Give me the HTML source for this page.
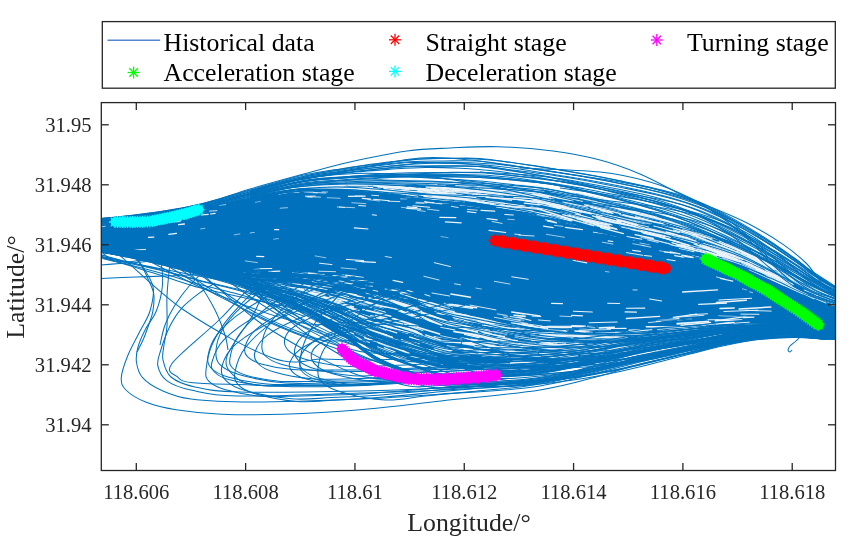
<!DOCTYPE html>
<html><head><meta charset="utf-8"><style>
html,body{margin:0;padding:0;background:#fff;}
svg{display:block;}
text{font-family:"Liberation Serif","Times New Roman",serif;}
</style></head><body>
<svg width="862" height="559" viewBox="0 0 862 559">
<rect width="862" height="559" fill="#fff"/>
<defs><clipPath id="c"><rect x="101.3" y="102.6" width="734.2" height="367.9"/></clipPath></defs>
<g clip-path="url(#c)">
<path d="M95.0,219.0 L150.0,215.0 L205.0,205.0 L250.0,194.0 L300.0,182.0 L360.0,179.0 L420.0,180.0 L480.0,182.0 L540.0,186.0 L600.0,198.0 L660.0,214.0 L700.0,228.0 L740.0,246.0 L780.0,266.0 L810.0,282.0 L840.0,296.0 L840.0,340.0 L780.0,335.0 L740.0,338.0 L700.0,344.0 L640.0,354.0 L600.0,360.0 L560.0,366.0 L500.0,370.0 L441.0,368.0 L400.0,358.0 L340.0,336.0 L300.0,312.0 L250.0,290.0 L200.0,272.0 L150.0,259.0 L95.0,250.0Z" fill="#0072BD"/>
<g stroke="#fff" stroke-linecap="round" opacity="0.92"><line x1="583.4" y1="221.8" x2="616.7" y2="229.2" stroke-width="0.94"/><line x1="741.8" y1="247.1" x2="776.4" y2="264.0" stroke-width="1.07"/><line x1="385.1" y1="182.0" x2="402.8" y2="182.1" stroke-width="1.10"/><line x1="537.3" y1="214.1" x2="571.1" y2="221.1" stroke-width="1.49"/><line x1="323.6" y1="181.3" x2="352.0" y2="180.3" stroke-width="0.73"/><line x1="510.8" y1="192.9" x2="548.3" y2="196.4" stroke-width="1.11"/><line x1="512.8" y1="188.0" x2="523.2" y2="188.5" stroke-width="1.25"/><line x1="323.3" y1="182.7" x2="333.4" y2="182.6" stroke-width="0.82"/><line x1="358.6" y1="188.5" x2="383.9" y2="190.5" stroke-width="1.21"/><line x1="661.6" y1="215.6" x2="687.9" y2="224.8" stroke-width="1.40"/><line x1="425.3" y1="189.1" x2="437.1" y2="190.0" stroke-width="0.96"/><line x1="285.4" y1="189.1" x2="306.8" y2="185.4" stroke-width="1.17"/><line x1="572.1" y1="208.4" x2="602.4" y2="215.7" stroke-width="1.05"/><line x1="346.9" y1="182.2" x2="359.8" y2="182.3" stroke-width="0.87"/><line x1="611.8" y1="207.3" x2="648.0" y2="216.2" stroke-width="0.81"/><line x1="722.3" y1="257.7" x2="759.4" y2="272.0" stroke-width="0.82"/><line x1="309.9" y1="187.5" x2="336.5" y2="188.5" stroke-width="1.41"/><line x1="600.0" y1="212.7" x2="621.3" y2="217.8" stroke-width="0.89"/><line x1="747.6" y1="256.1" x2="774.0" y2="269.7" stroke-width="1.30"/><line x1="431.4" y1="180.9" x2="445.0" y2="180.6" stroke-width="1.23"/><line x1="456.0" y1="190.1" x2="492.2" y2="191.7" stroke-width="1.17"/><line x1="624.8" y1="212.0" x2="650.3" y2="218.5" stroke-width="1.43"/><line x1="291.6" y1="188.9" x2="301.8" y2="187.2" stroke-width="1.35"/><line x1="270.3" y1="190.3" x2="304.8" y2="182.8" stroke-width="1.20"/><line x1="691.6" y1="235.5" x2="723.4" y2="246.8" stroke-width="0.86"/><line x1="422.2" y1="181.5" x2="442.6" y2="182.8" stroke-width="1.16"/><line x1="398.4" y1="181.4" x2="436.9" y2="184.3" stroke-width="1.48"/><line x1="511.5" y1="194.9" x2="548.4" y2="197.5" stroke-width="1.16"/><line x1="461.9" y1="199.5" x2="484.2" y2="201.4" stroke-width="0.75"/><line x1="455.9" y1="189.6" x2="494.5" y2="192.2" stroke-width="1.34"/><line x1="618.5" y1="222.0" x2="647.4" y2="230.4" stroke-width="0.97"/><line x1="449.1" y1="182.9" x2="460.7" y2="183.9" stroke-width="1.43"/><line x1="723.7" y1="238.9" x2="751.8" y2="252.9" stroke-width="1.18"/><line x1="602.5" y1="204.3" x2="641.4" y2="215.3" stroke-width="1.20"/><line x1="600.6" y1="201.2" x2="612.5" y2="204.2" stroke-width="1.31"/><line x1="715.0" y1="250.2" x2="728.4" y2="254.7" stroke-width="1.34"/><line x1="743.0" y1="255.2" x2="780.5" y2="273.8" stroke-width="0.72"/><line x1="354.0" y1="180.4" x2="369.6" y2="180.8" stroke-width="0.73"/><line x1="562.7" y1="193.0" x2="593.0" y2="199.1" stroke-width="0.95"/><line x1="783.4" y1="275.5" x2="817.7" y2="292.4" stroke-width="1.19"/><line x1="316.8" y1="184.4" x2="328.0" y2="184.6" stroke-width="1.47"/><line x1="736.5" y1="244.3" x2="756.6" y2="254.9" stroke-width="0.79"/><line x1="591.3" y1="219.8" x2="610.7" y2="223.3" stroke-width="1.34"/><line x1="264.4" y1="193.7" x2="300.9" y2="185.5" stroke-width="1.16"/><line x1="602.4" y1="214.5" x2="615.2" y2="217.9" stroke-width="1.21"/><line x1="717.4" y1="253.3" x2="737.2" y2="259.5" stroke-width="1.39"/><line x1="766.1" y1="260.4" x2="776.9" y2="265.9" stroke-width="0.87"/><line x1="550.1" y1="214.5" x2="571.5" y2="220.1" stroke-width="1.07"/><line x1="609.9" y1="201.9" x2="631.3" y2="207.6" stroke-width="1.23"/><line x1="721.0" y1="243.5" x2="742.1" y2="251.8" stroke-width="0.87"/><line x1="346.5" y1="181.0" x2="370.2" y2="181.7" stroke-width="1.30"/><line x1="564.4" y1="196.3" x2="576.8" y2="199.0" stroke-width="0.80"/><line x1="279.0" y1="187.2" x2="291.5" y2="184.5" stroke-width="0.92"/><line x1="381.8" y1="189.4" x2="410.4" y2="193.4" stroke-width="1.05"/><line x1="750.0" y1="255.2" x2="781.4" y2="272.0" stroke-width="1.28"/><line x1="681.8" y1="244.0" x2="712.1" y2="250.1" stroke-width="0.75"/><line x1="524.2" y1="203.1" x2="539.9" y2="204.9" stroke-width="1.13"/><line x1="672.0" y1="242.6" x2="685.8" y2="246.9" stroke-width="1.34"/><line x1="592.5" y1="215.8" x2="632.4" y2="226.8" stroke-width="1.37"/><line x1="682.7" y1="229.4" x2="712.0" y2="239.1" stroke-width="1.31"/><line x1="673.3" y1="236.8" x2="696.6" y2="243.5" stroke-width="1.04"/><line x1="729.6" y1="250.1" x2="751.2" y2="259.3" stroke-width="1.28"/><line x1="425.3" y1="194.5" x2="462.9" y2="197.9" stroke-width="0.81"/><line x1="679.4" y1="248.8" x2="693.9" y2="252.0" stroke-width="1.36"/><line x1="782.8" y1="268.1" x2="795.5" y2="275.5" stroke-width="0.79"/><line x1="301.5" y1="184.7" x2="324.9" y2="184.5" stroke-width="0.85"/><line x1="768.7" y1="262.3" x2="801.8" y2="279.5" stroke-width="1.08"/><line x1="385.0" y1="182.6" x2="416.6" y2="183.0" stroke-width="0.75"/><line x1="818.3" y1="298.3" x2="855.8" y2="312.0" stroke-width="1.02"/><line x1="339.9" y1="180.5" x2="350.9" y2="180.0" stroke-width="0.80"/><line x1="300.6" y1="187.1" x2="325.1" y2="187.1" stroke-width="1.24"/><line x1="360.9" y1="183.6" x2="379.4" y2="184.6" stroke-width="1.20"/><line x1="526.3" y1="189.9" x2="560.0" y2="198.7" stroke-width="0.84"/><line x1="267.5" y1="191.1" x2="306.9" y2="179.5" stroke-width="0.88"/><line x1="808.1" y1="283.6" x2="833.3" y2="293.7" stroke-width="1.43"/><line x1="395.8" y1="187.2" x2="407.8" y2="187.8" stroke-width="1.07"/><line x1="746.3" y1="262.5" x2="781.2" y2="278.9" stroke-width="1.27"/><line x1="727.8" y1="252.2" x2="759.8" y2="266.8" stroke-width="0.83"/><line x1="665.4" y1="219.0" x2="703.0" y2="230.4" stroke-width="0.96"/><line x1="786.7" y1="270.5" x2="812.2" y2="284.7" stroke-width="1.47"/><line x1="559.0" y1="211.5" x2="577.5" y2="215.8" stroke-width="1.26"/><line x1="600.5" y1="227.6" x2="623.5" y2="233.6" stroke-width="1.25"/><line x1="719.4" y1="241.1" x2="749.5" y2="254.9" stroke-width="1.14"/><line x1="676.4" y1="220.4" x2="708.2" y2="231.3" stroke-width="1.47"/><line x1="484.1" y1="189.1" x2="515.8" y2="191.6" stroke-width="1.28"/><line x1="240.9" y1="197.7" x2="267.6" y2="191.2" stroke-width="0.73"/><line x1="476.5" y1="194.0" x2="503.1" y2="196.3" stroke-width="1.17"/><line x1="324.0" y1="181.1" x2="360.4" y2="180.6" stroke-width="1.06"/><line x1="666.9" y1="234.1" x2="693.5" y2="242.5" stroke-width="1.07"/><line x1="581.9" y1="217.8" x2="612.2" y2="225.1" stroke-width="1.02"/><line x1="541.2" y1="193.9" x2="573.5" y2="200.9" stroke-width="1.07"/><line x1="673.4" y1="229.9" x2="693.6" y2="235.7" stroke-width="1.00"/><line x1="728.9" y1="256.3" x2="752.3" y2="264.8" stroke-width="0.73"/><line x1="435.8" y1="196.6" x2="463.2" y2="198.5" stroke-width="1.23"/><line x1="622.4" y1="218.9" x2="645.0" y2="224.1" stroke-width="0.93"/><line x1="367.5" y1="183.7" x2="407.5" y2="183.9" stroke-width="1.06"/><line x1="418.6" y1="188.2" x2="457.1" y2="191.2" stroke-width="1.00"/><line x1="358.4" y1="188.5" x2="383.2" y2="190.5" stroke-width="0.76"/><line x1="742.2" y1="251.5" x2="767.0" y2="262.7" stroke-width="1.04"/><line x1="717.8" y1="254.1" x2="742.1" y2="261.9" stroke-width="1.07"/><line x1="430.9" y1="188.2" x2="447.0" y2="189.8" stroke-width="1.27"/><line x1="677.1" y1="219.8" x2="709.1" y2="232.3" stroke-width="1.06"/><line x1="231.3" y1="200.0" x2="248.7" y2="195.9" stroke-width="1.00"/><line x1="595.6" y1="201.7" x2="619.9" y2="208.0" stroke-width="1.20"/><line x1="320.7" y1="188.5" x2="339.4" y2="188.6" stroke-width="0.91"/><line x1="226.6" y1="200.8" x2="259.8" y2="192.1" stroke-width="0.86"/><line x1="271.1" y1="190.2" x2="304.2" y2="181.9" stroke-width="1.44"/><line x1="603.6" y1="215.3" x2="636.6" y2="223.6" stroke-width="0.98"/><line x1="352.1" y1="182.1" x2="376.8" y2="183.2" stroke-width="1.05"/><line x1="602.4" y1="200.7" x2="616.6" y2="204.2" stroke-width="0.93"/><line x1="807.7" y1="281.0" x2="823.3" y2="288.3" stroke-width="1.08"/><line x1="484.2" y1="184.2" x2="502.3" y2="185.3" stroke-width="0.85"/><line x1="583.7" y1="203.4" x2="606.2" y2="208.5" stroke-width="0.83"/><line x1="776.2" y1="279.4" x2="806.3" y2="294.1" stroke-width="1.23"/><line x1="576.0" y1="214.1" x2="592.4" y2="218.7" stroke-width="1.41"/><line x1="267.7" y1="191.0" x2="278.7" y2="187.6" stroke-width="1.43"/><line x1="818.5" y1="292.9" x2="848.5" y2="306.0" stroke-width="1.16"/><line x1="799.5" y1="285.2" x2="819.6" y2="294.3" stroke-width="0.71"/><line x1="652.1" y1="229.6" x2="674.8" y2="236.4" stroke-width="1.30"/><line x1="408.5" y1="180.1" x2="422.5" y2="180.7" stroke-width="0.94"/><line x1="477.2" y1="202.2" x2="495.6" y2="205.0" stroke-width="1.24"/><line x1="741.2" y1="252.1" x2="751.3" y2="257.1" stroke-width="0.90"/><line x1="275.9" y1="192.1" x2="306.5" y2="184.1" stroke-width="0.91"/><line x1="785.6" y1="271.8" x2="816.6" y2="288.0" stroke-width="1.35"/><line x1="269.7" y1="190.8" x2="280.8" y2="188.6" stroke-width="1.38"/><line x1="237.5" y1="197.0" x2="270.5" y2="190.2" stroke-width="0.95"/><line x1="584.6" y1="204.9" x2="620.4" y2="213.6" stroke-width="1.31"/><line x1="596.2" y1="217.6" x2="617.5" y2="223.8" stroke-width="1.26"/><line x1="428.5" y1="179.8" x2="467.4" y2="182.3" stroke-width="0.86"/><line x1="655.7" y1="218.1" x2="679.8" y2="225.0" stroke-width="1.06"/><line x1="378.2" y1="181.6" x2="390.5" y2="182.5" stroke-width="0.92"/><line x1="298.7" y1="182.1" x2="322.7" y2="181.1" stroke-width="1.29"/><line x1="776.8" y1="267.2" x2="804.0" y2="281.5" stroke-width="0.76"/><line x1="267.8" y1="193.4" x2="292.0" y2="188.3" stroke-width="0.75"/><line x1="562.7" y1="214.6" x2="598.7" y2="223.8" stroke-width="1.12"/><line x1="430.1" y1="193.1" x2="442.3" y2="194.3" stroke-width="1.35"/><line x1="481.0" y1="189.3" x2="520.0" y2="193.8" stroke-width="0.73"/><line x1="444.8" y1="182.3" x2="457.2" y2="182.7" stroke-width="1.46"/><line x1="561.0" y1="205.8" x2="580.7" y2="211.2" stroke-width="1.30"/><line x1="563.9" y1="212.3" x2="590.4" y2="219.4" stroke-width="1.17"/><line x1="499.9" y1="184.9" x2="528.5" y2="187.8" stroke-width="0.81"/><line x1="537.7" y1="203.7" x2="559.8" y2="208.8" stroke-width="1.00"/><line x1="533.3" y1="200.2" x2="560.1" y2="208.1" stroke-width="1.35"/><line x1="782.5" y1="268.3" x2="800.0" y2="277.2" stroke-width="1.38"/><line x1="772.6" y1="262.4" x2="792.6" y2="272.8" stroke-width="1.08"/><line x1="782.2" y1="267.8" x2="797.4" y2="275.5" stroke-width="1.12"/><line x1="670.0" y1="226.4" x2="684.2" y2="231.4" stroke-width="1.49"/><line x1="663.3" y1="217.2" x2="697.6" y2="227.8" stroke-width="1.33"/><line x1="745.8" y1="250.3" x2="769.4" y2="262.3" stroke-width="1.11"/><line x1="296.6" y1="182.7" x2="315.1" y2="181.5" stroke-width="0.87"/><line x1="272.9" y1="189.6" x2="293.6" y2="185.9" stroke-width="0.92"/><line x1="403.1" y1="190.6" x2="420.7" y2="192.1" stroke-width="1.30"/><line x1="441.5" y1="197.7" x2="479.0" y2="201.1" stroke-width="1.29"/><line x1="350.4" y1="179.4" x2="373.6" y2="180.1" stroke-width="1.45"/><line x1="281.2" y1="189.5" x2="305.5" y2="184.7" stroke-width="1.48"/><line x1="626.7" y1="206.1" x2="663.9" y2="217.6" stroke-width="0.77"/><line x1="406.7" y1="194.7" x2="417.7" y2="196.3" stroke-width="1.19"/><line x1="231.0" y1="199.9" x2="254.8" y2="194.0" stroke-width="1.29"/><line x1="627.0" y1="236.5" x2="641.7" y2="239.3" stroke-width="1.03"/><line x1="681.4" y1="244.7" x2="721.2" y2="256.5" stroke-width="1.06"/><line x1="792.8" y1="288.5" x2="814.0" y2="298.8" stroke-width="1.02"/><line x1="427.8" y1="192.6" x2="451.9" y2="195.3" stroke-width="1.01"/><line x1="471.1" y1="183.1" x2="482.9" y2="183.6" stroke-width="1.15"/><line x1="621.6" y1="227.1" x2="638.5" y2="230.5" stroke-width="0.92"/><line x1="383.9" y1="188.3" x2="405.1" y2="191.4" stroke-width="1.21"/><line x1="303.9" y1="182.1" x2="334.9" y2="180.6" stroke-width="0.94"/><line x1="596.0" y1="197.5" x2="618.1" y2="202.9" stroke-width="0.90"/><line x1="409.0" y1="188.4" x2="436.7" y2="190.1" stroke-width="1.27"/><line x1="243.2" y1="198.2" x2="259.3" y2="195.1" stroke-width="0.86"/><line x1="820.5" y1="290.0" x2="848.6" y2="301.3" stroke-width="1.46"/><line x1="518.0" y1="197.0" x2="549.1" y2="201.1" stroke-width="0.96"/><line x1="544.0" y1="187.8" x2="560.1" y2="190.6" stroke-width="0.76"/><line x1="785.2" y1="274.4" x2="801.3" y2="282.4" stroke-width="0.71"/><line x1="338.3" y1="188.6" x2="375.3" y2="190.0" stroke-width="0.77"/><line x1="395.3" y1="179.8" x2="411.8" y2="179.9" stroke-width="0.80"/><line x1="597.9" y1="198.6" x2="612.6" y2="202.8" stroke-width="0.97"/><line x1="396.2" y1="180.0" x2="430.1" y2="180.9" stroke-width="1.14"/><line x1="586.6" y1="196.4" x2="604.4" y2="200.3" stroke-width="1.46"/><line x1="710.2" y1="245.7" x2="735.7" y2="255.2" stroke-width="1.41"/><line x1="227.4" y1="200.1" x2="258.2" y2="191.7" stroke-width="1.33"/><line x1="484.0" y1="184.5" x2="495.1" y2="185.0" stroke-width="1.48"/><line x1="345.2" y1="187.4" x2="367.3" y2="188.4" stroke-width="1.10"/><line x1="467.7" y1="183.5" x2="499.0" y2="185.8" stroke-width="1.40"/><line x1="764.6" y1="261.9" x2="783.1" y2="271.3" stroke-width="1.10"/><line x1="241.9" y1="195.4" x2="281.6" y2="187.0" stroke-width="0.74"/><line x1="515.7" y1="194.5" x2="538.7" y2="196.4" stroke-width="1.46"/><line x1="268.9" y1="189.4" x2="291.1" y2="184.9" stroke-width="1.20"/><line x1="658.9" y1="227.2" x2="675.2" y2="232.8" stroke-width="0.71"/><line x1="635.0" y1="210.0" x2="659.1" y2="217.2" stroke-width="1.13"/><line x1="221.5" y1="201.3" x2="251.4" y2="194.8" stroke-width="0.90"/><line x1="533.1" y1="192.0" x2="558.2" y2="197.0" stroke-width="1.23"/><line x1="291.4" y1="186.3" x2="330.2" y2="188.6" stroke-width="1.07"/><line x1="733.1" y1="246.3" x2="767.2" y2="262.7" stroke-width="1.28"/><line x1="394.9" y1="186.6" x2="432.7" y2="190.2" stroke-width="1.35"/><line x1="536.5" y1="192.2" x2="557.0" y2="197.1" stroke-width="0.91"/><line x1="583.8" y1="196.1" x2="613.8" y2="201.9" stroke-width="1.48"/><line x1="761.4" y1="270.9" x2="776.8" y2="277.6" stroke-width="0.86"/><line x1="741.9" y1="263.6" x2="770.5" y2="276.6" stroke-width="0.86"/><line x1="525.6" y1="189.8" x2="539.3" y2="190.9" stroke-width="1.34"/><line x1="785.1" y1="269.9" x2="795.5" y2="275.4" stroke-width="0.81"/><line x1="309.4" y1="184.6" x2="332.1" y2="184.6" stroke-width="0.86"/><line x1="614.3" y1="206.7" x2="636.3" y2="213.8" stroke-width="1.42"/><line x1="348.0" y1="185.8" x2="367.3" y2="186.0" stroke-width="1.02"/><line x1="508.2" y1="205.8" x2="538.4" y2="208.3" stroke-width="0.81"/><line x1="824.6" y1="289.1" x2="843.6" y2="297.5" stroke-width="0.71"/><line x1="297.0" y1="183.1" x2="309.6" y2="182.0" stroke-width="1.17"/><line x1="386.6" y1="179.7" x2="420.9" y2="181.2" stroke-width="1.15"/><line x1="273.7" y1="189.9" x2="302.6" y2="184.2" stroke-width="1.39"/><line x1="442.9" y1="188.4" x2="456.3" y2="189.5" stroke-width="1.31"/><line x1="648.1" y1="215.7" x2="687.9" y2="226.6" stroke-width="1.04"/><line x1="457.9" y1="196.2" x2="473.2" y2="197.5" stroke-width="1.28"/><line x1="518.4" y1="206.6" x2="542.5" y2="209.1" stroke-width="0.93"/><line x1="773.0" y1="266.3" x2="803.8" y2="281.7" stroke-width="1.45"/><line x1="786.8" y1="270.8" x2="826.6" y2="289.9" stroke-width="0.76"/><line x1="504.9" y1="183.8" x2="531.3" y2="186.0" stroke-width="0.99"/><line x1="377.7" y1="185.1" x2="412.3" y2="188.9" stroke-width="0.96"/><line x1="554.0" y1="188.4" x2="575.2" y2="193.5" stroke-width="0.80"/><line x1="747.3" y1="260.4" x2="766.1" y2="269.4" stroke-width="0.93"/><line x1="765.9" y1="259.5" x2="779.5" y2="266.3" stroke-width="1.06"/><line x1="284.9" y1="187.8" x2="303.8" y2="183.3" stroke-width="1.29"/><line x1="734.5" y1="242.7" x2="762.3" y2="258.5" stroke-width="1.07"/><line x1="674.4" y1="220.8" x2="710.6" y2="232.0" stroke-width="1.41"/><line x1="697.9" y1="248.8" x2="709.6" y2="252.4" stroke-width="0.86"/><line x1="356.2" y1="181.1" x2="384.0" y2="182.2" stroke-width="1.45"/><line x1="306.5" y1="183.1" x2="341.1" y2="182.4" stroke-width="1.11"/><line x1="677.2" y1="236.0" x2="695.9" y2="240.9" stroke-width="1.07"/><line x1="757.5" y1="264.2" x2="769.1" y2="269.5" stroke-width="1.01"/><line x1="553.5" y1="203.7" x2="592.0" y2="210.0" stroke-width="1.03"/><line x1="577.1" y1="218.8" x2="608.2" y2="227.4" stroke-width="1.35"/><line x1="501.4" y1="206.9" x2="519.8" y2="209.6" stroke-width="0.94"/><line x1="729.7" y1="251.2" x2="755.0" y2="263.0" stroke-width="1.33"/><line x1="224.0" y1="202.6" x2="260.3" y2="194.2" stroke-width="0.80"/><line x1="760.0" y1="263.1" x2="773.7" y2="269.1" stroke-width="0.90"/><line x1="442.3" y1="190.8" x2="479.7" y2="194.9" stroke-width="0.83"/><line x1="485.7" y1="190.8" x2="525.3" y2="195.3" stroke-width="1.11"/><line x1="776.3" y1="268.9" x2="794.1" y2="278.4" stroke-width="0.96"/><line x1="785.2" y1="269.0" x2="801.4" y2="278.3" stroke-width="1.27"/><line x1="369.2" y1="190.0" x2="406.0" y2="193.4" stroke-width="0.90"/><line x1="431.6" y1="198.8" x2="464.5" y2="201.6" stroke-width="1.26"/><line x1="771.2" y1="279.3" x2="802.7" y2="293.6" stroke-width="1.37"/><line x1="413.4" y1="180.5" x2="445.2" y2="181.6" stroke-width="1.01"/><line x1="824.4" y1="296.0" x2="850.1" y2="304.4" stroke-width="0.93"/><line x1="829.2" y1="304.7" x2="850.1" y2="308.1" stroke-width="0.80"/><line x1="780.9" y1="268.2" x2="791.1" y2="273.6" stroke-width="1.18"/><line x1="624.3" y1="224.6" x2="635.6" y2="227.6" stroke-width="1.10"/><line x1="216.1" y1="203.3" x2="248.2" y2="195.1" stroke-width="1.19"/><line x1="211.2" y1="204.5" x2="248.2" y2="194.0" stroke-width="1.13"/><line x1="224.5" y1="202.0" x2="239.6" y2="198.8" stroke-width="1.14"/><line x1="643.9" y1="236.9" x2="676.0" y2="245.9" stroke-width="0.76"/><line x1="647.5" y1="239.9" x2="658.0" y2="242.4" stroke-width="0.84"/><line x1="480.2" y1="190.7" x2="508.6" y2="194.8" stroke-width="1.25"/><line x1="439.1" y1="192.8" x2="463.1" y2="195.1" stroke-width="0.99"/><line x1="507.1" y1="188.0" x2="524.4" y2="189.5" stroke-width="1.05"/><line x1="370.0" y1="188.9" x2="405.4" y2="192.2" stroke-width="1.20"/><line x1="764.1" y1="262.2" x2="790.8" y2="275.9" stroke-width="1.22"/><line x1="794.8" y1="276.4" x2="833.7" y2="293.5" stroke-width="1.34"/><line x1="596.6" y1="223.1" x2="616.4" y2="228.7" stroke-width="0.91"/><line x1="517.5" y1="199.5" x2="533.6" y2="201.9" stroke-width="1.33"/><line x1="707.9" y1="245.4" x2="727.5" y2="252.9" stroke-width="0.77"/><line x1="609.7" y1="215.2" x2="638.3" y2="222.5" stroke-width="0.88"/><line x1="648.4" y1="221.0" x2="680.7" y2="230.4" stroke-width="0.77"/><line x1="528.3" y1="197.8" x2="566.0" y2="206.5" stroke-width="0.75"/><line x1="678.5" y1="224.8" x2="709.4" y2="235.1" stroke-width="0.96"/><line x1="497.1" y1="193.1" x2="527.9" y2="196.4" stroke-width="1.24"/><line x1="435.6" y1="191.4" x2="456.0" y2="193.7" stroke-width="1.07"/><line x1="547.7" y1="187.9" x2="572.7" y2="192.4" stroke-width="1.01"/><line x1="228.8" y1="201.1" x2="265.6" y2="191.5" stroke-width="0.78"/><line x1="578.6" y1="196.2" x2="615.3" y2="202.2" stroke-width="0.99"/><line x1="506.8" y1="184.9" x2="526.4" y2="186.6" stroke-width="1.27"/><line x1="814.4" y1="287.6" x2="848.1" y2="302.6" stroke-width="1.16"/><line x1="459.6" y1="185.7" x2="494.3" y2="186.1" stroke-width="0.81"/><line x1="367.3" y1="188.4" x2="407.0" y2="192.0" stroke-width="1.40"/><line x1="815.2" y1="294.3" x2="844.6" y2="305.8" stroke-width="1.00"/><line x1="589.5" y1="224.2" x2="608.6" y2="228.8" stroke-width="0.72"/><line x1="628.9" y1="216.3" x2="662.9" y2="223.7" stroke-width="1.23"/><line x1="623.0" y1="214.7" x2="638.6" y2="218.9" stroke-width="1.30"/><line x1="309.1" y1="182.4" x2="333.0" y2="180.0" stroke-width="1.34"/><line x1="705.4" y1="253.9" x2="740.6" y2="264.5" stroke-width="0.85"/><line x1="710.5" y1="248.9" x2="742.9" y2="259.3" stroke-width="1.36"/><line x1="377.9" y1="187.2" x2="403.4" y2="188.5" stroke-width="0.96"/><line x1="289.0" y1="185.5" x2="310.0" y2="183.2" stroke-width="1.38"/><line x1="616.4" y1="219.8" x2="655.9" y2="231.4" stroke-width="1.11"/><line x1="240.0" y1="198.0" x2="278.5" y2="187.5" stroke-width="1.31"/><line x1="736.9" y1="251.3" x2="770.8" y2="269.6" stroke-width="0.98"/><line x1="514.1" y1="187.0" x2="533.3" y2="188.2" stroke-width="1.49"/><line x1="395.4" y1="181.4" x2="433.6" y2="182.8" stroke-width="1.47"/><line x1="734.7" y1="254.8" x2="757.5" y2="264.8" stroke-width="0.78"/><line x1="255.2" y1="193.7" x2="277.5" y2="188.2" stroke-width="1.13"/><line x1="826.8" y1="298.4" x2="841.2" y2="304.2" stroke-width="0.83"/><line x1="796.2" y1="278.7" x2="811.9" y2="286.1" stroke-width="1.22"/><line x1="479.4" y1="182.0" x2="510.9" y2="184.2" stroke-width="1.32"/><line x1="500.8" y1="193.4" x2="524.6" y2="196.4" stroke-width="1.49"/><line x1="698.2" y1="228.4" x2="723.1" y2="238.3" stroke-width="0.78"/><line x1="305.5" y1="181.7" x2="344.3" y2="182.1" stroke-width="1.38"/><line x1="636.4" y1="214.3" x2="658.1" y2="219.0" stroke-width="0.93"/><line x1="463.6" y1="196.5" x2="475.9" y2="197.6" stroke-width="1.08"/><line x1="616.9" y1="220.2" x2="648.7" y2="226.9" stroke-width="0.84"/><line x1="381.4" y1="182.2" x2="414.1" y2="182.3" stroke-width="1.25"/><line x1="371.6" y1="188.6" x2="409.3" y2="191.8" stroke-width="0.98"/><line x1="409.3" y1="187.2" x2="445.2" y2="192.9" stroke-width="0.85"/><line x1="273.6" y1="191.2" x2="302.4" y2="187.0" stroke-width="0.76"/><line x1="419.3" y1="192.7" x2="449.2" y2="196.1" stroke-width="1.02"/><line x1="596.3" y1="215.9" x2="619.9" y2="222.0" stroke-width="1.47"/><line x1="485.5" y1="196.8" x2="511.6" y2="200.5" stroke-width="0.89"/><line x1="232.3" y1="198.4" x2="248.3" y2="194.8" stroke-width="0.96"/><line x1="426.7" y1="194.3" x2="437.4" y2="195.1" stroke-width="1.35"/><line x1="532.7" y1="193.4" x2="550.7" y2="197.0" stroke-width="0.88"/><line x1="739.5" y1="261.1" x2="759.2" y2="270.0" stroke-width="1.41"/><line x1="373.3" y1="185.8" x2="409.0" y2="189.5" stroke-width="1.39"/><line x1="501.1" y1="202.9" x2="525.0" y2="206.0" stroke-width="1.08"/><line x1="397.2" y1="190.3" x2="432.1" y2="193.5" stroke-width="0.83"/><line x1="426.2" y1="187.1" x2="464.9" y2="188.4" stroke-width="1.47"/><line x1="658.0" y1="231.5" x2="676.1" y2="235.4" stroke-width="0.70"/><line x1="726.9" y1="243.9" x2="739.3" y2="248.8" stroke-width="0.96"/><line x1="654.9" y1="212.2" x2="671.8" y2="218.2" stroke-width="1.38"/><line x1="594.2" y1="210.8" x2="610.9" y2="214.9" stroke-width="1.31"/><line x1="520.0" y1="186.7" x2="536.5" y2="187.9" stroke-width="0.75"/><line x1="450.8" y1="187.8" x2="469.4" y2="188.8" stroke-width="0.97"/><line x1="428.7" y1="189.6" x2="453.6" y2="192.1" stroke-width="1.34"/><line x1="512.7" y1="192.8" x2="544.1" y2="195.8" stroke-width="1.38"/><line x1="703.4" y1="243.8" x2="735.0" y2="255.8" stroke-width="1.26"/><line x1="356.1" y1="180.6" x2="369.7" y2="180.9" stroke-width="0.72"/><line x1="603.8" y1="220.3" x2="637.1" y2="228.4" stroke-width="1.21"/><line x1="728.6" y1="241.1" x2="744.4" y2="248.1" stroke-width="1.07"/><line x1="300.0" y1="184.6" x2="320.3" y2="184.1" stroke-width="1.13"/><line x1="623.6" y1="209.1" x2="654.8" y2="216.5" stroke-width="1.28"/><line x1="230.2" y1="200.7" x2="257.5" y2="195.4" stroke-width="1.05"/><line x1="522.5" y1="195.4" x2="540.0" y2="197.2" stroke-width="0.99"/><line x1="694.2" y1="234.3" x2="705.4" y2="238.0" stroke-width="0.86"/><line x1="812.2" y1="285.4" x2="838.4" y2="297.9" stroke-width="0.74"/><line x1="768.8" y1="277.4" x2="784.4" y2="284.3" stroke-width="1.00"/><line x1="290.3" y1="185.5" x2="323.7" y2="185.2" stroke-width="1.24"/><line x1="331.4" y1="183.7" x2="362.5" y2="183.4" stroke-width="1.06"/><line x1="729.0" y1="241.1" x2="747.1" y2="249.3" stroke-width="1.49"/><line x1="334.4" y1="180.5" x2="356.9" y2="179.2" stroke-width="0.82"/><line x1="721.8" y1="239.9" x2="753.0" y2="254.0" stroke-width="1.41"/><line x1="311.3" y1="185.9" x2="346.4" y2="186.0" stroke-width="0.77"/><line x1="562.9" y1="201.9" x2="587.3" y2="207.1" stroke-width="1.07"/><line x1="506.3" y1="193.1" x2="529.9" y2="195.1" stroke-width="0.83"/><line x1="380.3" y1="181.3" x2="397.7" y2="182.2" stroke-width="0.79"/><line x1="321.8" y1="184.5" x2="341.2" y2="183.4" stroke-width="1.00"/><line x1="501.7" y1="198.3" x2="540.9" y2="201.6" stroke-width="1.04"/><line x1="480.5" y1="188.5" x2="497.6" y2="190.7" stroke-width="0.75"/><line x1="317.3" y1="185.2" x2="345.0" y2="185.4" stroke-width="1.45"/><line x1="455.7" y1="191.4" x2="468.4" y2="192.3" stroke-width="0.78"/><line x1="433.0" y1="196.7" x2="471.4" y2="200.3" stroke-width="1.36"/><line x1="337.5" y1="180.1" x2="361.1" y2="179.1" stroke-width="1.47"/><line x1="403.1" y1="181.8" x2="413.5" y2="181.4" stroke-width="0.76"/><line x1="765.4" y1="269.6" x2="786.5" y2="279.9" stroke-width="1.34"/><line x1="390.0" y1="189.7" x2="427.9" y2="196.4" stroke-width="0.98"/><line x1="766.2" y1="275.9" x2="786.6" y2="285.9" stroke-width="1.39"/><line x1="612.0" y1="204.8" x2="639.0" y2="212.8" stroke-width="1.44"/><line x1="413.3" y1="181.9" x2="424.6" y2="181.8" stroke-width="1.49"/><line x1="320.2" y1="183.5" x2="359.3" y2="182.7" stroke-width="0.94"/><line x1="706.6" y1="232.6" x2="744.5" y2="248.0" stroke-width="0.81"/><line x1="563.7" y1="203.3" x2="594.5" y2="211.3" stroke-width="1.01"/><line x1="346.5" y1="181.4" x2="361.7" y2="181.0" stroke-width="1.41"/><line x1="418.1" y1="190.5" x2="442.8" y2="192.8" stroke-width="0.98"/><line x1="804.0" y1="283.3" x2="831.4" y2="294.5" stroke-width="0.94"/><line x1="701.7" y1="230.4" x2="733.7" y2="243.8" stroke-width="1.37"/><line x1="804.4" y1="290.0" x2="843.7" y2="304.6" stroke-width="1.12"/><line x1="325.4" y1="181.4" x2="348.6" y2="179.5" stroke-width="1.32"/><line x1="793.6" y1="275.6" x2="812.4" y2="285.6" stroke-width="1.42"/><line x1="659.4" y1="220.5" x2="683.3" y2="227.8" stroke-width="0.99"/><line x1="703.4" y1="247.5" x2="727.4" y2="256.0" stroke-width="1.01"/><line x1="670.0" y1="232.9" x2="689.9" y2="239.0" stroke-width="1.18"/><line x1="523.7" y1="183.4" x2="563.4" y2="192.6" stroke-width="0.73"/><line x1="797.5" y1="282.5" x2="811.2" y2="289.0" stroke-width="1.05"/><line x1="643.4" y1="233.1" x2="669.5" y2="239.2" stroke-width="1.36"/><line x1="635.1" y1="234.6" x2="653.2" y2="238.5" stroke-width="1.40"/><line x1="417.2" y1="185.0" x2="437.2" y2="186.2" stroke-width="0.89"/><line x1="395.7" y1="180.8" x2="428.7" y2="180.5" stroke-width="1.15"/><line x1="365.8" y1="181.3" x2="398.4" y2="183.9" stroke-width="1.18"/><line x1="452.1" y1="190.1" x2="489.0" y2="192.9" stroke-width="1.12"/><line x1="620.4" y1="204.5" x2="659.3" y2="214.7" stroke-width="1.35"/><line x1="597.3" y1="225.7" x2="609.9" y2="228.6" stroke-width="1.29"/><line x1="772.7" y1="272.0" x2="800.8" y2="286.1" stroke-width="1.16"/><line x1="537.7" y1="208.8" x2="572.5" y2="219.7" stroke-width="1.44"/><line x1="230.4" y1="200.3" x2="254.3" y2="195.2" stroke-width="0.94"/><line x1="493.6" y1="201.4" x2="504.6" y2="202.7" stroke-width="1.09"/><line x1="727.6" y1="242.4" x2="762.3" y2="260.9" stroke-width="0.94"/><line x1="536.2" y1="200.6" x2="572.6" y2="209.1" stroke-width="0.90"/><line x1="666.4" y1="231.9" x2="688.0" y2="238.1" stroke-width="1.42"/><line x1="499.8" y1="205.2" x2="513.6" y2="206.9" stroke-width="1.31"/><line x1="383.1" y1="185.7" x2="408.0" y2="187.8" stroke-width="1.30"/><line x1="665.6" y1="217.9" x2="683.4" y2="224.1" stroke-width="1.43"/><line x1="746.3" y1="256.9" x2="767.4" y2="266.5" stroke-width="0.84"/><line x1="510.0" y1="187.3" x2="524.9" y2="188.4" stroke-width="0.75"/><line x1="486.3" y1="197.2" x2="515.8" y2="199.4" stroke-width="1.41"/><line x1="593.9" y1="224.2" x2="617.3" y2="229.5" stroke-width="0.93"/><line x1="523.1" y1="210.5" x2="551.1" y2="215.0" stroke-width="1.33"/><line x1="394.6" y1="191.3" x2="405.2" y2="192.1" stroke-width="0.84"/><line x1="359.3" y1="189.1" x2="370.1" y2="190.4" stroke-width="1.16"/><line x1="639.2" y1="229.6" x2="660.7" y2="235.4" stroke-width="1.38"/><line x1="269.7" y1="189.0" x2="286.6" y2="185.7" stroke-width="1.45"/><line x1="653.6" y1="226.1" x2="679.3" y2="232.7" stroke-width="1.20"/><line x1="407.2" y1="180.5" x2="423.3" y2="180.5" stroke-width="1.21"/><line x1="691.7" y1="224.6" x2="728.7" y2="241.2" stroke-width="1.44"/><line x1="563.2" y1="203.3" x2="597.8" y2="211.3" stroke-width="1.24"/><line x1="290.5" y1="186.0" x2="311.2" y2="183.9" stroke-width="0.81"/><line x1="490.6" y1="185.0" x2="523.6" y2="190.3" stroke-width="0.71"/><line x1="825.4" y1="293.9" x2="850.7" y2="301.2" stroke-width="0.87"/><line x1="451.9" y1="196.1" x2="463.1" y2="196.8" stroke-width="1.49"/><line x1="549.4" y1="194.9" x2="566.4" y2="198.2" stroke-width="0.96"/><line x1="728.3" y1="240.3" x2="761.9" y2="256.7" stroke-width="0.72"/><line x1="229.4" y1="200.3" x2="259.6" y2="194.0" stroke-width="1.39"/><line x1="327.8" y1="183.1" x2="341.2" y2="182.9" stroke-width="0.77"/><line x1="302.4" y1="186.0" x2="327.4" y2="186.5" stroke-width="1.29"/><line x1="572.7" y1="196.3" x2="603.7" y2="201.4" stroke-width="0.92"/><line x1="480.2" y1="183.1" x2="493.4" y2="184.1" stroke-width="1.29"/><line x1="429.1" y1="185.3" x2="445.4" y2="186.2" stroke-width="1.16"/><line x1="778.9" y1="265.9" x2="816.1" y2="285.2" stroke-width="0.98"/><line x1="649.8" y1="233.9" x2="679.3" y2="242.4" stroke-width="1.20"/><line x1="749.0" y1="251.5" x2="773.4" y2="263.4" stroke-width="1.38"/><line x1="682.0" y1="222.0" x2="714.4" y2="233.5" stroke-width="0.80"/><line x1="526.1" y1="201.0" x2="546.1" y2="203.4" stroke-width="1.48"/><line x1="600.8" y1="210.6" x2="612.8" y2="213.3" stroke-width="1.38"/><line x1="661.6" y1="237.5" x2="688.9" y2="245.4" stroke-width="1.12"/><line x1="658.0" y1="220.1" x2="682.9" y2="227.5" stroke-width="1.23"/><line x1="332.0" y1="180.6" x2="344.7" y2="179.7" stroke-width="1.39"/><line x1="647.1" y1="230.0" x2="670.4" y2="237.5" stroke-width="1.07"/><line x1="737.8" y1="251.9" x2="766.8" y2="267.5" stroke-width="0.82"/><line x1="590.9" y1="207.4" x2="611.2" y2="212.3" stroke-width="1.26"/><line x1="394.6" y1="186.5" x2="412.4" y2="187.8" stroke-width="1.00"/><line x1="490.5" y1="204.8" x2="522.0" y2="208.0" stroke-width="0.97"/><line x1="718.0" y1="242.0" x2="757.6" y2="258.7" stroke-width="1.23"/><line x1="716.1" y1="245.6" x2="748.1" y2="257.4" stroke-width="0.81"/><line x1="338.8" y1="184.5" x2="371.7" y2="183.7" stroke-width="1.47"/><line x1="405.1" y1="196.8" x2="437.7" y2="199.3" stroke-width="0.99"/><line x1="247.3" y1="194.8" x2="276.2" y2="187.8" stroke-width="1.43"/><line x1="424.1" y1="196.5" x2="443.0" y2="199.4" stroke-width="1.44"/><line x1="283.6" y1="189.1" x2="314.8" y2="184.9" stroke-width="1.37"/><line x1="533.0" y1="195.7" x2="554.0" y2="199.5" stroke-width="1.42"/><line x1="293.6" y1="186.0" x2="311.9" y2="186.4" stroke-width="0.86"/><line x1="558.3" y1="195.1" x2="575.5" y2="197.7" stroke-width="0.96"/><line x1="683.2" y1="222.9" x2="707.7" y2="230.1" stroke-width="0.74"/><line x1="368.2" y1="188.7" x2="408.1" y2="195.1" stroke-width="0.84"/><line x1="681.5" y1="230.9" x2="696.6" y2="235.2" stroke-width="1.44"/><line x1="755.5" y1="259.0" x2="767.4" y2="264.7" stroke-width="1.49"/><line x1="514.1" y1="187.6" x2="540.4" y2="189.4" stroke-width="1.09"/><line x1="416.2" y1="182.6" x2="435.1" y2="183.0" stroke-width="0.90"/><line x1="794.1" y1="274.4" x2="825.9" y2="289.6" stroke-width="1.02"/><line x1="565.9" y1="195.3" x2="596.0" y2="200.5" stroke-width="1.29"/><line x1="496.7" y1="207.0" x2="532.7" y2="211.2" stroke-width="1.25"/><line x1="361.2" y1="189.4" x2="390.5" y2="192.8" stroke-width="0.93"/><line x1="815.8" y1="285.2" x2="841.7" y2="297.4" stroke-width="0.85"/><line x1="678.3" y1="220.9" x2="699.8" y2="228.6" stroke-width="1.38"/><line x1="234.9" y1="197.6" x2="270.6" y2="190.5" stroke-width="1.26"/><line x1="819.4" y1="286.7" x2="849.3" y2="300.1" stroke-width="0.76"/><line x1="239.5" y1="198.2" x2="267.9" y2="192.5" stroke-width="0.71"/><line x1="525.2" y1="185.3" x2="557.6" y2="189.3" stroke-width="1.35"/><line x1="254.7" y1="194.0" x2="267.7" y2="191.3" stroke-width="1.15"/><line x1="335.0" y1="188.0" x2="365.4" y2="190.3" stroke-width="1.38"/><line x1="433.7" y1="197.6" x2="452.6" y2="200.6" stroke-width="0.75"/><line x1="658.8" y1="218.9" x2="681.5" y2="226.5" stroke-width="0.74"/><line x1="327.0" y1="180.3" x2="359.2" y2="180.2" stroke-width="1.10"/><line x1="391.2" y1="181.5" x2="429.3" y2="182.6" stroke-width="1.22"/><line x1="641.9" y1="232.5" x2="659.8" y2="236.6" stroke-width="1.07"/><line x1="290.0" y1="182.5" x2="327.6" y2="180.7" stroke-width="1.03"/><line x1="274.3" y1="191.4" x2="300.3" y2="185.9" stroke-width="1.49"/><line x1="791.1" y1="288.4" x2="825.9" y2="303.0" stroke-width="0.94"/><line x1="602.8" y1="200.7" x2="631.3" y2="208.9" stroke-width="0.71"/><line x1="642.5" y1="216.2" x2="673.4" y2="224.2" stroke-width="1.37"/><line x1="579.2" y1="218.5" x2="609.0" y2="225.3" stroke-width="1.42"/><line x1="216.9" y1="202.3" x2="238.5" y2="197.2" stroke-width="0.84"/><line x1="751.3" y1="251.7" x2="766.8" y2="259.5" stroke-width="0.88"/><line x1="348.9" y1="188.3" x2="381.8" y2="192.1" stroke-width="0.81"/><line x1="355.3" y1="189.6" x2="389.1" y2="193.0" stroke-width="1.27"/><line x1="431.2" y1="192.3" x2="450.1" y2="194.0" stroke-width="0.72"/><line x1="370.9" y1="189.5" x2="407.6" y2="192.8" stroke-width="1.30"/><line x1="306.1" y1="182.4" x2="343.1" y2="182.9" stroke-width="1.05"/><line x1="676.7" y1="245.2" x2="716.6" y2="256.2" stroke-width="1.22"/><line x1="437.7" y1="187.1" x2="461.5" y2="188.9" stroke-width="0.72"/><line x1="673.0" y1="236.0" x2="708.2" y2="245.9" stroke-width="0.89"/><line x1="569.4" y1="218.9" x2="593.6" y2="225.8" stroke-width="1.18"/><line x1="794.3" y1="289.5" x2="831.3" y2="302.7" stroke-width="0.91"/><line x1="739.4" y1="259.9" x2="774.9" y2="276.7" stroke-width="0.93"/><line x1="335.0" y1="188.4" x2="372.6" y2="187.5" stroke-width="1.40"/><line x1="430.6" y1="187.0" x2="457.6" y2="187.6" stroke-width="0.91"/><line x1="357.9" y1="180.4" x2="383.4" y2="181.7" stroke-width="1.32"/><line x1="297.2" y1="184.0" x2="326.5" y2="183.3" stroke-width="1.03"/><line x1="542.0" y1="198.8" x2="578.8" y2="206.8" stroke-width="0.80"/><line x1="718.1" y1="246.0" x2="748.4" y2="258.1" stroke-width="1.08"/><line x1="630.9" y1="229.4" x2="665.0" y2="236.5" stroke-width="1.37"/><line x1="546.0" y1="203.2" x2="581.6" y2="212.0" stroke-width="1.44"/><line x1="753.3" y1="267.1" x2="774.7" y2="276.8" stroke-width="0.84"/><line x1="678.6" y1="244.6" x2="693.4" y2="248.2" stroke-width="1.43"/><line x1="501.2" y1="187.3" x2="512.1" y2="188.3" stroke-width="0.97"/><line x1="514.5" y1="187.0" x2="542.7" y2="188.9" stroke-width="1.35"/><line x1="617.7" y1="222.8" x2="635.2" y2="226.8" stroke-width="1.40"/><line x1="780.0" y1="274.6" x2="817.6" y2="295.5" stroke-width="1.18"/><line x1="455.8" y1="185.5" x2="480.5" y2="188.1" stroke-width="1.04"/><line x1="514.0" y1="184.4" x2="535.8" y2="186.0" stroke-width="1.21"/><line x1="704.6" y1="243.8" x2="734.5" y2="253.1" stroke-width="0.90"/><line x1="421.6" y1="193.9" x2="460.0" y2="198.7" stroke-width="0.71"/><line x1="801.2" y1="291.4" x2="829.4" y2="302.4" stroke-width="1.18"/><line x1="767.4" y1="262.4" x2="790.7" y2="273.7" stroke-width="0.87"/><line x1="641.8" y1="214.1" x2="673.1" y2="221.8" stroke-width="1.04"/><line x1="817.3" y1="293.1" x2="850.0" y2="306.5" stroke-width="0.79"/><line x1="640.9" y1="237.4" x2="669.8" y2="243.7" stroke-width="0.75"/><line x1="756.2" y1="269.8" x2="785.1" y2="283.6" stroke-width="1.26"/><line x1="340.7" y1="185.1" x2="371.5" y2="185.4" stroke-width="0.91"/><line x1="317.1" y1="186.8" x2="333.5" y2="187.2" stroke-width="0.90"/><line x1="514.1" y1="197.6" x2="550.4" y2="199.2" stroke-width="1.47"/><line x1="758.8" y1="261.8" x2="773.1" y2="268.3" stroke-width="0.88"/><line x1="580.9" y1="198.4" x2="615.4" y2="206.7" stroke-width="1.04"/><line x1="326.3" y1="187.3" x2="354.9" y2="187.9" stroke-width="0.95"/><line x1="296.5" y1="185.9" x2="329.4" y2="188.2" stroke-width="1.50"/><line x1="544.0" y1="189.1" x2="572.2" y2="195.3" stroke-width="1.11"/><line x1="475.1" y1="191.4" x2="512.8" y2="196.1" stroke-width="1.03"/><line x1="706.5" y1="251.5" x2="739.7" y2="261.8" stroke-width="1.42"/><line x1="505.8" y1="184.9" x2="523.9" y2="185.9" stroke-width="1.00"/><line x1="462.7" y1="187.3" x2="478.5" y2="188.5" stroke-width="0.74"/><line x1="618.6" y1="209.3" x2="642.3" y2="215.7" stroke-width="1.20"/><line x1="699.5" y1="245.2" x2="738.1" y2="259.4" stroke-width="1.01"/><line x1="788.5" y1="277.2" x2="827.0" y2="295.4" stroke-width="0.75"/><line x1="760.5" y1="262.0" x2="785.7" y2="273.7" stroke-width="0.88"/><line x1="810.9" y1="286.4" x2="828.4" y2="294.7" stroke-width="1.11"/><line x1="493.1" y1="203.1" x2="504.6" y2="204.9" stroke-width="0.82"/><line x1="575.4" y1="214.1" x2="599.8" y2="221.1" stroke-width="1.21"/><line x1="347.7" y1="189.1" x2="367.6" y2="190.7" stroke-width="1.09"/><line x1="334.2" y1="180.5" x2="350.7" y2="179.3" stroke-width="1.05"/><line x1="474.1" y1="191.2" x2="498.3" y2="193.9" stroke-width="0.91"/><line x1="799.7" y1="278.1" x2="831.7" y2="291.5" stroke-width="1.27"/><line x1="400.0" y1="183.3" x2="425.6" y2="185.0" stroke-width="0.96"/><line x1="236.7" y1="196.8" x2="273.2" y2="188.9" stroke-width="0.80"/><line x1="567.7" y1="215.0" x2="595.7" y2="222.3" stroke-width="1.02"/><line x1="351.1" y1="179.6" x2="390.0" y2="178.8" stroke-width="0.81"/><line x1="749.1" y1="269.7" x2="783.6" y2="285.3" stroke-width="0.85"/><line x1="517.9" y1="196.6" x2="554.2" y2="200.9" stroke-width="1.43"/><line x1="412.1" y1="187.9" x2="425.8" y2="189.0" stroke-width="0.76"/><line x1="261.7" y1="191.2" x2="280.8" y2="187.1" stroke-width="1.26"/><line x1="233.8" y1="197.7" x2="263.5" y2="191.2" stroke-width="1.27"/><line x1="647.6" y1="227.9" x2="674.2" y2="234.4" stroke-width="0.77"/><line x1="327.7" y1="186.0" x2="343.4" y2="186.2" stroke-width="0.91"/><line x1="461.1" y1="197.8" x2="490.9" y2="201.1" stroke-width="0.92"/><line x1="703.6" y1="244.2" x2="726.8" y2="251.9" stroke-width="1.25"/><line x1="809.1" y1="290.2" x2="846.1" y2="305.6" stroke-width="1.27"/><line x1="727.0" y1="241.1" x2="751.3" y2="251.5" stroke-width="0.75"/><line x1="686.1" y1="237.5" x2="724.1" y2="254.7" stroke-width="1.43"/><line x1="452.0" y1="197.5" x2="474.7" y2="199.0" stroke-width="0.92"/><line x1="329.2" y1="183.4" x2="344.1" y2="182.6" stroke-width="1.48"/><line x1="257.3" y1="192.2" x2="267.4" y2="190.0" stroke-width="0.76"/><line x1="627.3" y1="210.6" x2="643.3" y2="215.9" stroke-width="1.25"/><line x1="744.9" y1="257.6" x2="762.0" y2="265.4" stroke-width="1.22"/><line x1="592.8" y1="202.9" x2="612.8" y2="207.4" stroke-width="1.43"/><line x1="529.9" y1="205.8" x2="559.1" y2="212.3" stroke-width="1.09"/><line x1="619.7" y1="214.6" x2="651.5" y2="223.2" stroke-width="0.96"/><line x1="741.2" y1="252.7" x2="776.5" y2="268.5" stroke-width="1.16"/><line x1="250.2" y1="195.7" x2="280.2" y2="190.3" stroke-width="1.39"/><line x1="502.9" y1="184.2" x2="515.0" y2="184.6" stroke-width="1.19"/><line x1="716.4" y1="236.5" x2="727.0" y2="240.9" stroke-width="1.03"/><line x1="463.9" y1="196.7" x2="501.4" y2="202.9" stroke-width="1.32"/><line x1="277.0" y1="189.8" x2="315.7" y2="181.4" stroke-width="1.11"/><line x1="444.7" y1="186.5" x2="462.8" y2="187.6" stroke-width="0.89"/><line x1="254.3" y1="194.6" x2="277.7" y2="189.2" stroke-width="1.21"/><line x1="791.6" y1="276.6" x2="828.0" y2="294.2" stroke-width="1.23"/><line x1="703.5" y1="236.5" x2="726.9" y2="246.1" stroke-width="0.79"/><line x1="532.0" y1="185.5" x2="548.7" y2="188.7" stroke-width="1.48"/><line x1="832.4" y1="295.9" x2="846.8" y2="299.4" stroke-width="1.05"/><line x1="427.2" y1="193.4" x2="458.5" y2="195.6" stroke-width="1.20"/><line x1="553.5" y1="206.0" x2="591.3" y2="213.8" stroke-width="1.48"/><line x1="738.4" y1="246.0" x2="762.0" y2="257.9" stroke-width="0.94"/><line x1="580.2" y1="194.7" x2="596.4" y2="197.7" stroke-width="0.76"/><line x1="453.6" y1="184.2" x2="489.5" y2="184.9" stroke-width="1.00"/><line x1="707.5" y1="242.3" x2="719.1" y2="247.0" stroke-width="1.19"/><line x1="313.2" y1="182.8" x2="341.9" y2="180.8" stroke-width="0.92"/><line x1="552.3" y1="203.7" x2="563.5" y2="206.3" stroke-width="0.95"/><line x1="752.2" y1="252.1" x2="772.6" y2="262.8" stroke-width="1.26"/><line x1="701.2" y1="229.4" x2="737.1" y2="244.7" stroke-width="0.87"/><line x1="769.3" y1="264.3" x2="803.0" y2="280.5" stroke-width="1.06"/><line x1="506.1" y1="205.7" x2="541.2" y2="209.9" stroke-width="0.74"/><line x1="455.3" y1="187.3" x2="495.1" y2="187.9" stroke-width="1.02"/><line x1="427.0" y1="193.1" x2="439.9" y2="194.2" stroke-width="1.24"/><line x1="467.6" y1="195.2" x2="489.6" y2="197.1" stroke-width="1.03"/><line x1="221.3" y1="200.5" x2="244.5" y2="196.0" stroke-width="0.86"/><line x1="503.1" y1="207.8" x2="537.9" y2="212.8" stroke-width="1.24"/><line x1="563.0" y1="203.9" x2="591.0" y2="211.4" stroke-width="0.99"/><line x1="342.2" y1="180.2" x2="363.3" y2="179.0" stroke-width="1.14"/><line x1="299.3" y1="186.3" x2="310.6" y2="186.8" stroke-width="1.22"/><line x1="538.5" y1="193.8" x2="573.3" y2="201.4" stroke-width="0.71"/><line x1="522.0" y1="189.9" x2="544.0" y2="191.2" stroke-width="0.74"/><line x1="822.7" y1="296.7" x2="835.6" y2="300.7" stroke-width="1.13"/><line x1="619.8" y1="225.3" x2="659.5" y2="231.9" stroke-width="1.50"/><line x1="494.6" y1="184.6" x2="515.8" y2="188.1" stroke-width="1.42"/><line x1="519.8" y1="185.8" x2="551.3" y2="186.9" stroke-width="1.35"/><line x1="211.3" y1="204.4" x2="248.1" y2="196.9" stroke-width="1.08"/><line x1="271.5" y1="190.6" x2="284.1" y2="187.9" stroke-width="0.85"/><line x1="617.8" y1="219.8" x2="637.5" y2="225.2" stroke-width="1.43"/><line x1="348.9" y1="181.2" x2="376.4" y2="181.6" stroke-width="0.79"/><line x1="549.4" y1="205.5" x2="580.6" y2="214.3" stroke-width="0.95"/><line x1="529.4" y1="198.3" x2="552.6" y2="203.4" stroke-width="0.86"/><line x1="702.5" y1="245.4" x2="739.5" y2="258.3" stroke-width="0.89"/><line x1="774.8" y1="269.3" x2="805.1" y2="283.1" stroke-width="1.18"/><line x1="559.1" y1="190.2" x2="587.0" y2="196.5" stroke-width="1.01"/><line x1="427.3" y1="198.8" x2="456.4" y2="200.8" stroke-width="0.84"/><line x1="387.9" y1="191.2" x2="401.5" y2="193.0" stroke-width="1.04"/><line x1="437.9" y1="187.9" x2="461.2" y2="190.2" stroke-width="1.04"/><line x1="641.6" y1="214.1" x2="656.6" y2="218.2" stroke-width="0.77"/><line x1="469.6" y1="190.3" x2="503.1" y2="192.1" stroke-width="1.02"/><line x1="682.0" y1="227.9" x2="717.1" y2="239.2" stroke-width="0.73"/><line x1="433.7" y1="193.4" x2="459.5" y2="196.2" stroke-width="1.49"/><line x1="614.5" y1="215.7" x2="649.9" y2="224.0" stroke-width="0.71"/><line x1="355.2" y1="182.8" x2="393.6" y2="187.9" stroke-width="0.93"/><line x1="827.2" y1="293.7" x2="844.1" y2="301.2" stroke-width="0.98"/><line x1="256.0" y1="194.9" x2="286.8" y2="188.1" stroke-width="0.81"/><line x1="773.9" y1="276.0" x2="791.5" y2="284.9" stroke-width="1.20"/><line x1="384.0" y1="179.6" x2="419.1" y2="181.2" stroke-width="1.09"/><line x1="466.7" y1="200.5" x2="493.5" y2="203.4" stroke-width="1.48"/><line x1="417.1" y1="191.3" x2="434.1" y2="192.7" stroke-width="1.30"/><line x1="721.7" y1="246.0" x2="738.4" y2="252.6" stroke-width="1.43"/><line x1="390.5" y1="179.7" x2="406.1" y2="179.7" stroke-width="0.70"/><line x1="216.1" y1="202.4" x2="252.8" y2="193.3" stroke-width="1.25"/><line x1="635.8" y1="216.6" x2="667.7" y2="225.8" stroke-width="1.13"/><line x1="382.5" y1="179.3" x2="410.3" y2="179.9" stroke-width="0.92"/><line x1="755.9" y1="258.6" x2="769.0" y2="265.0" stroke-width="1.13"/><line x1="222.7" y1="201.2" x2="251.0" y2="194.3" stroke-width="1.49"/><line x1="692.6" y1="234.7" x2="730.1" y2="250.1" stroke-width="0.88"/><line x1="777.9" y1="271.6" x2="793.0" y2="279.9" stroke-width="1.28"/><line x1="580.6" y1="194.6" x2="591.7" y2="196.7" stroke-width="0.71"/><line x1="242.2" y1="196.9" x2="265.4" y2="192.8" stroke-width="1.40"/><line x1="421.7" y1="194.9" x2="450.0" y2="198.6" stroke-width="1.04"/><line x1="621.2" y1="207.9" x2="638.9" y2="212.7" stroke-width="1.30"/><line x1="392.6" y1="182.8" x2="429.8" y2="185.3" stroke-width="0.89"/><line x1="757.5" y1="257.9" x2="777.5" y2="267.7" stroke-width="0.96"/><line x1="820.4" y1="299.1" x2="855.8" y2="309.7" stroke-width="0.87"/><line x1="673.3" y1="240.3" x2="690.0" y2="245.5" stroke-width="0.89"/><line x1="275.5" y1="189.2" x2="300.6" y2="183.7" stroke-width="0.74"/><line x1="314.0" y1="181.8" x2="332.1" y2="180.7" stroke-width="1.45"/><line x1="423.9" y1="181.0" x2="453.9" y2="182.8" stroke-width="1.34"/><line x1="603.8" y1="207.6" x2="625.9" y2="212.5" stroke-width="1.34"/><line x1="696.2" y1="236.1" x2="732.1" y2="250.1" stroke-width="1.25"/><line x1="363.6" y1="180.6" x2="380.4" y2="181.2" stroke-width="1.34"/><line x1="758.5" y1="269.6" x2="792.6" y2="285.7" stroke-width="1.31"/><line x1="301.0" y1="185.2" x2="312.3" y2="185.4" stroke-width="1.40"/><line x1="288.2" y1="186.6" x2="322.9" y2="185.8" stroke-width="1.15"/><line x1="450.6" y1="191.0" x2="487.2" y2="194.8" stroke-width="0.87"/><line x1="549.8" y1="200.7" x2="560.2" y2="203.1" stroke-width="0.99"/><line x1="298.8" y1="182.0" x2="329.1" y2="182.6" stroke-width="1.07"/><line x1="598.4" y1="219.3" x2="628.6" y2="227.0" stroke-width="0.70"/><line x1="749.0" y1="252.1" x2="764.5" y2="259.6" stroke-width="1.17"/><line x1="664.4" y1="220.9" x2="702.7" y2="233.6" stroke-width="1.38"/><line x1="500.1" y1="183.9" x2="510.5" y2="184.7" stroke-width="1.04"/><line x1="474.2" y1="185.8" x2="489.6" y2="188.1" stroke-width="0.90"/><line x1="751.8" y1="253.0" x2="790.9" y2="273.7" stroke-width="1.01"/><line x1="682.6" y1="235.2" x2="706.6" y2="241.8" stroke-width="1.36"/><line x1="323.5" y1="187.8" x2="334.4" y2="188.0" stroke-width="1.09"/><line x1="380.7" y1="183.0" x2="405.0" y2="184.9" stroke-width="1.43"/><line x1="778.3" y1="269.2" x2="797.0" y2="278.8" stroke-width="0.86"/><line x1="451.2" y1="194.0" x2="461.4" y2="194.9" stroke-width="1.29"/><line x1="434.7" y1="183.2" x2="460.9" y2="184.5" stroke-width="1.36"/><line x1="560.9" y1="196.3" x2="595.1" y2="202.5" stroke-width="0.81"/><line x1="445.8" y1="188.2" x2="484.1" y2="190.9" stroke-width="1.06"/><line x1="807.7" y1="286.8" x2="842.6" y2="299.8" stroke-width="1.02"/><line x1="304.3" y1="187.5" x2="330.9" y2="187.3" stroke-width="0.77"/><line x1="457.1" y1="182.2" x2="481.7" y2="182.8" stroke-width="0.95"/><line x1="299.7" y1="183.6" x2="314.7" y2="182.9" stroke-width="0.78"/><line x1="658.3" y1="219.8" x2="690.1" y2="230.5" stroke-width="0.81"/><line x1="670.7" y1="244.7" x2="697.7" y2="251.3" stroke-width="0.96"/><line x1="294.4" y1="186.8" x2="329.0" y2="185.2" stroke-width="0.79"/><line x1="415.0" y1="189.4" x2="435.9" y2="190.1" stroke-width="1.33"/><line x1="770.0" y1="269.3" x2="802.7" y2="286.7" stroke-width="0.73"/><line x1="551.0" y1="191.5" x2="584.9" y2="197.4" stroke-width="1.29"/><line x1="397.7" y1="188.1" x2="428.1" y2="190.5" stroke-width="1.40"/><line x1="472.5" y1="195.0" x2="487.9" y2="196.4" stroke-width="1.27"/><line x1="767.6" y1="272.0" x2="793.1" y2="284.3" stroke-width="1.28"/><line x1="546.6" y1="194.7" x2="582.1" y2="201.4" stroke-width="1.42"/><line x1="694.1" y1="243.9" x2="729.1" y2="257.7" stroke-width="1.49"/><line x1="504.9" y1="189.8" x2="536.9" y2="193.2" stroke-width="1.20"/><line x1="425.0" y1="202.2" x2="441.8" y2="203.9" stroke-width="0.94"/><line x1="593.3" y1="232.1" x2="607.0" y2="233.9" stroke-width="0.96"/><line x1="632.7" y1="250.3" x2="640.4" y2="251.3" stroke-width="1.19"/><line x1="608.2" y1="240.8" x2="612.8" y2="241.5" stroke-width="1.26"/><line x1="372.2" y1="214.8" x2="376.5" y2="215.2" stroke-width="1.09"/><line x1="413.0" y1="205.7" x2="429.7" y2="207.2" stroke-width="1.08"/><line x1="424.8" y1="201.6" x2="433.7" y2="202.5" stroke-width="1.23"/><line x1="633.3" y1="240.2" x2="638.1" y2="240.6" stroke-width="0.99"/><line x1="545.6" y1="219.7" x2="561.2" y2="222.0" stroke-width="1.01"/><line x1="358.7" y1="205.5" x2="365.7" y2="206.0" stroke-width="1.02"/><line x1="667.0" y1="259.4" x2="675.2" y2="260.8" stroke-width="1.02"/><line x1="632.8" y1="243.7" x2="644.3" y2="245.8" stroke-width="0.67"/><line x1="507.7" y1="219.2" x2="514.4" y2="219.7" stroke-width="0.66"/><line x1="407.2" y1="206.9" x2="416.9" y2="207.7" stroke-width="1.21"/><line x1="348.4" y1="196.3" x2="365.1" y2="196.2" stroke-width="1.24"/><line x1="439.9" y1="217.4" x2="455.8" y2="217.7" stroke-width="1.28"/><line x1="280.1" y1="208.2" x2="287.4" y2="207.7" stroke-width="0.70"/><line x1="720.9" y1="266.3" x2="737.7" y2="269.5" stroke-width="0.83"/><line x1="339.4" y1="207.0" x2="344.7" y2="207.5" stroke-width="0.81"/><line x1="730.9" y1="274.2" x2="738.6" y2="275.8" stroke-width="0.71"/><line x1="439.0" y1="202.9" x2="452.6" y2="203.6" stroke-width="0.79"/><line x1="234.2" y1="234.9" x2="239.9" y2="233.9" stroke-width="0.62"/><line x1="427.4" y1="209.1" x2="438.9" y2="210.5" stroke-width="0.77"/><line x1="642.1" y1="245.3" x2="650.8" y2="247.2" stroke-width="0.79"/><line x1="610.8" y1="235.2" x2="619.3" y2="236.8" stroke-width="0.78"/><line x1="670.2" y1="251.9" x2="680.1" y2="253.9" stroke-width="1.18"/><line x1="337.3" y1="207.0" x2="354.5" y2="207.7" stroke-width="0.72"/><line x1="644.4" y1="255.4" x2="651.6" y2="256.3" stroke-width="1.03"/><line x1="720.5" y1="278.5" x2="732.7" y2="281.2" stroke-width="1.28"/><line x1="573.2" y1="260.2" x2="586.8" y2="262.9" stroke-width="1.09"/><line x1="294.1" y1="192.2" x2="299.1" y2="191.9" stroke-width="1.30"/><line x1="547.8" y1="220.7" x2="553.6" y2="221.5" stroke-width="0.87"/><line x1="327.2" y1="197.7" x2="340.2" y2="198.3" stroke-width="0.64"/><line x1="388.2" y1="201.2" x2="399.8" y2="201.6" stroke-width="0.89"/><line x1="684.8" y1="256.3" x2="693.1" y2="257.6" stroke-width="1.19"/><line x1="691.6" y1="255.9" x2="698.4" y2="257.2" stroke-width="1.28"/><line x1="554.5" y1="225.4" x2="563.1" y2="226.4" stroke-width="0.73"/><line x1="518.8" y1="235.1" x2="534.1" y2="236.0" stroke-width="0.87"/><line x1="367.8" y1="199.6" x2="379.5" y2="201.0" stroke-width="0.70"/><line x1="649.7" y1="298.9" x2="661.7" y2="301.0" stroke-width="1.06"/><line x1="741.9" y1="277.9" x2="757.0" y2="282.6" stroke-width="1.13"/><line x1="481.0" y1="210.3" x2="494.7" y2="211.2" stroke-width="1.27"/><line x1="304.3" y1="191.9" x2="317.2" y2="193.0" stroke-width="0.65"/><line x1="546.4" y1="234.3" x2="564.4" y2="237.3" stroke-width="0.66"/><line x1="639.9" y1="243.0" x2="649.8" y2="244.6" stroke-width="0.69"/><line x1="362.3" y1="198.3" x2="370.5" y2="199.2" stroke-width="1.23"/><line x1="526.8" y1="214.2" x2="544.2" y2="216.9" stroke-width="0.84"/><line x1="504.7" y1="214.5" x2="513.4" y2="215.0" stroke-width="1.04"/><line x1="467.4" y1="209.4" x2="477.2" y2="210.2" stroke-width="0.80"/><line x1="543.5" y1="226.1" x2="553.2" y2="227.7" stroke-width="1.17"/><line x1="565.3" y1="227.4" x2="582.4" y2="229.6" stroke-width="1.16"/><line x1="445.4" y1="221.8" x2="461.2" y2="222.8" stroke-width="1.28"/><line x1="689.8" y1="255.5" x2="700.9" y2="257.6" stroke-width="0.66"/><line x1="514.7" y1="234.1" x2="520.3" y2="234.6" stroke-width="0.84"/><line x1="373.6" y1="199.2" x2="389.3" y2="200.7" stroke-width="1.01"/><line x1="279.1" y1="194.0" x2="296.4" y2="190.9" stroke-width="1.26"/><line x1="401.3" y1="207.3" x2="414.5" y2="208.7" stroke-width="0.65"/><line x1="460.0" y1="205.2" x2="468.2" y2="205.6" stroke-width="0.82"/><line x1="467.3" y1="211.6" x2="476.0" y2="212.7" stroke-width="1.08"/><line x1="250.2" y1="233.0" x2="254.3" y2="232.4" stroke-width="0.67"/><line x1="705.8" y1="260.8" x2="721.7" y2="263.7" stroke-width="0.66"/><line x1="416.5" y1="202.2" x2="426.9" y2="203.1" stroke-width="0.66"/><line x1="716.4" y1="276.9" x2="725.5" y2="279.4" stroke-width="0.79"/><line x1="602.3" y1="242.2" x2="613.0" y2="244.1" stroke-width="0.74"/><line x1="681.6" y1="255.1" x2="691.5" y2="256.7" stroke-width="1.24"/><line x1="307.9" y1="196.7" x2="320.5" y2="197.1" stroke-width="0.78"/><line x1="487.1" y1="218.7" x2="497.2" y2="219.9" stroke-width="1.27"/><line x1="313.2" y1="192.4" x2="325.8" y2="193.0" stroke-width="0.82"/><line x1="489.0" y1="230.4" x2="505.7" y2="232.5" stroke-width="1.17"/><line x1="406.7" y1="208.3" x2="420.7" y2="209.1" stroke-width="1.27"/><line x1="354.2" y1="227.9" x2="368.0" y2="229.0" stroke-width="1.07"/><line x1="748.8" y1="273.5" x2="753.3" y2="274.7" stroke-width="1.00"/><line x1="451.3" y1="206.3" x2="458.1" y2="207.5" stroke-width="0.88"/><line x1="626.5" y1="252.6" x2="642.8" y2="255.3" stroke-width="0.95"/><line x1="415.7" y1="203.0" x2="423.8" y2="203.2" stroke-width="0.85"/><line x1="322.1" y1="191.9" x2="327.7" y2="192.0" stroke-width="0.67"/><line x1="400.7" y1="198.9" x2="406.8" y2="198.9" stroke-width="0.73"/><line x1="305.4" y1="196.2" x2="315.4" y2="196.1" stroke-width="0.93"/><line x1="492.1" y1="221.5" x2="502.1" y2="223.4" stroke-width="0.84"/><line x1="664.3" y1="251.9" x2="671.4" y2="252.6" stroke-width="1.15"/><line x1="674.7" y1="255.6" x2="683.7" y2="257.1" stroke-width="1.18"/><line x1="351.8" y1="202.7" x2="365.7" y2="203.6" stroke-width="0.70"/><line x1="547.4" y1="220.8" x2="556.5" y2="222.8" stroke-width="1.27"/><line x1="301.9" y1="191.4" x2="313.4" y2="191.1" stroke-width="0.63"/><line x1="564.5" y1="222.8" x2="576.2" y2="225.6" stroke-width="1.06"/><line x1="417.5" y1="210.4" x2="425.1" y2="211.4" stroke-width="0.73"/><line x1="371.8" y1="195.2" x2="378.6" y2="195.7" stroke-width="0.91"/><line x1="659.4" y1="250.7" x2="675.4" y2="253.9" stroke-width="0.63"/><line x1="467.1" y1="205.6" x2="479.6" y2="207.1" stroke-width="0.98"/><line x1="306.8" y1="196.8" x2="312.1" y2="197.0" stroke-width="1.09"/><line x1="133.5" y1="225.9" x2="139.5" y2="225.6" stroke-width="0.78"/><line x1="100.8" y1="226.8" x2="105.3" y2="226.3" stroke-width="0.66"/><line x1="201.4" y1="215.0" x2="208.2" y2="214.3" stroke-width="1.17"/><line x1="178.6" y1="224.7" x2="184.4" y2="224.0" stroke-width="1.29"/><line x1="169.8" y1="222.4" x2="179.2" y2="221.7" stroke-width="0.64"/><line x1="200.7" y1="228.9" x2="205.0" y2="228.3" stroke-width="0.61"/><line x1="171.7" y1="216.9" x2="179.1" y2="216.0" stroke-width="0.61"/><line x1="209.6" y1="211.1" x2="216.9" y2="210.7" stroke-width="0.84"/><line x1="149.7" y1="216.9" x2="156.3" y2="216.2" stroke-width="0.85"/><line x1="117.9" y1="220.4" x2="126.1" y2="219.4" stroke-width="0.74"/><line x1="210.5" y1="214.0" x2="215.1" y2="213.3" stroke-width="1.22"/><line x1="127.2" y1="219.9" x2="135.2" y2="220.0" stroke-width="1.23"/><line x1="162.6" y1="217.4" x2="168.5" y2="216.5" stroke-width="1.04"/><line x1="219.4" y1="205.2" x2="225.7" y2="204.6" stroke-width="0.66"/><line x1="174.9" y1="221.5" x2="180.6" y2="220.8" stroke-width="1.23"/><line x1="131.7" y1="250.1" x2="140.2" y2="249.6" stroke-width="0.74"/><line x1="132.1" y1="220.7" x2="141.5" y2="220.7" stroke-width="0.66"/><line x1="165.2" y1="217.7" x2="173.8" y2="217.4" stroke-width="0.67"/><line x1="144.4" y1="224.2" x2="153.8" y2="223.8" stroke-width="0.73"/><line x1="135.1" y1="221.1" x2="140.0" y2="220.7" stroke-width="0.77"/><line x1="162.0" y1="222.5" x2="171.7" y2="221.2" stroke-width="1.00"/><line x1="184.3" y1="214.1" x2="191.5" y2="213.0" stroke-width="0.85"/><line x1="140.1" y1="249.8" x2="145.5" y2="249.6" stroke-width="1.01"/><line x1="140.6" y1="221.2" x2="146.5" y2="221.1" stroke-width="1.08"/><line x1="161.5" y1="221.7" x2="166.4" y2="221.0" stroke-width="1.12"/><line x1="148.4" y1="237.3" x2="153.8" y2="237.1" stroke-width="1.20"/><line x1="145.0" y1="218.1" x2="150.3" y2="217.7" stroke-width="0.79"/><line x1="168.9" y1="234.3" x2="176.5" y2="233.4" stroke-width="1.28"/><line x1="135.9" y1="226.2" x2="143.3" y2="225.6" stroke-width="0.69"/><line x1="139.0" y1="219.1" x2="147.6" y2="218.5" stroke-width="0.63"/><line x1="587.4" y1="326.3" x2="597.6" y2="326.6" stroke-width="0.93"/><line x1="602.5" y1="339.5" x2="613.0" y2="338.5" stroke-width="0.99"/><line x1="490.2" y1="320.9" x2="496.3" y2="322.0" stroke-width="1.18"/><line x1="245.2" y1="260.9" x2="257.4" y2="262.6" stroke-width="0.68"/><line x1="308.5" y1="273.5" x2="316.6" y2="274.4" stroke-width="1.08"/><line x1="373.2" y1="290.7" x2="377.5" y2="291.4" stroke-width="1.24"/><line x1="605.4" y1="337.1" x2="623.2" y2="335.9" stroke-width="0.81"/><line x1="417.0" y1="300.5" x2="432.5" y2="304.0" stroke-width="0.63"/><line x1="514.8" y1="323.6" x2="531.1" y2="326.5" stroke-width="0.81"/><line x1="297.3" y1="272.3" x2="309.7" y2="273.2" stroke-width="0.63"/><line x1="475.9" y1="288.1" x2="481.4" y2="289.0" stroke-width="0.65"/><line x1="252.6" y1="271.7" x2="260.6" y2="272.0" stroke-width="0.61"/><line x1="497.2" y1="313.9" x2="507.0" y2="315.4" stroke-width="0.77"/><line x1="340.1" y1="285.6" x2="356.8" y2="287.8" stroke-width="0.70"/><line x1="526.9" y1="325.8" x2="538.0" y2="327.5" stroke-width="0.71"/><line x1="557.6" y1="333.9" x2="565.7" y2="334.3" stroke-width="0.81"/><line x1="615.3" y1="337.6" x2="626.7" y2="337.5" stroke-width="0.95"/><line x1="546.2" y1="335.7" x2="557.8" y2="336.4" stroke-width="0.64"/><line x1="458.2" y1="305.4" x2="467.9" y2="307.3" stroke-width="1.04"/><line x1="517.8" y1="317.3" x2="531.0" y2="320.4" stroke-width="1.07"/><line x1="352.5" y1="286.7" x2="357.5" y2="287.4" stroke-width="0.68"/><line x1="510.2" y1="316.5" x2="522.8" y2="318.3" stroke-width="0.92"/><line x1="349.1" y1="280.0" x2="353.3" y2="280.8" stroke-width="1.00"/><line x1="315.1" y1="255.9" x2="325.8" y2="257.8" stroke-width="0.64"/><line x1="355.7" y1="261.0" x2="363.6" y2="261.8" stroke-width="1.01"/><line x1="361.7" y1="261.6" x2="375.4" y2="262.4" stroke-width="1.22"/><line x1="559.9" y1="316.1" x2="571.9" y2="316.6" stroke-width="0.74"/><line x1="326.6" y1="284.0" x2="334.0" y2="284.8" stroke-width="1.07"/><line x1="343.1" y1="282.5" x2="353.0" y2="284.1" stroke-width="1.08"/><line x1="333.2" y1="282.4" x2="339.7" y2="283.4" stroke-width="1.21"/><line x1="363.2" y1="281.2" x2="373.4" y2="282.9" stroke-width="0.61"/><line x1="571.8" y1="325.7" x2="585.4" y2="326.1" stroke-width="1.19"/><line x1="320.2" y1="275.4" x2="331.9" y2="276.8" stroke-width="0.62"/><line x1="385.2" y1="289.1" x2="397.5" y2="290.8" stroke-width="0.98"/><line x1="516.9" y1="313.1" x2="524.0" y2="314.2" stroke-width="0.81"/><line x1="392.6" y1="290.1" x2="409.8" y2="293.8" stroke-width="1.26"/><line x1="259.5" y1="275.9" x2="266.4" y2="276.3" stroke-width="1.20"/><line x1="573.3" y1="326.2" x2="582.8" y2="326.6" stroke-width="1.04"/><line x1="592.9" y1="340.3" x2="608.5" y2="340.5" stroke-width="1.11"/><line x1="434.3" y1="262.7" x2="450.5" y2="266.6" stroke-width="0.95"/><line x1="341.9" y1="275.1" x2="346.9" y2="275.9" stroke-width="0.89"/><line x1="243.3" y1="272.5" x2="259.8" y2="274.3" stroke-width="1.26"/><line x1="432.0" y1="293.0" x2="449.6" y2="296.0" stroke-width="0.91"/><line x1="393.9" y1="288.6" x2="399.7" y2="289.7" stroke-width="0.80"/><line x1="268.9" y1="271.6" x2="279.8" y2="271.1" stroke-width="1.22"/><line x1="437.2" y1="309.2" x2="448.7" y2="311.6" stroke-width="0.81"/><line x1="333.2" y1="275.6" x2="347.5" y2="277.4" stroke-width="1.30"/><line x1="338.9" y1="280.9" x2="344.6" y2="281.7" stroke-width="0.86"/><line x1="512.2" y1="328.3" x2="519.6" y2="329.1" stroke-width="0.82"/><line x1="400.4" y1="293.6" x2="416.9" y2="299.1" stroke-width="1.09"/><line x1="256.7" y1="256.4" x2="263.9" y2="256.6" stroke-width="1.07"/><line x1="308.7" y1="272.9" x2="324.4" y2="274.2" stroke-width="0.93"/><line x1="316.4" y1="280.2" x2="327.2" y2="281.6" stroke-width="1.05"/><line x1="580.2" y1="332.2" x2="588.9" y2="331.8" stroke-width="1.07"/><line x1="571.6" y1="315.3" x2="582.6" y2="315.8" stroke-width="1.21"/><line x1="351.5" y1="280.2" x2="367.9" y2="281.1" stroke-width="1.24"/><line x1="333.8" y1="283.2" x2="344.9" y2="284.2" stroke-width="0.88"/><line x1="571.0" y1="328.9" x2="586.4" y2="327.7" stroke-width="0.80"/><line x1="292.5" y1="272.8" x2="303.1" y2="273.7" stroke-width="0.77"/><line x1="532.3" y1="316.0" x2="540.8" y2="316.5" stroke-width="1.20"/><line x1="584.2" y1="334.1" x2="596.0" y2="334.0" stroke-width="0.90"/><line x1="469.7" y1="319.7" x2="479.6" y2="321.8" stroke-width="0.66"/><line x1="274.7" y1="229.7" x2="278.7" y2="229.7" stroke-width="1.23"/><line x1="633.0" y1="289.9" x2="637.1" y2="290.0" stroke-width="0.82"/><line x1="312.3" y1="281.5" x2="329.2" y2="283.3" stroke-width="1.14"/><line x1="341.0" y1="267.9" x2="356.4" y2="269.2" stroke-width="0.69"/><line x1="295.0" y1="278.2" x2="310.7" y2="279.0" stroke-width="0.90"/><line x1="385.2" y1="256.5" x2="391.4" y2="257.5" stroke-width="0.83"/><line x1="494.4" y1="281.3" x2="509.9" y2="284.1" stroke-width="0.80"/><line x1="353.8" y1="288.2" x2="361.4" y2="288.8" stroke-width="1.15"/><line x1="260.9" y1="278.4" x2="276.0" y2="278.9" stroke-width="1.28"/><line x1="392.0" y1="295.8" x2="407.3" y2="298.8" stroke-width="1.14"/><line x1="251.4" y1="277.6" x2="263.7" y2="278.6" stroke-width="0.99"/><line x1="454.6" y1="283.8" x2="460.5" y2="284.8" stroke-width="0.84"/><line x1="460.4" y1="314.0" x2="466.9" y2="315.5" stroke-width="0.89"/><line x1="346.2" y1="275.1" x2="363.4" y2="277.4" stroke-width="0.94"/><line x1="340.5" y1="282.4" x2="344.9" y2="282.7" stroke-width="0.62"/><line x1="296.5" y1="273.1" x2="301.6" y2="273.4" stroke-width="1.16"/><line x1="346.3" y1="259.4" x2="363.7" y2="260.6" stroke-width="0.99"/><line x1="427.6" y1="306.1" x2="435.6" y2="308.5" stroke-width="1.05"/><line x1="318.6" y1="271.2" x2="335.6" y2="271.7" stroke-width="0.82"/><line x1="607.7" y1="303.2" x2="619.7" y2="303.6" stroke-width="1.05"/><line x1="393.1" y1="280.4" x2="402.7" y2="282.3" stroke-width="1.21"/><line x1="515.6" y1="319.1" x2="523.9" y2="320.3" stroke-width="0.69"/><line x1="365.9" y1="285.3" x2="372.5" y2="286.3" stroke-width="0.81"/><line x1="576.9" y1="331.4" x2="592.3" y2="332.2" stroke-width="0.73"/><line x1="619.1" y1="339.2" x2="624.1" y2="339.1" stroke-width="0.80"/><line x1="319.5" y1="263.2" x2="332.0" y2="264.6" stroke-width="0.98"/><line x1="424.9" y1="294.5" x2="429.9" y2="296.1" stroke-width="1.00"/><line x1="254.2" y1="268.7" x2="271.8" y2="268.5" stroke-width="1.14"/><line x1="343.7" y1="275.0" x2="350.6" y2="276.0" stroke-width="0.65"/><line x1="420.0" y1="305.5" x2="437.7" y2="310.3" stroke-width="1.00"/><line x1="486.0" y1="321.3" x2="502.4" y2="322.9" stroke-width="0.90"/><line x1="356.6" y1="287.8" x2="365.0" y2="288.6" stroke-width="0.66"/><line x1="605.0" y1="334.5" x2="616.5" y2="334.6" stroke-width="0.99"/><line x1="493.1" y1="325.5" x2="510.8" y2="328.5" stroke-width="0.78"/><line x1="529.1" y1="325.8" x2="545.4" y2="328.6" stroke-width="0.82"/><line x1="511.8" y1="276.8" x2="528.2" y2="279.3" stroke-width="0.97"/><line x1="406.7" y1="290.1" x2="413.8" y2="292.5" stroke-width="1.10"/><line x1="313.9" y1="279.7" x2="322.6" y2="280.3" stroke-width="0.92"/><line x1="540.2" y1="340.5" x2="559.3" y2="341.4" stroke-width="1.15"/><line x1="232.2" y1="278.0" x2="250.9" y2="282.8" stroke-width="1.44"/><line x1="579.2" y1="353.0" x2="603.6" y2="351.4" stroke-width="1.25"/><line x1="457.5" y1="326.0" x2="491.5" y2="333.0" stroke-width="0.88"/><line x1="667.7" y1="343.5" x2="702.9" y2="339.1" stroke-width="1.24"/><line x1="676.2" y1="341.7" x2="704.2" y2="338.2" stroke-width="1.50"/><line x1="739.1" y1="335.7" x2="757.7" y2="334.5" stroke-width="1.29"/><line x1="590.1" y1="350.3" x2="618.9" y2="347.2" stroke-width="1.48"/><line x1="712.6" y1="336.2" x2="744.6" y2="334.0" stroke-width="0.82"/><line x1="544.5" y1="354.4" x2="577.0" y2="353.7" stroke-width="1.69"/><line x1="311.0" y1="293.6" x2="344.2" y2="302.6" stroke-width="1.24"/><line x1="460.3" y1="337.6" x2="477.9" y2="341.1" stroke-width="1.96"/><line x1="694.3" y1="340.8" x2="721.5" y2="338.3" stroke-width="1.23"/><line x1="672.7" y1="341.1" x2="705.5" y2="335.7" stroke-width="1.91"/><line x1="755.8" y1="334.7" x2="781.5" y2="334.9" stroke-width="1.52"/><line x1="589.1" y1="346.9" x2="621.1" y2="344.9" stroke-width="0.94"/><line x1="662.9" y1="349.1" x2="677.4" y2="347.3" stroke-width="1.73"/><line x1="431.9" y1="319.6" x2="458.6" y2="326.5" stroke-width="1.74"/><line x1="699.1" y1="340.8" x2="717.0" y2="338.8" stroke-width="1.50"/><line x1="638.4" y1="344.5" x2="654.9" y2="341.4" stroke-width="1.69"/><line x1="587.5" y1="353.8" x2="597.1" y2="353.3" stroke-width="1.10"/><line x1="339.4" y1="320.0" x2="348.8" y2="322.7" stroke-width="1.22"/><line x1="225.2" y1="279.7" x2="245.5" y2="284.8" stroke-width="1.85"/><line x1="415.3" y1="348.8" x2="430.8" y2="352.8" stroke-width="1.29"/><line x1="509.0" y1="340.5" x2="535.4" y2="343.1" stroke-width="0.90"/><line x1="346.8" y1="333.1" x2="369.4" y2="342.6" stroke-width="1.10"/><line x1="206.9" y1="273.3" x2="219.6" y2="276.3" stroke-width="1.26"/><line x1="733.1" y1="336.7" x2="761.0" y2="334.0" stroke-width="1.29"/><line x1="249.3" y1="286.4" x2="278.9" y2="296.5" stroke-width="1.14"/><line x1="764.5" y1="333.5" x2="779.9" y2="332.9" stroke-width="1.48"/><line x1="271.7" y1="289.3" x2="287.7" y2="293.3" stroke-width="0.91"/><line x1="766.2" y1="335.1" x2="783.5" y2="333.9" stroke-width="1.90"/><line x1="665.5" y1="348.1" x2="688.3" y2="344.7" stroke-width="1.53"/><line x1="374.5" y1="296.3" x2="388.6" y2="299.7" stroke-width="1.12"/><line x1="558.3" y1="352.0" x2="581.0" y2="351.1" stroke-width="1.55"/><line x1="203.2" y1="273.0" x2="238.4" y2="284.7" stroke-width="1.23"/><line x1="306.1" y1="292.4" x2="341.6" y2="300.8" stroke-width="1.19"/><line x1="384.4" y1="347.7" x2="395.0" y2="351.7" stroke-width="1.19"/><line x1="758.9" y1="336.1" x2="782.3" y2="334.0" stroke-width="0.84"/><line x1="676.3" y1="345.6" x2="688.1" y2="344.0" stroke-width="1.09"/><line x1="292.6" y1="283.1" x2="306.1" y2="285.1" stroke-width="1.17"/><line x1="510.6" y1="353.1" x2="528.1" y2="354.5" stroke-width="1.89"/><line x1="278.9" y1="285.9" x2="290.9" y2="287.7" stroke-width="0.88"/><line x1="554.3" y1="345.4" x2="583.2" y2="345.9" stroke-width="1.27"/><line x1="276.2" y1="300.8" x2="296.5" y2="310.2" stroke-width="1.34"/><line x1="533.4" y1="339.6" x2="565.6" y2="342.9" stroke-width="1.51"/><line x1="309.2" y1="290.5" x2="328.9" y2="294.3" stroke-width="1.07"/><line x1="729.3" y1="337.4" x2="759.5" y2="335.5" stroke-width="0.98"/><line x1="686.6" y1="339.6" x2="711.5" y2="336.9" stroke-width="1.19"/><line x1="308.0" y1="297.8" x2="334.1" y2="307.5" stroke-width="1.65"/><line x1="373.4" y1="322.8" x2="402.8" y2="332.3" stroke-width="1.07"/><line x1="410.0" y1="337.3" x2="445.3" y2="348.4" stroke-width="1.87"/><line x1="627.0" y1="350.4" x2="654.0" y2="346.4" stroke-width="1.56"/><line x1="424.8" y1="313.4" x2="445.6" y2="320.5" stroke-width="1.49"/><line x1="396.7" y1="300.2" x2="410.2" y2="305.2" stroke-width="1.98"/><line x1="676.7" y1="340.9" x2="702.2" y2="338.3" stroke-width="1.32"/><line x1="658.6" y1="342.2" x2="690.6" y2="338.1" stroke-width="1.58"/><line x1="229.9" y1="281.9" x2="240.9" y2="285.2" stroke-width="1.23"/><line x1="718.6" y1="340.3" x2="731.4" y2="338.3" stroke-width="1.30"/><line x1="304.9" y1="288.9" x2="319.5" y2="291.2" stroke-width="1.13"/><line x1="678.0" y1="341.6" x2="712.2" y2="338.1" stroke-width="1.91"/><line x1="348.8" y1="310.6" x2="374.5" y2="318.4" stroke-width="1.61"/><line x1="593.5" y1="353.9" x2="601.7" y2="352.9" stroke-width="1.52"/><line x1="501.0" y1="346.1" x2="535.0" y2="349.6" stroke-width="1.89"/><line x1="263.6" y1="284.5" x2="297.9" y2="289.0" stroke-width="1.72"/><line x1="333.8" y1="327.5" x2="353.9" y2="333.9" stroke-width="1.14"/><line x1="742.4" y1="337.2" x2="757.9" y2="337.1" stroke-width="1.25"/><line x1="352.9" y1="337.4" x2="366.7" y2="342.2" stroke-width="1.61"/><line x1="396.2" y1="310.0" x2="416.6" y2="318.2" stroke-width="0.99"/><line x1="306.6" y1="285.9" x2="327.4" y2="289.5" stroke-width="1.06"/><line x1="692.2" y1="338.1" x2="719.7" y2="336.5" stroke-width="1.09"/><line x1="605.3" y1="357.1" x2="631.9" y2="352.6" stroke-width="1.59"/><line x1="302.6" y1="298.4" x2="329.4" y2="309.4" stroke-width="1.21"/><line x1="268.1" y1="293.9" x2="294.9" y2="303.6" stroke-width="0.82"/><line x1="369.6" y1="331.5" x2="404.3" y2="342.7" stroke-width="0.88"/><line x1="626.0" y1="344.1" x2="655.7" y2="339.8" stroke-width="1.29"/><line x1="477.5" y1="328.8" x2="506.6" y2="335.0" stroke-width="1.34"/><line x1="633.9" y1="347.4" x2="660.5" y2="343.2" stroke-width="1.97"/><line x1="673.8" y1="341.9" x2="690.4" y2="339.7" stroke-width="1.00"/><line x1="548.3" y1="344.3" x2="580.3" y2="345.1" stroke-width="1.15"/><line x1="369.1" y1="329.6" x2="392.3" y2="337.2" stroke-width="1.71"/><line x1="426.3" y1="351.3" x2="457.9" y2="356.2" stroke-width="1.72"/><line x1="343.1" y1="312.3" x2="367.5" y2="318.6" stroke-width="1.09"/><line x1="427.8" y1="357.1" x2="435.9" y2="359.5" stroke-width="1.77"/><line x1="575.5" y1="350.3" x2="594.9" y2="350.1" stroke-width="1.72"/><line x1="459.9" y1="361.0" x2="485.4" y2="363.2" stroke-width="0.89"/><line x1="769.9" y1="334.6" x2="786.6" y2="334.9" stroke-width="1.97"/><line x1="278.2" y1="286.0" x2="303.4" y2="289.4" stroke-width="1.74"/><line x1="549.9" y1="357.2" x2="571.6" y2="356.6" stroke-width="1.55"/><line x1="499.9" y1="338.3" x2="511.7" y2="340.4" stroke-width="0.84"/><line x1="536.6" y1="351.0" x2="568.0" y2="352.3" stroke-width="0.93"/><line x1="395.7" y1="324.7" x2="419.0" y2="332.9" stroke-width="1.52"/><line x1="354.3" y1="303.3" x2="371.5" y2="307.8" stroke-width="0.92"/><line x1="505.4" y1="347.1" x2="531.4" y2="349.7" stroke-width="1.49"/><line x1="607.8" y1="354.1" x2="636.9" y2="352.2" stroke-width="1.63"/><line x1="402.8" y1="349.5" x2="436.7" y2="356.5" stroke-width="1.97"/><line x1="440.0" y1="319.8" x2="472.4" y2="327.9" stroke-width="1.88"/><line x1="662.9" y1="348.0" x2="674.7" y2="346.3" stroke-width="1.44"/><line x1="555.3" y1="349.3" x2="587.9" y2="348.2" stroke-width="0.92"/><line x1="369.0" y1="298.1" x2="398.1" y2="304.2" stroke-width="1.55"/><line x1="237.9" y1="280.8" x2="273.7" y2="289.2" stroke-width="1.79"/><line x1="454.2" y1="319.6" x2="486.3" y2="328.6" stroke-width="1.57"/><line x1="682.3" y1="343.1" x2="710.0" y2="339.4" stroke-width="1.05"/><line x1="361.9" y1="321.7" x2="396.8" y2="332.9" stroke-width="1.31"/><line x1="453.9" y1="331.7" x2="489.1" y2="336.4" stroke-width="1.83"/><line x1="252.4" y1="283.1" x2="265.3" y2="284.7" stroke-width="1.51"/><line x1="250.4" y1="281.9" x2="273.1" y2="282.6" stroke-width="0.90"/><line x1="708.1" y1="338.4" x2="740.3" y2="335.1" stroke-width="1.62"/><line x1="392.5" y1="318.4" x2="418.0" y2="326.1" stroke-width="1.91"/><line x1="274.4" y1="283.4" x2="285.7" y2="284.5" stroke-width="1.16"/><line x1="339.0" y1="295.8" x2="362.7" y2="301.1" stroke-width="1.75"/><line x1="728.3" y1="335.9" x2="754.6" y2="333.4" stroke-width="1.15"/><line x1="772.9" y1="334.8" x2="782.2" y2="334.3" stroke-width="1.01"/><line x1="375.7" y1="315.3" x2="386.9" y2="318.2" stroke-width="1.22"/><line x1="221.1" y1="276.1" x2="241.7" y2="281.2" stroke-width="1.75"/><line x1="409.7" y1="355.7" x2="442.3" y2="364.6" stroke-width="0.91"/><line x1="348.7" y1="320.4" x2="357.9" y2="322.8" stroke-width="1.00"/><line x1="301.9" y1="290.5" x2="314.4" y2="293.4" stroke-width="1.01"/><line x1="344.9" y1="324.0" x2="369.6" y2="331.9" stroke-width="1.80"/><line x1="447.2" y1="325.4" x2="477.4" y2="332.1" stroke-width="1.76"/><line x1="395.9" y1="308.9" x2="418.5" y2="317.7" stroke-width="1.69"/><line x1="215.1" y1="274.0" x2="224.1" y2="276.1" stroke-width="1.51"/><line x1="660.7" y1="348.2" x2="687.5" y2="345.8" stroke-width="0.85"/><line x1="374.2" y1="309.1" x2="384.6" y2="311.9" stroke-width="0.85"/><line x1="318.6" y1="305.8" x2="328.4" y2="309.4" stroke-width="1.96"/><line x1="707.3" y1="341.0" x2="738.6" y2="336.3" stroke-width="1.15"/><line x1="589.9" y1="358.0" x2="598.1" y2="357.2" stroke-width="1.22"/><line x1="651.7" y1="346.0" x2="662.3" y2="344.4" stroke-width="1.01"/><line x1="218.9" y1="278.5" x2="238.1" y2="285.3" stroke-width="1.20"/><line x1="743.1" y1="332.9" x2="770.9" y2="334.1" stroke-width="1.70"/><line x1="591.4" y1="349.0" x2="606.1" y2="349.3" stroke-width="1.30"/><line x1="335.4" y1="291.3" x2="356.4" y2="295.2" stroke-width="1.88"/><line x1="544.2" y1="359.4" x2="561.1" y2="358.7" stroke-width="0.86"/><line x1="297.0" y1="290.2" x2="329.0" y2="299.1" stroke-width="1.68"/><line x1="596.5" y1="351.7" x2="606.2" y2="351.0" stroke-width="0.89"/><line x1="654.7" y1="348.7" x2="663.4" y2="347.8" stroke-width="1.00"/><line x1="511.4" y1="364.0" x2="546.9" y2="363.3" stroke-width="1.63"/><line x1="682.1" y1="343.0" x2="690.3" y2="342.0" stroke-width="0.87"/><line x1="616.1" y1="347.9" x2="649.2" y2="345.7" stroke-width="1.51"/><line x1="283.4" y1="296.0" x2="318.8" y2="308.7" stroke-width="1.33"/><line x1="649.1" y1="343.7" x2="664.9" y2="341.4" stroke-width="1.70"/><line x1="748.6" y1="332.9" x2="766.6" y2="333.2" stroke-width="1.18"/><line x1="213.7" y1="273.8" x2="230.3" y2="276.2" stroke-width="1.10"/><line x1="740.3" y1="335.6" x2="771.6" y2="333.4" stroke-width="1.72"/><line x1="214.7" y1="276.6" x2="232.7" y2="282.5" stroke-width="1.89"/><line x1="601.7" y1="347.9" x2="611.0" y2="347.5" stroke-width="1.59"/><line x1="542.2" y1="342.4" x2="556.8" y2="343.1" stroke-width="0.91"/><line x1="604.2" y1="344.3" x2="629.8" y2="342.9" stroke-width="1.90"/><line x1="225.3" y1="278.0" x2="257.2" y2="289.7" stroke-width="1.20"/><line x1="656.4" y1="343.0" x2="667.7" y2="342.1" stroke-width="1.77"/><line x1="655.4" y1="349.8" x2="678.0" y2="346.0" stroke-width="1.19"/><line x1="200.6" y1="272.3" x2="234.8" y2="279.9" stroke-width="1.06"/><line x1="678.8" y1="340.5" x2="694.9" y2="338.5" stroke-width="1.01"/><line x1="414.8" y1="334.8" x2="430.8" y2="338.9" stroke-width="1.71"/><line x1="462.2" y1="322.4" x2="489.1" y2="329.5" stroke-width="1.79"/><line x1="545.8" y1="345.8" x2="575.5" y2="346.5" stroke-width="1.85"/><line x1="376.5" y1="322.9" x2="391.4" y2="326.8" stroke-width="1.88"/><line x1="439.4" y1="340.5" x2="451.1" y2="341.9" stroke-width="1.61"/><line x1="746.9" y1="333.7" x2="769.3" y2="334.3" stroke-width="1.86"/><line x1="675.9" y1="343.2" x2="698.0" y2="340.8" stroke-width="1.41"/><line x1="645.6" y1="345.4" x2="676.9" y2="342.0" stroke-width="0.80"/><line x1="225.3" y1="277.9" x2="243.6" y2="282.8" stroke-width="2.00"/><line x1="249.6" y1="280.7" x2="271.9" y2="283.9" stroke-width="1.24"/><line x1="633.1" y1="354.7" x2="654.2" y2="351.6" stroke-width="1.10"/><line x1="349.4" y1="312.6" x2="371.2" y2="318.4" stroke-width="1.68"/><line x1="662.7" y1="340.0" x2="689.5" y2="337.3" stroke-width="1.49"/><line x1="434.4" y1="348.2" x2="451.8" y2="350.5" stroke-width="1.45"/><line x1="209.9" y1="273.7" x2="229.5" y2="278.5" stroke-width="1.13"/><line x1="757.7" y1="334.1" x2="767.5" y2="334.0" stroke-width="1.64"/><line x1="253.9" y1="285.5" x2="267.8" y2="289.1" stroke-width="1.79"/><line x1="317.9" y1="312.9" x2="329.8" y2="319.4" stroke-width="0.88"/><line x1="481.1" y1="331.8" x2="510.6" y2="339.0" stroke-width="0.81"/><line x1="427.8" y1="345.2" x2="450.3" y2="351.0" stroke-width="0.96"/><line x1="745.4" y1="333.4" x2="756.2" y2="333.3" stroke-width="0.88"/><line x1="366.2" y1="292.7" x2="400.5" y2="301.1" stroke-width="1.64"/><line x1="401.2" y1="306.5" x2="418.0" y2="313.3" stroke-width="0.97"/><line x1="541.8" y1="348.9" x2="575.1" y2="348.9" stroke-width="1.77"/><line x1="740.7" y1="334.4" x2="751.9" y2="333.6" stroke-width="0.91"/><line x1="374.3" y1="304.6" x2="386.3" y2="306.7" stroke-width="0.85"/><line x1="571.8" y1="358.9" x2="602.1" y2="357.1" stroke-width="1.03"/><line x1="587.7" y1="353.0" x2="610.4" y2="350.8" stroke-width="1.13"/><line x1="414.1" y1="315.2" x2="446.3" y2="325.0" stroke-width="1.48"/><line x1="685.7" y1="343.6" x2="721.2" y2="339.5" stroke-width="1.88"/><line x1="639.9" y1="347.3" x2="670.1" y2="344.4" stroke-width="1.00"/><line x1="556.3" y1="366.3" x2="582.9" y2="361.7" stroke-width="1.60"/><line x1="413.7" y1="310.5" x2="430.3" y2="317.1" stroke-width="1.37"/><line x1="283.0" y1="283.2" x2="295.4" y2="283.8" stroke-width="1.93"/><line x1="737.4" y1="335.2" x2="751.4" y2="334.3" stroke-width="1.15"/><line x1="361.8" y1="320.9" x2="375.4" y2="324.8" stroke-width="1.70"/><line x1="510.8" y1="351.6" x2="537.0" y2="352.9" stroke-width="1.37"/><line x1="629.9" y1="346.5" x2="663.0" y2="343.7" stroke-width="1.85"/><line x1="689.8" y1="339.0" x2="707.1" y2="336.8" stroke-width="0.89"/><line x1="599.7" y1="346.6" x2="630.6" y2="346.6" stroke-width="0.95"/><line x1="562.6" y1="345.4" x2="572.7" y2="345.7" stroke-width="1.19"/><line x1="378.3" y1="343.1" x2="389.0" y2="347.0" stroke-width="0.82"/><line x1="259.5" y1="292.7" x2="277.9" y2="301.1" stroke-width="1.36"/><line x1="285.9" y1="303.2" x2="299.1" y2="307.9" stroke-width="1.78"/><line x1="507.5" y1="342.8" x2="536.4" y2="347.2" stroke-width="1.09"/><line x1="653.5" y1="343.7" x2="669.3" y2="341.6" stroke-width="1.01"/><line x1="493.4" y1="331.0" x2="523.5" y2="336.0" stroke-width="0.94"/><line x1="343.0" y1="323.8" x2="355.0" y2="326.8" stroke-width="1.18"/><line x1="501.5" y1="353.7" x2="537.1" y2="353.6" stroke-width="0.97"/><line x1="636.0" y1="349.2" x2="656.8" y2="346.9" stroke-width="1.39"/><line x1="358.2" y1="319.5" x2="370.6" y2="323.4" stroke-width="1.05"/><line x1="344.0" y1="311.6" x2="355.3" y2="314.3" stroke-width="1.29"/><line x1="521.2" y1="346.8" x2="539.5" y2="349.2" stroke-width="1.69"/><line x1="326.4" y1="313.4" x2="351.9" y2="322.6" stroke-width="1.80"/><line x1="498.0" y1="351.7" x2="511.9" y2="351.6" stroke-width="1.06"/><line x1="635.6" y1="344.4" x2="670.7" y2="339.3" stroke-width="0.99"/><line x1="213.7" y1="275.4" x2="247.1" y2="284.6" stroke-width="0.99"/><line x1="230.6" y1="277.7" x2="256.1" y2="283.1" stroke-width="1.50"/><line x1="288.6" y1="296.2" x2="299.4" y2="299.8" stroke-width="1.35"/><line x1="540.9" y1="357.9" x2="559.4" y2="357.6" stroke-width="1.70"/><line x1="716.8" y1="339.2" x2="731.5" y2="337.2" stroke-width="1.17"/><line x1="662.5" y1="345.0" x2="680.9" y2="342.6" stroke-width="1.48"/><line x1="377.7" y1="347.3" x2="406.3" y2="358.7" stroke-width="1.83"/><line x1="316.6" y1="307.9" x2="339.6" y2="317.3" stroke-width="1.26"/><line x1="462.7" y1="343.2" x2="473.9" y2="345.0" stroke-width="1.90"/><line x1="726.8" y1="337.1" x2="760.5" y2="335.0" stroke-width="1.66"/><line x1="425.5" y1="334.8" x2="445.7" y2="341.8" stroke-width="1.22"/><line x1="240.4" y1="279.6" x2="252.0" y2="282.4" stroke-width="1.03"/><line x1="760.6" y1="334.4" x2="772.7" y2="334.2" stroke-width="1.25"/><line x1="497.9" y1="330.5" x2="525.5" y2="336.4" stroke-width="2.00"/><line x1="467.5" y1="342.8" x2="499.3" y2="347.1" stroke-width="1.66"/><line x1="395.0" y1="326.0" x2="403.3" y2="328.1" stroke-width="1.73"/><line x1="460.0" y1="325.5" x2="486.7" y2="332.1" stroke-width="1.77"/><line x1="467.8" y1="333.7" x2="489.6" y2="339.0" stroke-width="1.72"/><line x1="205.2" y1="272.3" x2="240.1" y2="278.0" stroke-width="1.36"/><line x1="439.6" y1="341.0" x2="460.4" y2="342.7" stroke-width="1.76"/><line x1="692.7" y1="339.6" x2="724.6" y2="336.9" stroke-width="1.83"/><line x1="746.5" y1="333.3" x2="781.4" y2="334.3" stroke-width="1.63"/><line x1="458.1" y1="361.7" x2="469.6" y2="362.7" stroke-width="1.02"/><line x1="577.2" y1="357.0" x2="606.4" y2="355.1" stroke-width="1.54"/><line x1="606.1" y1="349.3" x2="638.3" y2="347.1" stroke-width="1.14"/><line x1="714.8" y1="336.0" x2="748.3" y2="333.4" stroke-width="1.61"/><line x1="734.5" y1="335.2" x2="744.9" y2="334.3" stroke-width="0.80"/><line x1="237.4" y1="285.1" x2="256.2" y2="291.1" stroke-width="1.83"/><line x1="408.5" y1="344.5" x2="441.9" y2="353.6" stroke-width="1.97"/><line x1="523.0" y1="344.4" x2="546.0" y2="347.8" stroke-width="1.90"/><line x1="493.1" y1="366.0" x2="510.8" y2="366.1" stroke-width="1.04"/><line x1="635.8" y1="350.5" x2="655.9" y2="347.8" stroke-width="0.95"/><line x1="695.8" y1="340.8" x2="724.8" y2="337.5" stroke-width="1.14"/><line x1="478.9" y1="353.3" x2="511.4" y2="357.3" stroke-width="1.67"/><line x1="326.7" y1="315.9" x2="358.6" y2="327.0" stroke-width="1.59"/><line x1="212.9" y1="276.2" x2="245.9" y2="283.4" stroke-width="1.71"/><line x1="464.3" y1="353.3" x2="497.9" y2="356.9" stroke-width="1.00"/><line x1="554.6" y1="361.3" x2="584.0" y2="359.4" stroke-width="1.26"/><line x1="484.0" y1="343.9" x2="494.1" y2="345.3" stroke-width="1.22"/><line x1="278.5" y1="292.2" x2="304.1" y2="298.8" stroke-width="1.01"/><line x1="622.4" y1="344.7" x2="648.9" y2="343.2" stroke-width="1.10"/><line x1="676.5" y1="341.4" x2="689.5" y2="339.7" stroke-width="1.55"/><line x1="506.5" y1="348.5" x2="535.9" y2="349.3" stroke-width="1.51"/><line x1="202.5" y1="272.3" x2="237.9" y2="282.9" stroke-width="1.56"/><line x1="246.4" y1="282.6" x2="271.5" y2="287.1" stroke-width="1.96"/><line x1="447.4" y1="345.6" x2="459.8" y2="347.7" stroke-width="1.33"/><line x1="745.1" y1="334.3" x2="772.0" y2="334.4" stroke-width="0.82"/><line x1="315.0" y1="297.6" x2="324.6" y2="300.3" stroke-width="1.70"/><line x1="578.8" y1="357.7" x2="590.1" y2="356.8" stroke-width="1.37"/><line x1="356.3" y1="301.4" x2="383.0" y2="308.3" stroke-width="0.92"/><line x1="633.6" y1="347.5" x2="648.6" y2="346.2" stroke-width="0.95"/><line x1="231.4" y1="277.7" x2="259.2" y2="284.8" stroke-width="1.17"/><line x1="634.7" y1="348.4" x2="652.5" y2="346.3" stroke-width="1.45"/><line x1="498.3" y1="342.2" x2="507.5" y2="343.3" stroke-width="1.75"/><line x1="562.4" y1="342.0" x2="579.1" y2="343.8" stroke-width="1.08"/><line x1="284.5" y1="300.9" x2="298.1" y2="305.8" stroke-width="1.33"/><line x1="411.7" y1="314.5" x2="441.5" y2="324.9" stroke-width="1.59"/><line x1="450.0" y1="346.2" x2="472.1" y2="349.2" stroke-width="1.95"/><line x1="657.0" y1="350.2" x2="682.9" y2="344.9" stroke-width="1.55"/><line x1="683.9" y1="339.5" x2="695.3" y2="338.4" stroke-width="1.03"/><line x1="562.1" y1="345.4" x2="590.7" y2="346.8" stroke-width="1.52"/><line x1="287.7" y1="282.8" x2="322.0" y2="287.5" stroke-width="1.48"/><line x1="606.3" y1="353.2" x2="615.3" y2="352.3" stroke-width="1.65"/><line x1="407.1" y1="311.3" x2="416.6" y2="314.4" stroke-width="1.32"/><line x1="404.8" y1="324.2" x2="422.7" y2="331.1" stroke-width="1.60"/><line x1="401.5" y1="346.0" x2="423.7" y2="350.7" stroke-width="1.87"/><line x1="210.2" y1="274.4" x2="231.3" y2="279.9" stroke-width="0.93"/><line x1="277.7" y1="288.1" x2="305.9" y2="295.3" stroke-width="1.61"/><line x1="577.2" y1="362.9" x2="591.3" y2="360.4" stroke-width="1.11"/><line x1="404.2" y1="328.9" x2="421.7" y2="334.4" stroke-width="1.84"/><line x1="746.3" y1="334.4" x2="761.9" y2="333.9" stroke-width="1.89"/><line x1="526.0" y1="343.9" x2="553.6" y2="346.7" stroke-width="1.59"/><line x1="228.0" y1="278.3" x2="261.8" y2="286.8" stroke-width="0.86"/><line x1="203.9" y1="273.1" x2="216.5" y2="277.4" stroke-width="1.52"/><line x1="610.1" y1="348.1" x2="628.0" y2="346.7" stroke-width="1.00"/><line x1="382.4" y1="321.9" x2="409.4" y2="329.2" stroke-width="1.48"/><line x1="532.5" y1="356.1" x2="557.1" y2="355.1" stroke-width="1.33"/><line x1="619.8" y1="347.3" x2="642.2" y2="347.1" stroke-width="0.97"/><line x1="297.7" y1="302.4" x2="320.7" y2="312.9" stroke-width="1.65"/><line x1="299.0" y1="298.2" x2="311.1" y2="302.7" stroke-width="1.30"/><line x1="326.4" y1="314.3" x2="361.0" y2="326.3" stroke-width="1.99"/><line x1="358.7" y1="325.4" x2="386.8" y2="334.1" stroke-width="1.83"/><line x1="515.2" y1="336.7" x2="549.7" y2="342.4" stroke-width="1.93"/><line x1="278.0" y1="289.9" x2="298.5" y2="296.0" stroke-width="1.38"/><line x1="620.9" y1="353.7" x2="642.3" y2="351.3" stroke-width="1.04"/><line x1="553.3" y1="357.3" x2="577.2" y2="354.4" stroke-width="1.70"/><line x1="729.9" y1="334.3" x2="751.9" y2="333.2" stroke-width="1.09"/><line x1="636.8" y1="345.1" x2="667.0" y2="340.4" stroke-width="1.48"/><line x1="705.7" y1="337.3" x2="731.3" y2="335.7" stroke-width="1.58"/><line x1="631.2" y1="343.2" x2="650.3" y2="341.8" stroke-width="1.16"/><line x1="454.3" y1="323.3" x2="489.5" y2="332.5" stroke-width="1.71"/><line x1="676.5" y1="338.7" x2="701.6" y2="336.9" stroke-width="0.82"/><line x1="622.5" y1="344.6" x2="650.9" y2="343.9" stroke-width="1.59"/><line x1="597.8" y1="348.5" x2="624.3" y2="348.1" stroke-width="1.44"/><line x1="549.6" y1="348.5" x2="564.8" y2="348.8" stroke-width="1.59"/><line x1="241.0" y1="279.8" x2="254.1" y2="282.2" stroke-width="1.23"/><line x1="714.6" y1="339.6" x2="727.0" y2="337.8" stroke-width="1.73"/><line x1="376.4" y1="317.6" x2="403.0" y2="324.2" stroke-width="1.27"/><line x1="513.6" y1="353.9" x2="525.7" y2="354.3" stroke-width="0.95"/><line x1="761.9" y1="333.1" x2="782.4" y2="333.5" stroke-width="0.88"/><line x1="509.3" y1="351.8" x2="525.7" y2="352.7" stroke-width="0.85"/><line x1="683.7" y1="345.4" x2="710.7" y2="340.8" stroke-width="1.43"/><line x1="729.8" y1="335.1" x2="740.6" y2="334.1" stroke-width="1.39"/><line x1="594.0" y1="359.8" x2="626.2" y2="356.3" stroke-width="1.95"/><line x1="285.8" y1="296.5" x2="317.1" y2="309.2" stroke-width="1.09"/><line x1="295.7" y1="289.6" x2="324.2" y2="295.2" stroke-width="1.90"/><line x1="476.3" y1="341.4" x2="495.3" y2="344.5" stroke-width="1.23"/><line x1="667.6" y1="344.0" x2="682.0" y2="341.5" stroke-width="1.91"/><line x1="553.5" y1="361.0" x2="573.2" y2="359.7" stroke-width="0.82"/><line x1="751.4" y1="333.3" x2="762.3" y2="333.1" stroke-width="1.18"/><line x1="302.3" y1="301.2" x2="311.8" y2="305.2" stroke-width="1.24"/><line x1="587.8" y1="344.7" x2="611.9" y2="345.8" stroke-width="0.97"/><line x1="555.9" y1="346.5" x2="585.8" y2="346.8" stroke-width="0.86"/><line x1="702.2" y1="338.0" x2="712.8" y2="337.5" stroke-width="0.87"/><line x1="545.3" y1="348.5" x2="573.3" y2="349.5" stroke-width="1.89"/><line x1="729.5" y1="333.8" x2="759.0" y2="333.0" stroke-width="1.97"/><line x1="535.3" y1="344.4" x2="561.8" y2="345.9" stroke-width="1.82"/><line x1="558.8" y1="357.1" x2="577.4" y2="355.8" stroke-width="1.32"/><line x1="764.2" y1="334.5" x2="783.3" y2="333.9" stroke-width="0.90"/><line x1="246.0" y1="281.1" x2="257.6" y2="283.1" stroke-width="1.78"/><line x1="510.9" y1="363.2" x2="524.7" y2="362.7" stroke-width="1.94"/><line x1="560.0" y1="346.4" x2="584.6" y2="346.2" stroke-width="1.53"/><line x1="421.6" y1="315.8" x2="435.4" y2="321.1" stroke-width="1.66"/><line x1="266.5" y1="282.6" x2="281.3" y2="284.2" stroke-width="1.21"/><line x1="531.5" y1="340.3" x2="562.4" y2="340.6" stroke-width="1.03"/><line x1="544.0" y1="347.9" x2="553.8" y2="348.1" stroke-width="1.90"/><line x1="482.4" y1="356.0" x2="508.5" y2="359.5" stroke-width="1.90"/><line x1="467.8" y1="365.2" x2="480.3" y2="366.1" stroke-width="1.94"/><line x1="377.9" y1="324.3" x2="413.3" y2="333.7" stroke-width="1.55"/><line x1="742.4" y1="333.2" x2="754.9" y2="333.5" stroke-width="1.10"/><line x1="593.5" y1="354.1" x2="606.5" y2="353.1" stroke-width="0.96"/><line x1="600.3" y1="352.9" x2="619.5" y2="351.2" stroke-width="1.26"/><line x1="349.2" y1="315.7" x2="377.1" y2="323.2" stroke-width="1.62"/><line x1="382.7" y1="341.2" x2="394.1" y2="344.9" stroke-width="0.85"/><line x1="340.7" y1="292.6" x2="350.9" y2="295.3" stroke-width="1.12"/><line x1="664.2" y1="346.2" x2="698.7" y2="343.8" stroke-width="1.48"/><line x1="632.9" y1="347.3" x2="655.1" y2="343.8" stroke-width="1.10"/><line x1="762.6" y1="333.9" x2="788.5" y2="334.3" stroke-width="1.95"/><line x1="309.8" y1="308.7" x2="343.0" y2="324.5" stroke-width="1.57"/><line x1="539.4" y1="343.2" x2="570.8" y2="345.1" stroke-width="0.81"/><line x1="666.3" y1="348.5" x2="698.3" y2="343.4" stroke-width="1.73"/><line x1="548.7" y1="366.0" x2="577.8" y2="361.2" stroke-width="0.95"/><line x1="695.6" y1="339.2" x2="716.5" y2="336.6" stroke-width="1.04"/><line x1="279.5" y1="283.6" x2="292.0" y2="284.3" stroke-width="1.05"/><line x1="655.7" y1="344.8" x2="681.0" y2="342.9" stroke-width="1.27"/><line x1="485.2" y1="338.3" x2="497.0" y2="340.5" stroke-width="1.79"/><line x1="295.4" y1="299.6" x2="314.4" y2="308.1" stroke-width="1.42"/><line x1="362.2" y1="301.4" x2="375.7" y2="304.0" stroke-width="1.70"/><line x1="228.9" y1="278.6" x2="253.5" y2="283.7" stroke-width="1.16"/><line x1="450.2" y1="320.5" x2="461.8" y2="323.5" stroke-width="1.24"/><line x1="376.7" y1="295.3" x2="395.6" y2="299.5" stroke-width="1.05"/><line x1="590.0" y1="348.1" x2="604.7" y2="347.1" stroke-width="1.14"/><line x1="669.7" y1="344.0" x2="695.0" y2="341.0" stroke-width="1.09"/><line x1="738.4" y1="335.3" x2="764.3" y2="334.0" stroke-width="1.63"/><line x1="598.2" y1="349.0" x2="630.3" y2="345.7" stroke-width="0.82"/><line x1="715.4" y1="337.5" x2="740.7" y2="334.7" stroke-width="0.85"/><line x1="339.4" y1="326.1" x2="365.6" y2="336.6" stroke-width="1.59"/><line x1="663.7" y1="345.3" x2="672.6" y2="344.0" stroke-width="1.00"/><line x1="356.6" y1="323.8" x2="369.7" y2="327.1" stroke-width="1.52"/><line x1="666.3" y1="339.2" x2="681.0" y2="338.2" stroke-width="1.72"/><line x1="506.5" y1="332.9" x2="528.9" y2="337.6" stroke-width="0.95"/><line x1="355.8" y1="302.8" x2="379.6" y2="307.8" stroke-width="0.82"/><line x1="315.6" y1="297.5" x2="341.9" y2="304.6" stroke-width="1.06"/><line x1="351.8" y1="300.1" x2="379.9" y2="304.5" stroke-width="1.94"/><line x1="196.2" y1="270.3" x2="216.5" y2="276.8" stroke-width="1.48"/><line x1="576.2" y1="342.4" x2="594.5" y2="343.0" stroke-width="1.29"/><line x1="513.5" y1="360.4" x2="522.6" y2="360.4" stroke-width="1.99"/><line x1="728.5" y1="336.4" x2="749.2" y2="335.4" stroke-width="1.98"/><line x1="379.9" y1="297.9" x2="407.5" y2="303.5" stroke-width="1.34"/><line x1="409.3" y1="324.7" x2="439.6" y2="334.1" stroke-width="1.58"/><line x1="565.3" y1="350.0" x2="590.5" y2="348.9" stroke-width="1.53"/><line x1="450.8" y1="321.4" x2="462.0" y2="324.5" stroke-width="1.69"/><line x1="600.3" y1="351.7" x2="622.5" y2="349.6" stroke-width="1.68"/><line x1="464.7" y1="334.5" x2="478.9" y2="337.7" stroke-width="1.60"/><line x1="756.4" y1="336.2" x2="789.9" y2="334.0" stroke-width="1.58"/><line x1="329.5" y1="296.1" x2="349.7" y2="301.6" stroke-width="1.13"/><line x1="374.3" y1="310.0" x2="385.2" y2="312.5" stroke-width="1.53"/><line x1="749.5" y1="335.7" x2="777.3" y2="334.8" stroke-width="0.90"/><line x1="434.0" y1="336.6" x2="457.6" y2="339.5" stroke-width="1.03"/><line x1="581.2" y1="354.4" x2="597.3" y2="353.5" stroke-width="1.62"/><line x1="600.3" y1="344.4" x2="632.2" y2="342.4" stroke-width="1.97"/><line x1="484.1" y1="341.3" x2="499.9" y2="344.0" stroke-width="1.47"/><line x1="598.4" y1="351.7" x2="625.8" y2="349.8" stroke-width="1.54"/><line x1="215.9" y1="275.0" x2="233.8" y2="279.5" stroke-width="1.65"/><line x1="475.5" y1="333.4" x2="487.5" y2="336.2" stroke-width="1.96"/><line x1="710.7" y1="336.0" x2="730.1" y2="335.2" stroke-width="1.47"/><line x1="293.2" y1="291.5" x2="325.0" y2="300.0" stroke-width="1.80"/><line x1="750.9" y1="333.5" x2="773.0" y2="332.9" stroke-width="1.02"/><line x1="385.7" y1="337.1" x2="412.5" y2="344.9" stroke-width="1.92"/><line x1="216.2" y1="274.1" x2="239.8" y2="280.0" stroke-width="1.87"/><line x1="488.0" y1="365.3" x2="506.5" y2="365.9" stroke-width="1.82"/><line x1="294.2" y1="290.6" x2="304.6" y2="293.0" stroke-width="0.81"/><line x1="748.0" y1="334.2" x2="777.1" y2="334.0" stroke-width="1.41"/><line x1="434.9" y1="349.3" x2="450.9" y2="352.4" stroke-width="1.12"/><line x1="560.5" y1="349.2" x2="584.4" y2="348.8" stroke-width="1.93"/><line x1="678.3" y1="344.5" x2="701.9" y2="340.0" stroke-width="1.12"/><line x1="587.4" y1="347.6" x2="614.1" y2="347.2" stroke-width="1.69"/><line x1="393.3" y1="300.3" x2="417.2" y2="308.9" stroke-width="1.57"/><line x1="578.3" y1="342.7" x2="604.1" y2="344.3" stroke-width="1.22"/><line x1="422.6" y1="340.2" x2="448.0" y2="349.0" stroke-width="1.51"/><line x1="285.5" y1="301.6" x2="318.1" y2="318.7" stroke-width="1.63"/><line x1="735.5" y1="334.0" x2="759.0" y2="332.7" stroke-width="1.28"/><line x1="739.2" y1="334.7" x2="749.5" y2="334.0" stroke-width="0.99"/><line x1="763.6" y1="335.2" x2="792.8" y2="334.5" stroke-width="1.45"/><line x1="395.5" y1="303.2" x2="411.1" y2="309.6" stroke-width="1.93"/><line x1="213.3" y1="274.1" x2="223.7" y2="276.4" stroke-width="1.83"/><line x1="253.4" y1="281.4" x2="273.7" y2="282.7" stroke-width="1.96"/><line x1="401.9" y1="339.3" x2="419.1" y2="344.0" stroke-width="1.98"/><line x1="440.7" y1="335.7" x2="465.4" y2="340.9" stroke-width="0.81"/><line x1="647.7" y1="341.9" x2="667.1" y2="339.0" stroke-width="1.95"/><line x1="408.1" y1="330.9" x2="440.2" y2="341.9" stroke-width="1.58"/><line x1="342.7" y1="300.1" x2="361.0" y2="304.3" stroke-width="1.39"/><line x1="715.6" y1="337.0" x2="747.6" y2="334.8" stroke-width="1.60"/><line x1="326.9" y1="299.1" x2="353.5" y2="307.0" stroke-width="1.45"/><line x1="722.2" y1="338.6" x2="743.9" y2="336.2" stroke-width="1.31"/><line x1="478.3" y1="343.6" x2="512.3" y2="349.4" stroke-width="1.73"/><line x1="385.2" y1="300.1" x2="416.4" y2="309.1" stroke-width="1.59"/><line x1="705.1" y1="337.6" x2="740.3" y2="334.8" stroke-width="1.51"/><line x1="485.1" y1="352.5" x2="515.0" y2="354.3" stroke-width="1.58"/><line x1="643.9" y1="343.9" x2="654.7" y2="342.8" stroke-width="1.78"/><line x1="564.4" y1="359.2" x2="576.0" y2="357.4" stroke-width="1.01"/><line x1="721.1" y1="337.6" x2="755.6" y2="335.7" stroke-width="1.47"/><line x1="574.7" y1="346.3" x2="590.7" y2="346.8" stroke-width="0.88"/><line x1="192.9" y1="269.7" x2="224.7" y2="275.6" stroke-width="0.92"/><line x1="544.2" y1="345.1" x2="564.3" y2="345.9" stroke-width="1.67"/><line x1="452.1" y1="349.0" x2="472.6" y2="352.0" stroke-width="1.30"/><line x1="691.4" y1="337.0" x2="720.7" y2="335.5" stroke-width="1.40"/><line x1="337.0" y1="293.5" x2="348.3" y2="296.5" stroke-width="1.56"/><line x1="232.1" y1="282.5" x2="258.9" y2="288.2" stroke-width="1.27"/><line x1="486.6" y1="336.6" x2="510.9" y2="341.6" stroke-width="1.57"/><line x1="594.1" y1="345.5" x2="617.9" y2="344.9" stroke-width="1.03"/><line x1="269.8" y1="284.0" x2="284.1" y2="284.8" stroke-width="1.86"/><line x1="260.6" y1="284.0" x2="275.5" y2="286.2" stroke-width="1.78"/><line x1="661.0" y1="341.4" x2="683.5" y2="339.3" stroke-width="1.01"/><line x1="245.3" y1="280.8" x2="254.7" y2="282.8" stroke-width="1.02"/><line x1="599.5" y1="350.4" x2="624.6" y2="348.3" stroke-width="1.16"/><line x1="663.0" y1="341.7" x2="687.3" y2="338.7" stroke-width="1.26"/><line x1="754.1" y1="334.7" x2="768.9" y2="334.6" stroke-width="1.91"/><line x1="726.1" y1="336.6" x2="745.1" y2="334.2" stroke-width="1.47"/><line x1="659.8" y1="341.9" x2="687.5" y2="337.7" stroke-width="1.58"/><line x1="757.8" y1="333.9" x2="771.9" y2="333.7" stroke-width="1.72"/><line x1="425.0" y1="348.7" x2="442.8" y2="353.5" stroke-width="1.05"/><line x1="691.3" y1="337.0" x2="723.6" y2="334.4" stroke-width="1.68"/><line x1="496.4" y1="341.1" x2="525.3" y2="343.9" stroke-width="1.05"/><line x1="578.5" y1="348.3" x2="614.2" y2="347.8" stroke-width="1.30"/><line x1="247.3" y1="288.3" x2="259.2" y2="293.4" stroke-width="1.96"/><line x1="234.4" y1="282.7" x2="261.5" y2="290.5" stroke-width="0.85"/><line x1="702.5" y1="341.5" x2="722.7" y2="339.1" stroke-width="1.74"/><line x1="747.4" y1="334.7" x2="759.6" y2="333.8" stroke-width="1.57"/><line x1="494.9" y1="354.8" x2="507.5" y2="355.8" stroke-width="1.15"/><line x1="378.2" y1="322.7" x2="407.3" y2="333.4" stroke-width="1.82"/><line x1="464.3" y1="349.3" x2="498.2" y2="353.2" stroke-width="1.81"/><line x1="306.9" y1="285.0" x2="332.7" y2="287.4" stroke-width="0.92"/><line x1="286.2" y1="295.0" x2="309.0" y2="302.1" stroke-width="0.85"/><line x1="262.1" y1="294.5" x2="271.2" y2="298.1" stroke-width="1.57"/><line x1="254.2" y1="280.3" x2="289.8" y2="285.4" stroke-width="0.86"/><line x1="271.9" y1="289.3" x2="306.0" y2="294.0" stroke-width="1.68"/><line x1="703.1" y1="341.3" x2="725.3" y2="339.8" stroke-width="1.06"/><line x1="500.8" y1="344.8" x2="536.0" y2="347.2" stroke-width="1.16"/><line x1="274.2" y1="293.6" x2="291.1" y2="299.4" stroke-width="1.95"/><line x1="370.7" y1="315.6" x2="383.4" y2="318.3" stroke-width="1.06"/><line x1="513.5" y1="353.8" x2="529.2" y2="354.6" stroke-width="0.82"/><line x1="688.3" y1="345.2" x2="707.8" y2="341.4" stroke-width="1.00"/><line x1="194.2" y1="270.0" x2="219.8" y2="276.3" stroke-width="1.06"/><line x1="585.7" y1="348.6" x2="603.5" y2="347.9" stroke-width="1.81"/><line x1="476.2" y1="346.4" x2="501.5" y2="350.1" stroke-width="0.92"/><line x1="707.5" y1="341.4" x2="736.3" y2="337.3" stroke-width="1.74"/><line x1="483.2" y1="332.6" x2="504.4" y2="336.7" stroke-width="1.40"/><line x1="720.4" y1="335.8" x2="754.5" y2="333.7" stroke-width="1.93"/><line x1="631.7" y1="342.8" x2="649.5" y2="342.1" stroke-width="1.87"/><line x1="575.4" y1="354.2" x2="591.5" y2="353.5" stroke-width="1.61"/><line x1="199.9" y1="272.0" x2="223.5" y2="278.1" stroke-width="1.36"/><line x1="573.1" y1="360.0" x2="588.2" y2="358.3" stroke-width="0.85"/><line x1="233.4" y1="278.6" x2="260.4" y2="282.7" stroke-width="1.83"/><line x1="289.7" y1="305.1" x2="320.5" y2="323.4" stroke-width="1.20"/><line x1="519.2" y1="362.7" x2="536.0" y2="362.7" stroke-width="1.81"/><line x1="364.7" y1="337.8" x2="375.2" y2="341.3" stroke-width="1.55"/><line x1="586.9" y1="347.8" x2="619.4" y2="345.5" stroke-width="1.60"/><line x1="522.2" y1="342.7" x2="550.7" y2="348.3" stroke-width="1.02"/><line x1="559.0" y1="360.3" x2="572.7" y2="358.6" stroke-width="1.29"/><line x1="509.1" y1="356.9" x2="531.4" y2="357.7" stroke-width="1.50"/><line x1="739.2" y1="334.4" x2="765.9" y2="333.5" stroke-width="1.18"/><line x1="635.6" y1="348.5" x2="653.0" y2="346.0" stroke-width="1.97"/><line x1="614.7" y1="346.0" x2="626.3" y2="345.9" stroke-width="1.31"/><line x1="542.1" y1="348.4" x2="572.1" y2="349.2" stroke-width="0.92"/><line x1="335.2" y1="318.4" x2="362.3" y2="327.6" stroke-width="0.91"/><line x1="482.8" y1="363.9" x2="513.0" y2="364.2" stroke-width="1.16"/><line x1="530.4" y1="338.1" x2="546.3" y2="340.2" stroke-width="1.24"/><line x1="641.4" y1="342.5" x2="653.7" y2="341.1" stroke-width="1.17"/><line x1="358.9" y1="301.4" x2="386.0" y2="307.2" stroke-width="1.31"/><line x1="740.8" y1="337.5" x2="749.4" y2="336.7" stroke-width="1.78"/><line x1="477.5" y1="335.2" x2="503.8" y2="340.5" stroke-width="1.44"/><line x1="367.4" y1="334.5" x2="386.9" y2="341.3" stroke-width="1.91"/><line x1="626.7" y1="350.7" x2="649.0" y2="347.7" stroke-width="1.53"/><line x1="735.6" y1="336.4" x2="760.8" y2="334.9" stroke-width="1.95"/><line x1="305.6" y1="291.9" x2="316.1" y2="294.8" stroke-width="1.95"/><line x1="593.9" y1="359.7" x2="629.4" y2="354.1" stroke-width="1.50"/><line x1="740.2" y1="335.2" x2="754.3" y2="333.8" stroke-width="1.70"/><line x1="408.4" y1="343.4" x2="427.3" y2="349.4" stroke-width="0.92"/><line x1="244.4" y1="282.5" x2="261.4" y2="286.2" stroke-width="1.69"/><line x1="540.7" y1="342.2" x2="553.2" y2="343.8" stroke-width="1.12"/><line x1="464.9" y1="342.5" x2="489.3" y2="345.9" stroke-width="1.90"/><line x1="539.6" y1="353.7" x2="569.8" y2="353.6" stroke-width="1.73"/><line x1="511.6" y1="354.6" x2="540.7" y2="356.9" stroke-width="0.84"/><line x1="330.2" y1="303.4" x2="355.9" y2="310.7" stroke-width="1.49"/><line x1="754.2" y1="333.2" x2="782.4" y2="332.8" stroke-width="1.37"/><line x1="647.4" y1="342.3" x2="682.1" y2="338.4" stroke-width="1.21"/><line x1="364.2" y1="300.5" x2="399.0" y2="309.3" stroke-width="1.33"/><line x1="567.8" y1="352.4" x2="591.7" y2="350.3" stroke-width="0.92"/><line x1="417.2" y1="340.3" x2="429.5" y2="343.6" stroke-width="1.64"/><line x1="407.4" y1="303.2" x2="418.4" y2="307.6" stroke-width="1.86"/><line x1="754.2" y1="333.2" x2="767.5" y2="333.8" stroke-width="0.89"/><line x1="214.0" y1="273.7" x2="222.1" y2="275.6" stroke-width="0.93"/><line x1="599.9" y1="347.6" x2="614.0" y2="347.0" stroke-width="1.94"/><line x1="293.3" y1="304.3" x2="319.4" y2="317.5" stroke-width="1.47"/><line x1="319.8" y1="320.4" x2="346.2" y2="335.1" stroke-width="1.18"/><line x1="267.5" y1="281.6" x2="282.4" y2="282.1" stroke-width="1.24"/><line x1="307.0" y1="304.6" x2="340.9" y2="317.9" stroke-width="1.80"/><line x1="494.7" y1="366.3" x2="507.0" y2="366.1" stroke-width="1.47"/><line x1="308.2" y1="303.6" x2="342.2" y2="316.1" stroke-width="1.59"/><line x1="725.8" y1="338.4" x2="743.1" y2="335.8" stroke-width="1.33"/><line x1="430.0" y1="320.8" x2="466.0" y2="328.7" stroke-width="1.73"/><line x1="440.7" y1="327.2" x2="455.0" y2="330.1" stroke-width="1.05"/><line x1="574.5" y1="342.1" x2="603.6" y2="343.8" stroke-width="1.22"/><line x1="667.0" y1="343.1" x2="682.0" y2="341.7" stroke-width="0.90"/><line x1="386.3" y1="327.0" x2="407.2" y2="332.7" stroke-width="1.91"/><line x1="661.4" y1="343.2" x2="679.5" y2="341.2" stroke-width="1.51"/><line x1="205.4" y1="273.8" x2="231.3" y2="282.3" stroke-width="1.82"/><line x1="564.7" y1="349.6" x2="599.0" y2="349.2" stroke-width="1.17"/><line x1="479.6" y1="327.1" x2="489.8" y2="329.2" stroke-width="1.90"/><line x1="253.2" y1="283.4" x2="280.6" y2="285.8" stroke-width="1.44"/><line x1="730.8" y1="336.4" x2="751.6" y2="334.2" stroke-width="0.84"/><line x1="648.0" y1="350.6" x2="683.4" y2="346.2" stroke-width="1.78"/><line x1="709.0" y1="337.4" x2="725.5" y2="336.3" stroke-width="1.61"/><line x1="256.7" y1="282.4" x2="273.2" y2="284.5" stroke-width="1.12"/><line x1="334.5" y1="290.8" x2="364.1" y2="297.7" stroke-width="1.73"/><line x1="721.3" y1="336.1" x2="748.7" y2="333.8" stroke-width="1.64"/><line x1="393.6" y1="301.0" x2="421.3" y2="311.1" stroke-width="1.86"/><line x1="637.5" y1="350.5" x2="651.5" y2="348.4" stroke-width="1.72"/><line x1="217.3" y1="276.0" x2="245.9" y2="285.3" stroke-width="1.14"/><line x1="207.8" y1="274.4" x2="231.8" y2="282.7" stroke-width="1.96"/><line x1="352.9" y1="325.4" x2="386.1" y2="335.9" stroke-width="0.93"/><line x1="199.0" y1="272.1" x2="227.7" y2="280.3" stroke-width="1.56"/><line x1="461.1" y1="341.2" x2="485.8" y2="344.7" stroke-width="1.75"/><line x1="639.2" y1="345.2" x2="653.8" y2="343.0" stroke-width="1.98"/><line x1="734.2" y1="334.0" x2="764.1" y2="333.7" stroke-width="1.85"/><line x1="580.7" y1="351.3" x2="607.8" y2="350.0" stroke-width="1.27"/><line x1="674.5" y1="342.7" x2="698.1" y2="339.2" stroke-width="1.93"/><line x1="290.2" y1="288.3" x2="310.8" y2="291.6" stroke-width="0.86"/><line x1="534.1" y1="359.2" x2="558.4" y2="357.9" stroke-width="1.29"/><line x1="700.9" y1="342.5" x2="724.6" y2="339.1" stroke-width="0.98"/><line x1="410.4" y1="309.2" x2="423.9" y2="314.7" stroke-width="1.12"/><line x1="486.6" y1="341.8" x2="496.6" y2="343.8" stroke-width="1.25"/><line x1="288.1" y1="296.8" x2="323.7" y2="313.1" stroke-width="1.36"/><line x1="337.7" y1="297.9" x2="347.2" y2="299.9" stroke-width="0.81"/><line x1="199.3" y1="271.3" x2="220.0" y2="277.1" stroke-width="1.14"/><line x1="765.4" y1="333.5" x2="775.1" y2="333.4" stroke-width="1.36"/><line x1="765.3" y1="334.3" x2="781.9" y2="334.4" stroke-width="1.39"/><line x1="332.9" y1="303.9" x2="358.8" y2="310.0" stroke-width="1.79"/><line x1="616.0" y1="345.6" x2="642.5" y2="343.7" stroke-width="1.65"/><line x1="273.7" y1="295.7" x2="295.9" y2="303.1" stroke-width="0.95"/><line x1="530.5" y1="337.5" x2="540.1" y2="339.7" stroke-width="0.91"/><line x1="492.4" y1="342.4" x2="514.1" y2="345.4" stroke-width="1.64"/><line x1="471.4" y1="338.5" x2="498.1" y2="343.0" stroke-width="1.32"/><line x1="717.4" y1="339.2" x2="738.1" y2="337.2" stroke-width="1.25"/><line x1="711.5" y1="335.2" x2="732.7" y2="334.3" stroke-width="1.19"/><line x1="714.2" y1="338.0" x2="727.8" y2="336.8" stroke-width="1.41"/><line x1="421.9" y1="312.3" x2="450.8" y2="323.3" stroke-width="1.96"/><line x1="436.0" y1="352.1" x2="469.5" y2="354.9" stroke-width="1.62"/><line x1="612.7" y1="353.7" x2="648.2" y2="348.8" stroke-width="0.87"/><line x1="484.3" y1="368.2" x2="519.7" y2="366.8" stroke-width="1.26"/><line x1="645.7" y1="343.8" x2="673.3" y2="339.5" stroke-width="0.91"/><line x1="684.8" y1="338.2" x2="702.5" y2="336.4" stroke-width="1.13"/><line x1="729.1" y1="336.5" x2="756.9" y2="333.5" stroke-width="0.91"/><line x1="212.4" y1="275.6" x2="234.3" y2="282.5" stroke-width="1.99"/><line x1="711.0" y1="336.6" x2="729.8" y2="335.3" stroke-width="1.64"/><line x1="373.2" y1="304.2" x2="401.6" y2="309.9" stroke-width="1.76"/><line x1="218.4" y1="276.7" x2="253.7" y2="286.6" stroke-width="1.91"/><line x1="329.6" y1="293.1" x2="348.0" y2="296.6" stroke-width="0.93"/><line x1="242.8" y1="282.2" x2="268.7" y2="285.2" stroke-width="1.15"/><line x1="629.1" y1="350.3" x2="645.9" y2="348.7" stroke-width="1.27"/><line x1="771.5" y1="334.2" x2="786.1" y2="334.1" stroke-width="1.85"/><line x1="266.6" y1="289.8" x2="288.9" y2="295.4" stroke-width="1.24"/><line x1="636.1" y1="344.5" x2="648.2" y2="343.0" stroke-width="1.12"/><line x1="573.0" y1="359.7" x2="608.6" y2="353.8" stroke-width="1.43"/><line x1="589.4" y1="343.5" x2="614.6" y2="343.6" stroke-width="1.44"/><line x1="300.1" y1="296.0" x2="325.0" y2="304.9" stroke-width="1.74"/><line x1="492.5" y1="349.5" x2="514.9" y2="351.1" stroke-width="0.81"/><line x1="363.0" y1="309.5" x2="390.9" y2="316.2" stroke-width="1.70"/><line x1="474.6" y1="346.8" x2="489.4" y2="349.2" stroke-width="1.91"/><line x1="603.7" y1="353.7" x2="631.5" y2="350.7" stroke-width="1.91"/><line x1="627.8" y1="349.5" x2="659.8" y2="343.4" stroke-width="0.81"/><line x1="587.7" y1="348.9" x2="602.4" y2="349.4" stroke-width="1.28"/><line x1="512.3" y1="347.8" x2="520.8" y2="348.7" stroke-width="1.62"/><line x1="497.6" y1="338.0" x2="517.2" y2="340.9" stroke-width="1.76"/><line x1="301.7" y1="308.6" x2="320.1" y2="318.9" stroke-width="1.05"/><line x1="747.7" y1="335.8" x2="759.1" y2="335.3" stroke-width="0.97"/><line x1="340.1" y1="310.1" x2="355.8" y2="314.6" stroke-width="0.97"/><line x1="554.4" y1="361.3" x2="578.6" y2="358.0" stroke-width="1.74"/><line x1="741.6" y1="334.4" x2="754.0" y2="334.8" stroke-width="1.73"/><line x1="250.7" y1="282.7" x2="267.7" y2="285.1" stroke-width="1.22"/><line x1="362.0" y1="323.0" x2="385.1" y2="330.5" stroke-width="1.45"/><line x1="619.7" y1="348.0" x2="630.0" y2="347.0" stroke-width="1.51"/><line x1="530.0" y1="355.0" x2="545.5" y2="355.1" stroke-width="0.84"/><line x1="265.5" y1="290.0" x2="287.9" y2="296.7" stroke-width="1.64"/><line x1="479.4" y1="335.0" x2="499.8" y2="338.9" stroke-width="1.62"/><line x1="587.3" y1="348.1" x2="619.1" y2="346.2" stroke-width="1.79"/><line x1="195.4" y1="269.5" x2="219.8" y2="275.2" stroke-width="1.54"/><line x1="325.8" y1="309.5" x2="358.3" y2="322.0" stroke-width="1.95"/><line x1="292.6" y1="290.2" x2="317.4" y2="296.7" stroke-width="1.55"/><line x1="404.0" y1="326.9" x2="417.2" y2="331.8" stroke-width="1.61"/><line x1="697.5" y1="336.6" x2="732.9" y2="335.1" stroke-width="1.64"/><line x1="343.3" y1="305.5" x2="353.6" y2="308.4" stroke-width="1.17"/><line x1="497.0" y1="337.6" x2="506.7" y2="339.2" stroke-width="0.85"/><line x1="469.4" y1="353.1" x2="478.5" y2="354.3" stroke-width="1.11"/><line x1="220.6" y1="275.4" x2="235.4" y2="278.2" stroke-width="1.53"/><line x1="377.1" y1="341.6" x2="409.1" y2="353.3" stroke-width="1.73"/><line x1="598.4" y1="329.9" x2="610.5" y2="329.5" stroke-width="0.81"/><line x1="675.1" y1="331.6" x2="688.6" y2="330.6" stroke-width="0.96"/><line x1="657.7" y1="336.3" x2="672.2" y2="335.4" stroke-width="1.67"/><line x1="684.8" y1="330.7" x2="715.4" y2="330.3" stroke-width="0.97"/><line x1="710.7" y1="330.3" x2="741.3" y2="331.3" stroke-width="0.88"/><line x1="708.0" y1="319.8" x2="719.1" y2="319.8" stroke-width="1.03"/><line x1="546.7" y1="330.6" x2="566.9" y2="331.6" stroke-width="1.04"/><line x1="511.7" y1="312.0" x2="539.8" y2="315.9" stroke-width="1.37"/><line x1="716.0" y1="323.7" x2="734.1" y2="322.7" stroke-width="1.45"/><line x1="603.9" y1="337.2" x2="627.2" y2="337.1" stroke-width="1.34"/><line x1="521.9" y1="323.3" x2="542.1" y2="326.0" stroke-width="0.87"/><line x1="732.1" y1="331.5" x2="762.5" y2="330.0" stroke-width="1.18"/><line x1="516.9" y1="331.4" x2="529.3" y2="332.8" stroke-width="1.48"/><line x1="587.7" y1="339.2" x2="618.6" y2="336.2" stroke-width="1.21"/><line x1="542.6" y1="337.0" x2="554.4" y2="337.6" stroke-width="0.90"/><line x1="740.9" y1="314.1" x2="759.0" y2="314.3" stroke-width="0.95"/><line x1="718.6" y1="316.2" x2="746.8" y2="315.7" stroke-width="1.23"/><line x1="659.7" y1="332.4" x2="671.4" y2="330.8" stroke-width="1.54"/><line x1="570.2" y1="326.5" x2="594.8" y2="327.8" stroke-width="0.83"/><line x1="628.7" y1="332.7" x2="648.0" y2="332.1" stroke-width="0.88"/><line x1="572.9" y1="336.5" x2="607.9" y2="337.7" stroke-width="0.98"/><line x1="464.8" y1="320.5" x2="479.5" y2="322.8" stroke-width="1.59"/><line x1="682.7" y1="328.1" x2="705.2" y2="325.9" stroke-width="1.53"/><line x1="418.8" y1="299.5" x2="444.0" y2="306.4" stroke-width="1.64"/><line x1="436.9" y1="303.9" x2="452.5" y2="307.7" stroke-width="1.18"/><line x1="629.3" y1="330.4" x2="651.7" y2="329.9" stroke-width="1.60"/><line x1="743.7" y1="325.0" x2="766.0" y2="324.7" stroke-width="1.15"/><line x1="530.9" y1="335.8" x2="562.5" y2="337.4" stroke-width="0.92"/><line x1="453.3" y1="317.7" x2="482.9" y2="323.3" stroke-width="1.27"/><line x1="552.6" y1="333.2" x2="580.5" y2="334.7" stroke-width="1.57"/><line x1="703.6" y1="330.6" x2="738.2" y2="330.1" stroke-width="1.10"/><line x1="681.1" y1="325.3" x2="710.4" y2="322.6" stroke-width="1.55"/><line x1="714.0" y1="303.6" x2="726.0" y2="302.9" stroke-width="0.91"/><line x1="571.6" y1="338.6" x2="595.9" y2="340.2" stroke-width="1.68"/><line x1="435.5" y1="305.9" x2="449.2" y2="308.3" stroke-width="0.83"/><line x1="459.0" y1="317.6" x2="469.1" y2="319.1" stroke-width="0.99"/><line x1="656.5" y1="320.9" x2="678.7" y2="318.8" stroke-width="1.70"/><line x1="519.3" y1="324.6" x2="547.8" y2="328.4" stroke-width="1.07"/><line x1="651.8" y1="337.4" x2="684.1" y2="336.0" stroke-width="1.48"/><line x1="682.1" y1="330.4" x2="713.2" y2="330.7" stroke-width="1.17"/><line x1="652.9" y1="336.3" x2="671.0" y2="334.8" stroke-width="1.19"/><line x1="540.9" y1="326.9" x2="571.3" y2="327.4" stroke-width="1.56"/><line x1="533.6" y1="329.9" x2="565.4" y2="330.7" stroke-width="1.43"/><line x1="589.1" y1="322.7" x2="617.2" y2="321.9" stroke-width="1.01"/><line x1="421.1" y1="302.4" x2="454.4" y2="310.7" stroke-width="1.40"/><line x1="447.4" y1="305.0" x2="472.7" y2="308.6" stroke-width="1.00"/><line x1="444.5" y1="303.5" x2="476.6" y2="307.8" stroke-width="1.54"/><line x1="682.6" y1="330.1" x2="713.5" y2="328.1" stroke-width="1.10"/><line x1="470.0" y1="305.1" x2="495.9" y2="309.9" stroke-width="0.89"/><line x1="684.2" y1="330.9" x2="701.0" y2="329.8" stroke-width="0.97"/><line x1="715.2" y1="320.9" x2="745.7" y2="316.6" stroke-width="1.19"/><line x1="502.6" y1="327.4" x2="523.4" y2="329.5" stroke-width="1.25"/><line x1="696.2" y1="333.9" x2="713.7" y2="332.9" stroke-width="1.62"/><line x1="437.0" y1="313.4" x2="464.6" y2="316.0" stroke-width="1.68"/><line x1="746.8" y1="324.9" x2="760.4" y2="324.4" stroke-width="1.26"/><line x1="612.0" y1="334.8" x2="646.8" y2="334.0" stroke-width="1.08"/><line x1="659.0" y1="332.7" x2="694.3" y2="332.3" stroke-width="0.81"/><line x1="716.9" y1="333.1" x2="748.3" y2="330.0" stroke-width="1.47"/><line x1="658.0" y1="335.5" x2="689.6" y2="333.6" stroke-width="1.09"/><line x1="583.6" y1="334.7" x2="602.3" y2="336.3" stroke-width="1.18"/><line x1="516.5" y1="330.6" x2="534.6" y2="333.5" stroke-width="1.32"/><line x1="453.3" y1="312.4" x2="467.8" y2="315.4" stroke-width="1.05"/><line x1="452.2" y1="314.2" x2="473.6" y2="318.4" stroke-width="1.09"/><line x1="538.4" y1="320.0" x2="550.3" y2="320.9" stroke-width="0.92"/><line x1="716.4" y1="302.5" x2="746.3" y2="300.2" stroke-width="1.60"/><line x1="599.3" y1="327.9" x2="614.3" y2="327.2" stroke-width="1.58"/><line x1="735.6" y1="323.7" x2="764.4" y2="324.6" stroke-width="1.24"/><line x1="579.0" y1="330.3" x2="598.0" y2="329.5" stroke-width="1.18"/><line x1="578.8" y1="334.3" x2="614.2" y2="334.5" stroke-width="1.45"/><line x1="630.3" y1="336.0" x2="665.7" y2="332.8" stroke-width="1.05"/><line x1="528.8" y1="332.6" x2="554.1" y2="333.1" stroke-width="1.57"/><line x1="426.2" y1="304.9" x2="446.6" y2="309.4" stroke-width="1.27"/><line x1="535.9" y1="337.1" x2="554.0" y2="337.5" stroke-width="1.10"/><line x1="545.8" y1="333.8" x2="564.5" y2="335.5" stroke-width="1.13"/><line x1="556.7" y1="333.2" x2="590.1" y2="336.1" stroke-width="1.67"/><line x1="423.9" y1="276.3" x2="439.0" y2="280.0" stroke-width="0.84"/><line x1="698.7" y1="304.4" x2="726.5" y2="303.1" stroke-width="1.15"/><line x1="468.6" y1="318.3" x2="494.8" y2="324.2" stroke-width="0.83"/><line x1="478.4" y1="321.9" x2="493.4" y2="324.0" stroke-width="1.62"/><line x1="615.6" y1="332.6" x2="628.4" y2="332.7" stroke-width="1.58"/><line x1="745.4" y1="310.3" x2="771.2" y2="311.1" stroke-width="0.92"/><line x1="677.2" y1="324.4" x2="706.1" y2="321.2" stroke-width="0.87"/><line x1="467.6" y1="318.0" x2="485.7" y2="322.0" stroke-width="0.91"/><line x1="689.9" y1="314.7" x2="707.5" y2="313.7" stroke-width="1.12"/><line x1="543.6" y1="335.2" x2="559.3" y2="337.0" stroke-width="1.18"/><line x1="626.3" y1="308.2" x2="644.9" y2="308.1" stroke-width="1.06"/><line x1="484.9" y1="324.8" x2="501.8" y2="328.3" stroke-width="1.36"/><line x1="602.5" y1="339.8" x2="637.2" y2="341.1" stroke-width="1.30"/><line x1="734.5" y1="323.6" x2="749.1" y2="322.7" stroke-width="1.66"/><line x1="441.8" y1="311.0" x2="457.7" y2="314.1" stroke-width="0.89"/><line x1="682.9" y1="335.2" x2="709.5" y2="331.7" stroke-width="1.48"/><line x1="440.9" y1="309.1" x2="454.1" y2="311.5" stroke-width="0.95"/><line x1="466.5" y1="315.7" x2="491.1" y2="320.1" stroke-width="1.24"/><line x1="435.0" y1="312.3" x2="461.3" y2="316.3" stroke-width="1.35"/><line x1="739.1" y1="308.9" x2="770.8" y2="307.1" stroke-width="1.48"/><line x1="504.1" y1="317.4" x2="520.4" y2="320.6" stroke-width="0.81"/><line x1="677.1" y1="323.4" x2="708.4" y2="321.4" stroke-width="1.55"/><line x1="646.4" y1="326.7" x2="681.1" y2="327.1" stroke-width="1.63"/><line x1="588.5" y1="337.1" x2="615.9" y2="336.8" stroke-width="1.27"/><line x1="734.1" y1="324.2" x2="767.9" y2="323.9" stroke-width="1.32"/><line x1="651.3" y1="333.8" x2="663.4" y2="333.3" stroke-width="1.48"/><line x1="539.9" y1="334.6" x2="571.7" y2="335.5" stroke-width="1.55"/><line x1="687.1" y1="330.2" x2="713.3" y2="330.2" stroke-width="1.15"/><line x1="547.4" y1="326.3" x2="583.4" y2="326.2" stroke-width="1.13"/><line x1="626.9" y1="331.7" x2="647.5" y2="330.8" stroke-width="1.39"/><line x1="662.9" y1="333.1" x2="689.9" y2="330.3" stroke-width="1.59"/><line x1="618.5" y1="338.2" x2="649.6" y2="339.7" stroke-width="0.87"/><line x1="663.3" y1="335.5" x2="698.0" y2="334.1" stroke-width="1.18"/><line x1="637.9" y1="337.1" x2="664.5" y2="334.9" stroke-width="0.80"/><line x1="729.4" y1="330.4" x2="749.7" y2="328.7" stroke-width="1.52"/><line x1="551.6" y1="303.4" x2="562.4" y2="303.7" stroke-width="1.26"/><line x1="713.7" y1="332.1" x2="732.0" y2="332.4" stroke-width="0.87"/><line x1="626.3" y1="318.5" x2="659.8" y2="316.3" stroke-width="1.26"/><line x1="740.9" y1="330.0" x2="769.2" y2="329.5" stroke-width="1.62"/><line x1="625.1" y1="311.9" x2="636.4" y2="312.2" stroke-width="1.18"/><line x1="451.0" y1="314.3" x2="480.2" y2="318.8" stroke-width="1.33"/><line x1="511.4" y1="323.1" x2="533.0" y2="325.8" stroke-width="1.59"/><line x1="565.5" y1="333.3" x2="583.1" y2="334.5" stroke-width="0.92"/><line x1="743.6" y1="317.4" x2="753.8" y2="316.9" stroke-width="1.65"/><line x1="514.7" y1="328.5" x2="550.1" y2="334.2" stroke-width="1.12"/><line x1="474.6" y1="317.5" x2="494.3" y2="320.8" stroke-width="1.29"/><line x1="718.9" y1="300.0" x2="751.5" y2="298.3" stroke-width="1.15"/><line x1="594.6" y1="340.5" x2="626.7" y2="338.4" stroke-width="1.08"/><line x1="657.8" y1="329.7" x2="688.0" y2="327.8" stroke-width="1.56"/><line x1="652.1" y1="335.8" x2="668.6" y2="335.1" stroke-width="1.26"/><line x1="716.0" y1="320.3" x2="741.7" y2="320.2" stroke-width="1.68"/><line x1="733.3" y1="329.7" x2="760.6" y2="329.5" stroke-width="1.39"/><line x1="660.3" y1="337.1" x2="678.3" y2="336.8" stroke-width="1.38"/><line x1="454.1" y1="316.3" x2="468.7" y2="318.3" stroke-width="1.23"/><line x1="489.7" y1="324.5" x2="505.1" y2="327.4" stroke-width="0.90"/><line x1="677.4" y1="320.0" x2="691.5" y2="319.0" stroke-width="1.14"/><line x1="574.9" y1="331.0" x2="585.3" y2="331.8" stroke-width="1.43"/><line x1="450.9" y1="294.1" x2="470.5" y2="297.2" stroke-width="1.49"/><line x1="494.4" y1="317.3" x2="527.4" y2="323.5" stroke-width="0.82"/><line x1="552.0" y1="335.4" x2="572.6" y2="337.5" stroke-width="1.51"/><line x1="676.3" y1="317.2" x2="703.9" y2="315.3" stroke-width="0.88"/><line x1="422.1" y1="304.6" x2="455.0" y2="312.4" stroke-width="0.90"/><line x1="455.4" y1="314.8" x2="487.9" y2="321.5" stroke-width="1.57"/><line x1="723.9" y1="311.5" x2="757.9" y2="310.2" stroke-width="0.98"/><line x1="492.7" y1="328.9" x2="526.9" y2="332.6" stroke-width="1.37"/><line x1="513.2" y1="326.4" x2="534.5" y2="330.6" stroke-width="0.98"/><line x1="516.0" y1="330.7" x2="534.5" y2="334.3" stroke-width="1.67"/><line x1="420.5" y1="300.7" x2="449.5" y2="309.2" stroke-width="0.94"/><line x1="698.8" y1="330.6" x2="732.4" y2="329.6" stroke-width="1.69"/><line x1="583.7" y1="336.4" x2="609.4" y2="338.4" stroke-width="0.86"/><line x1="682.6" y1="292.0" x2="717.6" y2="289.8" stroke-width="1.32"/><line x1="479.8" y1="321.4" x2="508.9" y2="325.6" stroke-width="1.43"/><line x1="701.3" y1="327.7" x2="714.2" y2="326.4" stroke-width="0.83"/><line x1="514.1" y1="315.2" x2="525.1" y2="316.4" stroke-width="1.58"/><line x1="631.1" y1="335.1" x2="641.6" y2="335.1" stroke-width="0.91"/><line x1="547.3" y1="329.7" x2="568.3" y2="329.4" stroke-width="1.50"/><line x1="573.4" y1="311.2" x2="592.3" y2="312.0" stroke-width="1.12"/><line x1="702.0" y1="325.2" x2="733.3" y2="322.0" stroke-width="1.03"/><line x1="482.3" y1="324.9" x2="504.0" y2="328.2" stroke-width="1.06"/><line x1="729.8" y1="332.1" x2="760.2" y2="330.2" stroke-width="1.70"/><line x1="452.2" y1="304.6" x2="472.7" y2="307.4" stroke-width="0.84"/><line x1="485.2" y1="319.7" x2="519.5" y2="326.2" stroke-width="0.87"/><line x1="609.1" y1="340.4" x2="621.8" y2="339.5" stroke-width="1.27"/><line x1="720.0" y1="308.5" x2="734.2" y2="308.0" stroke-width="1.53"/><line x1="673.3" y1="317.3" x2="696.6" y2="314.2" stroke-width="1.17"/><line x1="607.0" y1="328.5" x2="626.0" y2="328.4" stroke-width="1.19"/><line x1="705.2" y1="327.8" x2="726.7" y2="326.9" stroke-width="1.15"/><line x1="706.0" y1="327.6" x2="718.6" y2="327.6" stroke-width="0.93"/><line x1="565.6" y1="335.1" x2="584.4" y2="336.9" stroke-width="1.61"/><line x1="662.8" y1="330.2" x2="696.0" y2="327.2" stroke-width="0.96"/><line x1="717.6" y1="330.6" x2="734.7" y2="329.5" stroke-width="0.93"/><line x1="743.3" y1="327.8" x2="753.3" y2="327.5" stroke-width="1.63"/><line x1="595.7" y1="333.5" x2="621.0" y2="332.6" stroke-width="1.32"/><line x1="648.5" y1="322.6" x2="660.6" y2="321.4" stroke-width="0.81"/><line x1="435.3" y1="311.1" x2="468.8" y2="315.7" stroke-width="1.34"/><line x1="328.7" y1="285.4" x2="332.6" y2="285.9" stroke-width="0.65"/><line x1="255.4" y1="202.3" x2="260.3" y2="201.4" stroke-width="0.51"/><line x1="749.6" y1="291.9" x2="752.6" y2="292.6" stroke-width="0.69"/><line x1="605.4" y1="271.5" x2="609.1" y2="272.0" stroke-width="0.66"/><line x1="742.4" y1="288.8" x2="746.5" y2="289.9" stroke-width="0.60"/><line x1="273.6" y1="239.2" x2="278.5" y2="238.6" stroke-width="0.58"/><line x1="788.5" y1="303.0" x2="793.9" y2="304.9" stroke-width="0.81"/><line x1="793.6" y1="313.3" x2="798.2" y2="314.4" stroke-width="0.77"/><line x1="127.6" y1="220.9" x2="135.4" y2="220.2" stroke-width="0.83"/><line x1="236.7" y1="275.6" x2="241.2" y2="276.4" stroke-width="0.64"/><line x1="355.4" y1="195.8" x2="362.6" y2="196.0" stroke-width="0.58"/><line x1="502.9" y1="315.7" x2="507.8" y2="316.6" stroke-width="0.60"/><line x1="440.9" y1="236.5" x2="448.1" y2="237.7" stroke-width="0.51"/><line x1="759.3" y1="284.7" x2="765.0" y2="286.8" stroke-width="0.63"/><line x1="780.9" y1="300.8" x2="784.9" y2="302.1" stroke-width="0.86"/></g>
<g fill="none" stroke="#0072BD" stroke-width="1.05"><path d="M95.0,220.0C100.8 219.5 118.3 218.2 130.0 216.9C141.7 215.6 153.3 214.1 165.0 212.2C176.7 210.4 188.3 208.4 200.0 205.7C211.7 203.0 223.3 199.3 235.0 196.0C246.7 192.8 258.3 189.3 270.0 186.1C281.7 182.9 293.3 179.4 305.0 177.0C316.7 174.5 328.3 173.0 340.0 171.2C351.7 169.4 363.3 167.6 375.0 166.2C386.7 164.8 398.3 163.1 410.0 162.6C421.7 162.0 433.3 162.5 445.0 162.9C456.7 163.3 468.3 163.5 480.0 164.9C491.7 166.2 503.3 168.9 515.0 171.0C526.7 173.1 538.3 175.0 550.0 177.4C561.7 179.8 573.3 182.6 585.0 185.3C596.7 188.1 608.3 191.1 620.0 194.1C631.7 197.2 643.3 200.1 655.0 203.6C666.7 207.1 678.3 210.6 690.0 215.1C701.7 219.6 713.3 224.9 725.0 230.4C736.7 235.9 748.3 241.9 760.0 248.2C771.7 254.4 783.3 261.1 795.0 267.9C806.7 274.7 818.3 284.4 830.0 288.9C841.7 293.3 859.2 293.5 865.0 294.5"/><path d="M95.0,221.0C100.8 220.5 118.3 219.2 130.0 217.9C141.7 216.6 153.3 215.1 165.0 213.3C176.7 211.4 188.3 209.2 200.0 206.6C211.7 204.0 223.3 200.7 235.0 197.6C246.7 194.6 258.3 191.3 270.0 188.4C281.7 185.5 293.3 182.1 305.0 180.2C316.7 178.3 328.3 177.9 340.0 177.0C351.7 176.2 363.3 175.4 375.0 174.9C386.7 174.5 398.3 174.2 410.0 174.2C421.7 174.2 433.3 174.6 445.0 174.9C456.7 175.2 468.3 175.4 480.0 176.1C491.7 176.9 503.3 178.2 515.0 179.6C526.7 180.9 538.3 182.1 550.0 184.1C561.7 186.0 573.3 188.7 585.0 191.4C596.7 194.0 608.3 197.0 620.0 200.0C631.7 203.1 643.3 206.1 655.0 209.8C666.7 213.5 678.3 217.4 690.0 222.1C701.7 226.8 713.3 232.3 725.0 237.9C736.7 243.5 748.3 249.7 760.0 255.9C771.7 262.1 783.3 268.9 795.0 275.2C806.7 281.5 818.3 289.7 830.0 293.7C841.7 297.7 859.2 298.1 865.0 299.0"/><path d="M95.0,221.6C100.8 221.1 118.3 220.0 130.0 218.9C141.7 217.7 153.3 216.4 165.0 214.6C176.7 212.8 188.3 210.7 200.0 208.2C211.7 205.7 223.3 202.5 235.0 199.6C246.7 196.7 258.3 193.5 270.0 190.7C281.7 187.9 293.3 184.6 305.0 182.8C316.7 181.0 328.3 180.7 340.0 179.9C351.7 179.0 363.3 178.3 375.0 177.8C386.7 177.3 398.3 176.9 410.0 176.8C421.7 176.7 433.3 176.8 445.0 176.9C456.7 177.0 468.3 176.9 480.0 177.4C491.7 178.0 503.3 179.1 515.0 180.3C526.7 181.4 538.3 182.4 550.0 184.1C561.7 185.9 573.3 188.3 585.0 190.6C596.7 192.9 608.3 195.5 620.0 198.1C631.7 200.8 643.3 203.4 655.0 206.7C666.7 209.9 678.3 213.3 690.0 217.6C701.7 221.9 713.3 227.2 725.0 232.7C736.7 238.2 748.3 244.3 760.0 250.6C771.7 256.9 783.3 263.8 795.0 270.6C806.7 277.3 818.3 286.6 830.0 290.9C841.7 295.2 859.2 295.6 865.0 296.6"/><path d="M95.0,219.1C100.8 218.5 118.3 217.0 130.0 215.6C141.7 214.2 153.3 212.7 165.0 210.8C176.7 208.9 188.3 206.9 200.0 204.2C211.7 201.4 223.3 197.7 235.0 194.3C246.7 191.0 258.3 187.5 270.0 184.2C281.7 181.0 293.3 177.4 305.0 174.8C316.7 172.3 328.3 170.7 340.0 168.9C351.7 167.1 363.3 165.3 375.0 163.8C386.7 162.2 398.3 160.6 410.0 159.7C421.7 158.8 433.3 158.7 445.0 158.5C456.7 158.3 468.3 157.7 480.0 158.5C491.7 159.3 503.3 161.5 515.0 163.1C526.7 164.7 538.3 166.3 550.0 168.2C561.7 170.0 573.3 172.0 585.0 174.1C596.7 176.2 608.3 178.4 620.0 180.8C631.7 183.2 643.3 185.5 655.0 188.4C666.7 191.3 678.3 193.9 690.0 198.3C701.7 202.6 713.3 208.3 725.0 214.4C736.7 220.4 748.3 227.3 760.0 234.7C771.7 242.1 783.3 250.2 795.0 258.5C806.7 266.8 818.3 278.9 830.0 284.6C841.7 290.2 859.2 291.0 865.0 292.3"/><path d="M95.0,222.0C100.8 221.6 118.3 220.6 130.0 219.5C141.7 218.4 153.3 217.1 165.0 215.3C176.7 213.6 188.3 211.4 200.0 209.0C211.7 206.6 223.3 203.6 235.0 200.8C246.7 198.0 258.3 195.0 270.0 192.4C281.7 189.7 293.3 186.5 305.0 185.0C316.7 183.4 328.3 183.6 340.0 183.2C351.7 182.8 363.3 182.5 375.0 182.5C386.7 182.5 398.3 182.8 410.0 183.1C421.7 183.4 433.3 183.7 445.0 184.1C456.7 184.5 468.3 184.7 480.0 185.3C491.7 185.8 503.3 186.6 515.0 187.6C526.7 188.6 538.3 189.5 550.0 191.2C561.7 193.0 573.3 195.6 585.0 198.1C596.7 200.6 608.3 203.3 620.0 206.1C631.7 208.9 643.3 211.6 655.0 215.0C666.7 218.3 678.3 222.0 690.0 226.3C701.7 230.5 713.3 235.4 725.0 240.6C736.7 245.7 748.3 251.3 760.0 257.1C771.7 262.9 783.3 269.2 795.0 275.2C806.7 281.2 818.3 289.4 830.0 293.2C841.7 297.0 859.2 297.2 865.0 298.0"/><path d="M95.0,220.1C100.8 219.6 118.3 218.4 130.0 217.2C141.7 215.9 153.3 214.5 165.0 212.7C176.7 210.9 188.3 209.0 200.0 206.4C211.7 203.8 223.3 200.3 235.0 197.1C246.7 194.0 258.3 190.6 270.0 187.5C281.7 184.4 293.3 180.9 305.0 178.6C316.7 176.2 328.3 175.0 340.0 173.5C351.7 171.9 363.3 170.4 375.0 169.2C386.7 168.0 398.3 166.7 410.0 166.2C421.7 165.6 433.3 165.8 445.0 165.8C456.7 165.9 468.3 165.7 480.0 166.7C491.7 167.6 503.3 169.8 515.0 171.5C526.7 173.2 538.3 174.9 550.0 176.9C561.7 179.0 573.3 181.4 585.0 183.9C596.7 186.4 608.3 189.1 620.0 192.0C631.7 194.8 643.3 197.7 655.0 201.1C666.7 204.6 678.3 208.1 690.0 212.7C701.7 217.3 713.3 223.1 725.0 229.0C736.7 234.9 748.3 241.4 760.0 248.1C771.7 254.7 783.3 262.0 795.0 269.1C806.7 276.1 818.3 285.7 830.0 290.2C841.7 294.7 859.2 295.0 865.0 296.0"/><path d="M95.0,221.2C100.8 220.7 118.3 219.6 130.0 218.3C141.7 217.1 153.3 215.7 165.0 213.8C176.7 212.0 188.3 209.9 200.0 207.3C211.7 204.7 223.3 201.4 235.0 198.4C246.7 195.4 258.3 192.1 270.0 189.2C281.7 186.3 293.3 182.9 305.0 180.9C316.7 178.9 328.3 178.4 340.0 177.3C351.7 176.3 363.3 175.3 375.0 174.5C386.7 173.8 398.3 173.1 410.0 172.8C421.7 172.4 433.3 172.5 445.0 172.4C456.7 172.4 468.3 172.2 480.0 172.7C491.7 173.3 503.3 174.6 515.0 175.8C526.7 177.0 538.3 178.2 550.0 179.9C561.7 181.6 573.3 183.9 585.0 186.1C596.7 188.3 608.3 190.8 620.0 193.3C631.7 195.9 643.3 198.4 655.0 201.5C666.7 204.6 678.3 207.8 690.0 212.1C701.7 216.4 713.3 221.7 725.0 227.4C736.7 233.0 748.3 239.3 760.0 245.9C771.7 252.5 783.3 259.8 795.0 267.0C806.7 274.2 818.3 284.3 830.0 289.0C841.7 293.7 859.2 294.3 865.0 295.3"/><path d="M95.0,220.0C100.8 219.6 118.3 218.4 130.0 217.2C141.7 216.0 153.3 214.6 165.0 212.8C176.7 211.1 188.3 209.1 200.0 206.6C211.7 204.1 223.3 200.8 235.0 197.8C246.7 194.9 258.3 191.7 270.0 188.9C281.7 186.1 293.3 182.8 305.0 181.0C316.7 179.2 328.3 178.9 340.0 178.2C351.7 177.4 363.3 176.9 375.0 176.7C386.7 176.5 398.3 176.7 410.0 177.0C421.7 177.4 433.3 178.1 445.0 178.8C456.7 179.5 468.3 180.1 480.0 181.1C491.7 182.1 503.3 183.5 515.0 184.9C526.7 186.3 538.3 187.5 550.0 189.6C561.7 191.6 573.3 194.5 585.0 197.2C596.7 200.0 608.3 202.9 620.0 206.0C631.7 209.1 643.3 212.0 655.0 215.6C666.7 219.2 678.3 223.1 690.0 227.4C701.7 231.8 713.3 236.8 725.0 241.9C736.7 247.0 748.3 252.6 760.0 258.2C771.7 263.9 783.3 270.0 795.0 275.8C806.7 281.7 818.3 289.6 830.0 293.3C841.7 297.0 859.2 297.1 865.0 297.9"/><path d="M95.0,221.8C100.8 221.4 118.3 220.3 130.0 219.2C141.7 218.0 153.3 216.7 165.0 214.9C176.7 213.1 188.3 211.0 200.0 208.5C211.7 206.0 223.3 203.0 235.0 200.1C246.7 197.3 258.3 194.3 270.0 191.6C281.7 188.9 293.3 185.6 305.0 184.0C316.7 182.4 328.3 182.5 340.0 182.0C351.7 181.5 363.3 181.2 375.0 181.0C386.7 180.9 398.3 181.2 410.0 181.4C421.7 181.6 433.3 181.9 445.0 182.3C456.7 182.6 468.3 182.7 480.0 183.3C491.7 183.9 503.3 184.7 515.0 185.7C526.7 186.8 538.3 187.7 550.0 189.4C561.7 191.2 573.3 193.8 585.0 196.3C596.7 198.9 608.3 201.6 620.0 204.5C631.7 207.4 643.3 210.2 655.0 213.7C666.7 217.2 678.3 220.9 690.0 225.3C701.7 229.7 713.3 234.8 725.0 240.1C736.7 245.4 748.3 251.2 760.0 257.0C771.7 262.9 783.3 269.4 795.0 275.4C806.7 281.5 818.3 289.6 830.0 293.5C841.7 297.3 859.2 297.6 865.0 298.4"/><path d="M95.0,222.0C100.8 221.5 118.3 220.2 130.0 218.9C141.7 217.6 153.3 216.2 165.0 214.2C176.7 212.3 188.3 210.0 200.0 207.4C211.7 204.8 223.3 201.6 235.0 198.7C246.7 195.7 258.3 192.4 270.0 189.6C281.7 186.7 293.3 183.2 305.0 181.3C316.7 179.4 328.3 179.2 340.0 178.3C351.7 177.4 363.3 176.5 375.0 175.8C386.7 175.1 398.3 174.5 410.0 174.1C421.7 173.6 433.3 173.3 445.0 173.0C456.7 172.7 468.3 172.0 480.0 172.2C491.7 172.4 503.3 173.3 515.0 174.1C526.7 175.0 538.3 175.9 550.0 177.3C561.7 178.8 573.3 180.8 585.0 182.9C596.7 184.9 608.3 187.1 620.0 189.5C631.7 191.9 643.3 194.2 655.0 197.2C666.7 200.2 678.3 203.2 690.0 207.5C701.7 211.8 713.3 217.3 725.0 223.1C736.7 228.9 748.3 235.6 760.0 242.5C771.7 249.5 783.3 257.2 795.0 264.8C806.7 272.4 818.3 283.2 830.0 288.3C841.7 293.3 859.2 294.2 865.0 295.4"/><path d="M95.0,219.0C100.8 218.5 118.3 217.0 130.0 215.7C141.7 214.4 153.3 212.9 165.0 211.1C176.7 209.3 188.3 207.3 200.0 204.7C211.7 202.0 223.3 198.3 235.0 195.0C246.7 191.7 258.3 188.3 270.0 185.1C281.7 181.9 293.3 178.4 305.0 175.9C316.7 173.4 328.3 172.0 340.0 170.2C351.7 168.5 363.3 166.9 375.0 165.5C386.7 164.0 398.3 162.5 410.0 161.8C421.7 161.0 433.3 161.1 445.0 161.0C456.7 160.9 468.3 160.4 480.0 161.3C491.7 162.1 503.3 164.3 515.0 165.9C526.7 167.5 538.3 169.1 550.0 170.9C561.7 172.7 573.3 174.8 585.0 176.9C596.7 179.0 608.3 181.2 620.0 183.5C631.7 185.9 643.3 188.1 655.0 191.0C666.7 193.8 678.3 196.4 690.0 200.6C701.7 204.8 713.3 210.4 725.0 216.2C736.7 222.1 748.3 228.8 760.0 236.0C771.7 243.1 783.3 251.1 795.0 259.2C806.7 267.3 818.3 279.2 830.0 284.7C841.7 290.2 859.2 290.9 865.0 292.2"/><path d="M95.0,221.5C100.8 221.0 118.3 219.7 130.0 218.3C141.7 217.0 153.3 215.5 165.0 213.6C176.7 211.7 188.3 209.4 200.0 206.8C211.7 204.2 223.3 200.9 235.0 197.9C246.7 194.9 258.3 191.6 270.0 188.8C281.7 185.9 293.3 182.5 305.0 180.7C316.7 178.9 328.3 178.7 340.0 178.0C351.7 177.3 363.3 176.7 375.0 176.3C386.7 176.0 398.3 175.9 410.0 176.0C421.7 176.0 433.3 176.3 445.0 176.5C456.7 176.7 468.3 176.8 480.0 177.4C491.7 178.0 503.3 179.0 515.0 180.1C526.7 181.3 538.3 182.3 550.0 184.1C561.7 185.9 573.3 188.5 585.0 191.1C596.7 193.6 608.3 196.4 620.0 199.3C631.7 202.2 643.3 205.0 655.0 208.5C666.7 212.0 678.3 215.7 690.0 220.2C701.7 224.7 713.3 230.0 725.0 235.5C736.7 241.0 748.3 247.0 760.0 253.2C771.7 259.4 783.3 266.2 795.0 272.7C806.7 279.2 818.3 288.0 830.0 292.2C841.7 296.4 859.2 297.0 865.0 297.9"/><path d="M95.0,219.8C100.8 219.3 118.3 218.1 130.0 216.9C141.7 215.7 153.3 214.4 165.0 212.7C176.7 210.9 188.3 209.0 200.0 206.5C211.7 204.0 223.3 200.7 235.0 197.7C246.7 194.8 258.3 191.6 270.0 188.8C281.7 186.0 293.3 182.7 305.0 180.8C316.7 179.0 328.3 178.6 340.0 177.7C351.7 176.9 363.3 176.2 375.0 175.8C386.7 175.3 398.3 175.1 410.0 175.1C421.7 175.1 433.3 175.4 445.0 175.6C456.7 175.9 468.3 175.8 480.0 176.4C491.7 177.1 503.3 178.2 515.0 179.3C526.7 180.4 538.3 181.4 550.0 183.0C561.7 184.6 573.3 186.8 585.0 188.9C596.7 191.0 608.3 193.3 620.0 195.6C631.7 197.9 643.3 200.1 655.0 202.9C666.7 205.7 678.3 208.4 690.0 212.3C701.7 216.2 713.3 221.0 725.0 226.3C736.7 231.5 748.3 237.4 760.0 243.8C771.7 250.2 783.3 257.3 795.0 264.5C806.7 271.8 818.3 282.4 830.0 287.3C841.7 292.1 859.2 292.7 865.0 293.8"/><path d="M95.0,219.4C100.8 218.9 118.3 217.6 130.0 216.3C141.7 215.0 153.3 213.6 165.0 211.8C176.7 210.0 188.3 208.0 200.0 205.4C211.7 202.8 223.3 199.2 235.0 196.1C246.7 193.0 258.3 189.6 270.0 186.5C281.7 183.5 293.3 180.0 305.0 177.8C316.7 175.6 328.3 174.5 340.0 173.1C351.7 171.7 363.3 170.4 375.0 169.4C386.7 168.3 398.3 167.2 410.0 166.7C421.7 166.2 433.3 166.2 445.0 166.2C456.7 166.2 468.3 165.8 480.0 166.5C491.7 167.2 503.3 169.0 515.0 170.3C526.7 171.7 538.3 173.0 550.0 174.8C561.7 176.5 573.3 178.5 585.0 180.6C596.7 182.7 608.3 184.9 620.0 187.2C631.7 189.6 643.3 191.8 655.0 194.6C666.7 197.4 678.3 200.1 690.0 204.2C701.7 208.3 713.3 213.7 725.0 219.4C736.7 225.1 748.3 231.6 760.0 238.5C771.7 245.5 783.3 253.2 795.0 261.0C806.7 268.9 818.3 280.4 830.0 285.7C841.7 291.0 859.2 291.7 865.0 292.9"/><path d="M250.0,193.5C255.8 192.1 273.3 187.2 285.0 184.9C296.7 182.6 308.3 180.9 320.0 179.5C331.7 178.1 343.3 177.2 355.0 176.7C366.7 176.2 378.3 176.3 390.0 176.4C401.7 176.5 413.3 176.6 425.0 177.2C436.7 177.8 448.3 178.9 460.0 180.1C471.7 181.3 483.3 182.7 495.0 184.4C506.7 186.1 518.3 188.1 530.0 190.4C541.7 192.7 553.3 195.5 565.0 198.2C576.7 200.9 588.3 203.9 600.0 206.6C611.7 209.4 623.3 212.0 635.0 214.8C646.7 217.6 658.3 220.3 670.0 223.5C681.7 226.7 693.3 229.9 705.0 233.9C716.7 237.9 728.3 242.2 740.0 247.5C751.7 252.8 763.3 259.3 775.0 265.6C786.7 271.9 798.3 279.3 810.0 285.2C821.7 291.1 839.2 298.4 845.0 301.0"/><path d="M250.0,197.4C255.8 196.3 273.3 192.5 285.0 191.1C296.7 189.7 308.3 189.1 320.0 189.0C331.7 188.8 343.3 189.2 355.0 190.1C366.7 191.0 378.3 192.8 390.0 194.3C401.7 195.8 413.3 197.6 425.0 199.2C436.7 200.9 448.3 202.4 460.0 204.1C471.7 205.8 483.3 207.5 495.0 209.4C506.7 211.2 518.3 212.8 530.0 215.1C541.7 217.5 553.3 220.5 565.0 223.4C576.7 226.3 588.3 229.7 600.0 232.4C611.7 235.2 623.3 237.5 635.0 240.0C646.7 242.5 658.3 244.9 670.0 247.4C681.7 250.0 693.3 252.4 705.0 255.4C716.7 258.4 728.3 261.0 740.0 265.2C751.7 269.3 763.3 275.0 775.0 280.1C786.7 285.3 798.3 291.6 810.0 296.1C821.7 300.5 839.2 305.1 845.0 306.9"/><path d="M250.0,196.0C255.8 194.7 273.3 190.2 285.0 188.1C296.7 185.9 308.3 184.4 320.0 183.0C331.7 181.6 343.3 180.5 355.0 179.6C366.7 178.7 378.3 178.2 390.0 177.5C401.7 176.8 413.3 175.7 425.0 175.2C436.7 174.7 448.3 174.5 460.0 174.6C471.7 174.7 483.3 175.0 495.0 175.9C506.7 176.7 518.3 178.2 530.0 179.9C541.7 181.7 553.3 183.9 565.0 186.3C576.7 188.6 588.3 191.3 600.0 194.2C611.7 197.1 623.3 200.1 635.0 203.6C646.7 207.0 658.3 210.6 670.0 214.7C681.7 218.9 693.3 223.4 705.0 228.6C716.7 233.7 728.3 239.5 740.0 245.9C751.7 252.2 763.3 259.7 775.0 266.7C786.7 273.7 798.3 281.8 810.0 287.9C821.7 294.0 839.2 300.8 845.0 303.4"/><path d="M250.0,191.6C255.8 190.0 273.3 184.9 285.0 182.2C296.7 179.5 308.3 177.2 320.0 175.2C331.7 173.2 343.3 171.5 355.0 170.0C366.7 168.5 378.3 167.4 390.0 166.3C401.7 165.3 413.3 163.9 425.0 163.5C436.7 163.0 448.3 163.4 460.0 163.8C471.7 164.2 483.3 164.8 495.0 166.0C506.7 167.1 518.3 168.9 530.0 170.7C541.7 172.4 553.3 174.4 565.0 176.3C576.7 178.2 588.3 180.1 600.0 182.3C611.7 184.4 623.3 186.7 635.0 189.3C646.7 191.8 658.3 194.3 670.0 197.6C681.7 201.0 693.3 204.5 705.0 209.3C716.7 214.2 728.3 220.3 740.0 226.7C751.7 233.1 763.3 240.3 775.0 247.8C786.7 255.3 798.3 264.0 810.0 271.5C821.7 279.1 839.2 289.5 845.0 293.1"/><path d="M250.0,191.1C255.8 189.4 273.3 184.0 285.0 181.0C296.7 178.0 308.3 175.5 320.0 173.1C331.7 170.8 343.3 168.8 355.0 167.0C366.7 165.2 378.3 163.8 390.0 162.4C401.7 161.0 413.3 159.3 425.0 158.7C436.7 158.1 448.3 158.3 460.0 158.6C471.7 158.9 483.3 159.4 495.0 160.5C506.7 161.7 518.3 163.5 530.0 165.3C541.7 167.0 553.3 169.0 565.0 170.9C576.7 172.9 588.3 174.8 600.0 177.0C611.7 179.2 623.3 181.6 635.0 184.3C646.7 187.0 658.3 189.6 670.0 193.1C681.7 196.7 693.3 200.3 705.0 205.4C716.7 210.5 728.3 217.0 740.0 223.6C751.7 230.3 763.3 237.7 775.0 245.5C786.7 253.2 798.3 262.1 810.0 270.0C821.7 277.8 839.2 288.7 845.0 292.5"/><path d="M250.0,195.0C255.8 193.7 273.3 189.0 285.0 186.9C296.7 184.7 308.3 183.3 320.0 182.1C331.7 181.0 343.3 180.3 355.0 180.0C366.7 179.7 378.3 180.1 390.0 180.3C401.7 180.5 413.3 180.7 425.0 181.1C436.7 181.6 448.3 182.3 460.0 183.1C471.7 183.9 483.3 184.8 495.0 186.1C506.7 187.3 518.3 188.7 530.0 190.5C541.7 192.2 553.3 194.5 565.0 196.7C576.7 198.9 588.3 201.3 600.0 203.6C611.7 205.9 623.3 208.1 635.0 210.6C646.7 213.0 658.3 215.5 670.0 218.5C681.7 221.6 693.3 224.8 705.0 228.9C716.7 233.1 728.3 237.9 740.0 243.6C751.7 249.2 763.3 256.1 775.0 262.8C786.7 269.5 798.3 277.5 810.0 283.8C821.7 290.2 839.2 298.0 845.0 300.9"/><path d="M250.0,191.0C255.8 189.5 273.3 184.5 285.0 182.1C296.7 179.7 308.3 177.8 320.0 176.3C331.7 174.9 343.3 173.9 355.0 173.5C366.7 173.0 378.3 173.3 390.0 173.7C401.7 174.1 413.3 174.7 425.0 175.9C436.7 177.2 448.3 179.1 460.0 181.0C471.7 182.9 483.3 185.1 495.0 187.4C506.7 189.8 518.3 192.3 530.0 195.0C541.7 197.7 553.3 200.8 565.0 203.7C576.7 206.6 588.3 209.7 600.0 212.3C611.7 215.0 623.3 217.2 635.0 219.6C646.7 221.9 658.3 223.9 670.0 226.3C681.7 228.7 693.3 230.9 705.0 234.0C716.7 237.1 728.3 240.6 740.0 245.1C751.7 249.5 763.3 255.1 775.0 260.8C786.7 266.5 798.3 273.3 810.0 279.2C821.7 285.0 839.2 293.2 845.0 295.9"/><path d="M250.0,197.8C255.8 196.6 273.3 192.3 285.0 190.5C296.7 188.8 308.3 187.9 320.0 187.4C331.7 186.8 343.3 186.9 355.0 187.4C366.7 187.9 378.3 189.3 390.0 190.3C401.7 191.4 413.3 192.6 425.0 193.8C436.7 194.9 448.3 195.9 460.0 197.1C471.7 198.2 483.3 199.5 495.0 200.9C506.7 202.3 518.3 203.5 530.0 205.5C541.7 207.5 553.3 210.2 565.0 212.7C576.7 215.3 588.3 218.4 600.0 220.9C611.7 223.5 623.3 225.7 635.0 228.2C646.7 230.7 658.3 233.1 670.0 235.8C681.7 238.6 693.3 241.3 705.0 244.7C716.7 248.2 728.3 251.6 740.0 256.4C751.7 261.1 763.3 267.4 775.0 273.3C786.7 279.1 798.3 286.2 810.0 291.6C821.7 296.9 839.2 302.9 845.0 305.2"/><path d="M250.0,192.3C255.8 190.7 273.3 185.7 285.0 183.1C296.7 180.5 308.3 178.5 320.0 176.6C331.7 174.8 343.3 173.3 355.0 172.1C366.7 170.8 378.3 170.1 390.0 169.3C401.7 168.5 413.3 167.5 425.0 167.4C436.7 167.2 448.3 167.7 460.0 168.3C471.7 168.9 483.3 169.7 495.0 171.0C506.7 172.3 518.3 174.2 530.0 176.1C541.7 177.9 553.3 180.2 565.0 182.3C576.7 184.5 588.3 186.7 600.0 189.1C611.7 191.5 623.3 193.9 635.0 196.6C646.7 199.3 658.3 202.0 670.0 205.4C681.7 208.8 693.3 212.3 705.0 217.0C716.7 221.7 728.3 227.4 740.0 233.6C751.7 239.8 763.3 246.9 775.0 254.1C786.7 261.3 798.3 269.7 810.0 276.7C821.7 283.7 839.2 293.0 845.0 296.3"/><path d="M250.0,192.3C255.8 190.7 273.3 185.5 285.0 182.7C296.7 179.9 308.3 177.7 320.0 175.6C331.7 173.5 343.3 171.7 355.0 170.1C366.7 168.5 378.3 167.3 390.0 166.1C401.7 164.9 413.3 163.3 425.0 162.7C436.7 162.1 448.3 162.2 460.0 162.4C471.7 162.7 483.3 163.1 495.0 164.1C506.7 165.1 518.3 166.8 530.0 168.4C541.7 170.0 553.3 171.9 565.0 173.7C576.7 175.6 588.3 177.4 600.0 179.5C611.7 181.7 623.3 184.0 635.0 186.6C646.7 189.2 658.3 191.7 670.0 195.2C681.7 198.6 693.3 202.3 705.0 207.3C716.7 212.3 728.3 218.7 740.0 225.4C751.7 232.0 763.3 239.4 775.0 247.1C786.7 254.8 798.3 263.7 810.0 271.4C821.7 279.1 839.2 289.7 845.0 293.4"/><path d="M250.0,195.8C255.8 194.7 273.3 190.5 285.0 188.7C296.7 186.9 308.3 185.9 320.0 185.1C331.7 184.3 343.3 184.0 355.0 184.0C366.7 183.9 378.3 184.6 390.0 184.9C401.7 185.2 413.3 185.4 425.0 185.8C436.7 186.1 448.3 186.5 460.0 187.0C471.7 187.4 483.3 187.9 495.0 188.6C506.7 189.3 518.3 190.2 530.0 191.3C541.7 192.5 553.3 194.0 565.0 195.4C576.7 196.8 588.3 198.3 600.0 199.7C611.7 201.2 623.3 202.4 635.0 204.0C646.7 205.6 658.3 207.0 670.0 209.3C681.7 211.6 693.3 214.0 705.0 217.8C716.7 221.5 728.3 226.4 740.0 232.0C751.7 237.5 763.3 244.1 775.0 251.0C786.7 257.9 798.3 266.1 810.0 273.2C821.7 280.3 839.2 290.3 845.0 293.8"/><path d="M250.0,198.9C255.8 197.9 273.3 194.2 285.0 192.8C296.7 191.4 308.3 190.9 320.0 190.6C331.7 190.4 343.3 190.6 355.0 191.2C366.7 191.8 378.3 193.3 390.0 194.3C401.7 195.4 413.3 196.6 425.0 197.8C436.7 198.9 448.3 200.0 460.0 201.3C471.7 202.7 483.3 204.2 495.0 205.9C506.7 207.7 518.3 209.3 530.0 211.8C541.7 214.2 553.3 217.4 565.0 220.6C576.7 223.8 588.3 227.5 600.0 230.8C611.7 234.0 623.3 237.0 635.0 240.1C646.7 243.3 658.3 246.4 670.0 249.6C681.7 252.8 693.3 256.1 705.0 259.4C716.7 262.7 728.3 265.4 740.0 269.6C751.7 273.8 763.3 279.7 775.0 284.8C786.7 290.0 798.3 296.3 810.0 300.5C821.7 304.7 839.2 308.3 845.0 309.9"/><path d="M250.0,198.8C255.8 197.8 273.3 194.0 285.0 192.6C296.7 191.2 308.3 190.7 320.0 190.6C331.7 190.5 343.3 190.9 355.0 191.7C366.7 192.6 378.3 194.4 390.0 195.9C401.7 197.3 413.3 199.0 425.0 200.4C436.7 201.9 448.3 203.1 460.0 204.5C471.7 205.9 483.3 207.4 495.0 209.1C506.7 210.7 518.3 212.1 530.0 214.3C541.7 216.6 553.3 219.6 565.0 222.5C576.7 225.4 588.3 228.9 600.0 231.8C611.7 234.7 623.3 237.3 635.0 240.0C646.7 242.8 658.3 245.5 670.0 248.4C681.7 251.3 693.3 254.1 705.0 257.4C716.7 260.6 728.3 263.5 740.0 267.9C751.7 272.3 763.3 278.3 775.0 283.7C786.7 289.0 798.3 295.6 810.0 300.0C821.7 304.4 839.2 308.3 845.0 310.0"/><path d="M250.0,198.8C255.8 197.7 273.3 193.7 285.0 192.2C296.7 190.7 308.3 190.1 320.0 189.8C331.7 189.4 343.3 189.7 355.0 190.1C366.7 190.6 378.3 191.9 390.0 192.7C401.7 193.4 413.3 194.1 425.0 194.5C436.7 194.9 448.3 195.0 460.0 195.2C471.7 195.5 483.3 195.6 495.0 195.9C506.7 196.3 518.3 196.6 530.0 197.4C541.7 198.3 553.3 199.7 565.0 200.9C576.7 202.2 588.3 203.7 600.0 205.1C611.7 206.5 623.3 207.7 635.0 209.3C646.7 211.0 658.3 212.6 670.0 215.0C681.7 217.5 693.3 220.1 705.0 224.0C716.7 227.9 728.3 232.8 740.0 238.5C751.7 244.1 763.3 251.1 775.0 258.1C786.7 265.1 798.3 273.5 810.0 280.3C821.7 287.2 839.2 296.0 845.0 299.1"/><path d="M250.0,196.1C255.8 194.8 273.3 190.5 285.0 188.6C296.7 186.6 308.3 185.4 320.0 184.4C331.7 183.5 343.3 183.0 355.0 182.9C366.7 182.7 378.3 183.3 390.0 183.6C401.7 184.0 413.3 184.4 425.0 185.1C436.7 185.8 448.3 186.7 460.0 187.8C471.7 188.9 483.3 190.2 495.0 191.7C506.7 193.3 518.3 195.1 530.0 197.3C541.7 199.5 553.3 202.3 565.0 205.1C576.7 207.9 588.3 211.0 600.0 213.9C611.7 216.8 623.3 219.4 635.0 222.4C646.7 225.3 658.3 228.1 670.0 231.4C681.7 234.6 693.3 237.9 705.0 241.8C716.7 245.7 728.3 249.7 740.0 254.8C751.7 259.9 763.3 266.4 775.0 272.4C786.7 278.4 798.3 285.6 810.0 290.9C821.7 296.2 839.2 302.2 845.0 304.4"/><path d="M95.0,219.0C104.2 218.2 131.7 216.7 150.0 214.0C168.3 211.3 188.3 207.2 205.0 203.0C221.7 198.8 234.2 193.7 250.0 189.0C265.8 184.3 283.3 179.5 300.0 175.0C316.7 170.5 332.2 166.0 350.0 162.0C367.8 158.0 390.3 153.3 407.0 151.0C423.7 148.7 434.8 148.7 450.0 148.0C465.2 147.3 480.8 146.2 498.0 146.7C515.2 147.2 536.0 148.8 553.0 151.0C570.0 153.2 585.5 156.2 600.0 160.0C614.5 163.8 626.7 168.3 640.0 174.0C653.3 179.7 670.0 189.0 680.0 194.0C690.0 199.0 692.5 200.0 700.0 204.0C707.5 208.0 717.0 212.7 725.0 218.0C733.0 223.3 741.3 230.0 748.0 236.0C754.7 242.0 758.8 248.0 765.0 254.0C771.2 260.0 777.5 266.0 785.0 272.0C792.5 278.0 800.8 285.3 810.0 290.0C819.2 294.7 835.0 298.3 840.0 300.0"/><path d="M300.0,180.0C308.3 178.3 330.0 173.7 350.0 170.0C370.0 166.3 400.0 159.7 420.0 158.0C440.0 156.3 450.0 158.0 470.0 160.0C490.0 162.0 518.3 166.9 540.0 170.0C561.7 173.1 581.8 175.8 600.0 178.7C618.2 181.6 634.2 184.2 649.0 187.6C663.8 191.0 678.3 195.6 689.0 199.0C699.7 202.4 703.2 203.9 713.0 208.0C722.8 212.1 736.3 217.4 748.0 223.5C759.7 229.6 773.3 237.8 783.0 244.4C792.7 251.0 800.3 257.6 806.0 263.0C811.7 268.4 813.0 272.2 817.0 277.0C821.0 281.8 826.2 288.2 830.0 292.0C833.8 295.8 838.3 298.7 840.0 300.0"/><path d="M520.0,168.0C533.3 168.7 578.3 169.7 600.0 172.0C621.7 174.3 635.0 177.7 650.0 182.0C665.0 186.3 677.5 191.7 690.0 198.0C702.5 204.3 714.7 212.5 725.0 220.0C735.3 227.5 744.2 235.7 752.0 243.0C759.8 250.3 765.3 257.5 772.0 264.0C778.7 270.5 785.3 276.7 792.0 282.0C798.7 287.3 804.0 292.3 812.0 296.0C820.0 299.7 835.3 302.7 840.0 304.0"/><path d="M480.0,172.0C496.7 174.0 551.7 179.7 580.0 184.0C608.3 188.3 630.0 192.7 650.0 198.0C670.0 203.3 685.0 208.7 700.0 216.0C715.0 223.3 728.3 233.3 740.0 242.0C751.7 250.7 760.0 260.0 770.0 268.0C780.0 276.0 788.3 284.0 800.0 290.0C811.7 296.0 833.3 301.7 840.0 304.0"/><path d="M620.0,192.0C630.0 194.0 662.5 199.0 680.0 204.0C697.5 209.0 711.3 214.7 725.0 222.0C738.7 229.3 751.2 239.7 762.0 248.0C772.8 256.3 781.2 265.0 790.0 272.0C798.8 279.0 806.7 285.3 815.0 290.0C823.3 294.7 835.8 298.3 840.0 300.0"/><path d="M560.0,188.0C573.3 190.0 616.7 195.7 640.0 200.0C663.3 204.3 682.5 208.7 700.0 214.0C717.5 219.3 731.7 225.0 745.0 232.0C758.3 239.0 770.0 248.3 780.0 256.0C790.0 263.7 797.5 272.0 805.0 278.0C812.5 284.0 819.2 288.7 825.0 292.0C830.8 295.3 837.5 297.0 840.0 298.0"/><path d="M95.0,251.0C100.8 251.9 118.3 254.6 130.0 256.7C141.7 258.7 153.3 261.0 165.0 263.4C176.7 265.9 188.3 268.8 200.0 271.6C211.7 274.4 223.3 277.0 235.0 280.2C246.7 283.3 258.3 286.7 270.0 290.4C281.7 294.1 293.3 297.6 305.0 302.3C316.7 307.1 328.3 312.7 340.0 319.0C351.7 325.2 363.3 334.3 375.0 339.7C386.7 345.2 398.3 347.9 410.0 351.6C421.7 355.4 433.3 360.1 445.0 362.2C456.7 364.3 468.3 363.8 480.0 364.5C491.7 365.1 503.3 365.9 515.0 366.1C526.7 366.3 538.3 366.1 550.0 365.7C561.7 365.3 573.3 364.6 585.0 363.6C596.7 362.6 608.3 361.3 620.0 359.7C631.7 358.1 643.3 355.9 655.0 353.8C666.7 351.7 678.3 349.3 690.0 347.1C701.7 345.0 713.3 342.6 725.0 340.8C736.7 339.0 748.3 337.2 760.0 336.4C771.7 335.6 783.3 335.5 795.0 336.0C806.7 336.4 818.3 338.4 830.0 339.1C841.7 339.9 859.2 340.3 865.0 340.5"/><path d="M95.0,245.4C100.8 246.3 118.3 248.8 130.0 250.7C141.7 252.7 153.3 254.7 165.0 257.1C176.7 259.5 188.3 262.7 200.0 265.1C211.7 267.5 223.3 269.6 235.0 271.4C246.7 273.3 258.3 274.7 270.0 276.0C281.7 277.4 293.3 278.0 305.0 279.5C316.7 281.0 328.3 282.8 340.0 285.0C351.7 287.3 363.3 290.3 375.0 292.9C386.7 295.6 398.3 297.7 410.0 300.9C421.7 304.2 433.3 309.4 445.0 312.5C456.7 315.6 468.3 317.4 480.0 319.7C491.7 322.0 503.3 324.6 515.0 326.5C526.7 328.5 538.3 330.2 550.0 331.3C561.7 332.5 573.3 332.9 585.0 333.3C596.7 333.7 608.3 333.9 620.0 333.7C631.7 333.5 643.3 332.8 655.0 332.0C666.7 331.2 678.3 329.8 690.0 328.9C701.7 328.1 713.3 327.4 725.0 326.9C736.7 326.3 748.3 325.9 760.0 325.8C771.7 325.7 783.3 325.4 795.0 326.3C806.7 327.3 818.3 330.2 830.0 331.4C841.7 332.6 859.2 333.1 865.0 333.5"/><path d="M95.0,249.6C100.8 250.7 118.3 253.9 130.0 256.3C141.7 258.8 153.3 261.3 165.0 264.2C176.7 267.1 188.3 270.5 200.0 273.6C211.7 276.6 223.3 279.6 235.0 282.7C246.7 285.8 258.3 289.0 270.0 292.4C281.7 295.8 293.3 298.8 305.0 302.9C316.7 307.0 328.3 311.8 340.0 317.0C351.7 322.3 363.3 329.7 375.0 334.3C386.7 338.9 398.3 341.4 410.0 344.8C421.7 348.2 433.3 352.7 445.0 354.8C456.7 356.9 468.3 356.7 480.0 357.5C491.7 358.2 503.3 359.1 515.0 359.4C526.7 359.8 538.3 359.8 550.0 359.4C561.7 359.1 573.3 358.2 585.0 357.3C596.7 356.3 608.3 355.2 620.0 353.6C631.7 352.1 643.3 350.0 655.0 348.0C666.7 346.0 678.3 343.5 690.0 341.6C701.7 339.6 713.3 337.7 725.0 336.1C736.7 334.6 748.3 333.2 760.0 332.3C771.7 331.5 783.3 330.7 795.0 331.0C806.7 331.3 818.3 333.5 830.0 334.0C841.7 334.6 859.2 334.5 865.0 334.5"/><path d="M95.0,244.6C100.8 245.6 118.3 248.7 130.0 251.1C141.7 253.4 153.3 256.0 165.0 258.9C176.7 261.7 188.3 265.3 200.0 268.3C211.7 271.4 223.3 274.1 235.0 277.2C246.7 280.3 258.3 283.2 270.0 286.8C281.7 290.4 293.3 293.8 305.0 298.7C316.7 303.6 328.3 309.5 340.0 316.0C351.7 322.6 363.3 332.1 375.0 338.0C386.7 343.8 398.3 347.2 410.0 351.0C421.7 354.9 433.3 359.3 445.0 360.9C456.7 362.6 468.3 361.3 480.0 361.1C491.7 360.9 503.3 360.5 515.0 359.7C526.7 358.9 538.3 357.7 550.0 356.3C561.7 354.9 573.3 353.1 585.0 351.4C596.7 349.6 608.3 347.8 620.0 345.7C631.7 343.7 643.3 341.3 655.0 339.1C666.7 336.9 678.3 334.3 690.0 332.5C701.7 330.7 713.3 329.3 725.0 328.3C736.7 327.4 748.3 327.1 760.0 326.9C771.7 326.6 783.3 326.2 795.0 326.9C806.7 327.7 818.3 330.5 830.0 331.5C841.7 332.5 859.2 332.8 865.0 333.0"/><path d="M95.0,248.7C100.8 249.7 118.3 252.4 130.0 254.6C141.7 256.7 153.3 259.0 165.0 261.6C176.7 264.3 188.3 267.5 200.0 270.4C211.7 273.3 223.3 276.0 235.0 279.3C246.7 282.5 258.3 285.8 270.0 289.8C281.7 293.7 293.3 297.5 305.0 303.0C316.7 308.4 328.3 315.0 340.0 322.5C351.7 330.0 363.3 341.1 375.0 348.0C386.7 355.0 398.3 359.3 410.0 364.0C421.7 368.8 433.3 374.2 445.0 376.6C456.7 379.0 468.3 378.1 480.0 378.4C491.7 378.6 503.3 378.7 515.0 378.2C526.7 377.6 538.3 376.4 550.0 375.1C561.7 373.8 573.3 372.2 585.0 370.3C596.7 368.4 608.3 366.2 620.0 363.7C631.7 361.2 643.3 358.3 655.0 355.5C666.7 352.8 678.3 349.7 690.0 347.1C701.7 344.4 713.3 341.8 725.0 339.7C736.7 337.7 748.3 335.7 760.0 334.7C771.7 333.7 783.3 333.3 795.0 333.7C806.7 334.0 818.3 336.1 830.0 336.8C841.7 337.5 859.2 337.8 865.0 338.0"/><path d="M95.0,248.9C100.8 250.0 118.3 253.0 130.0 255.4C141.7 257.8 153.3 260.3 165.0 263.1C176.7 266.0 188.3 269.3 200.0 272.5C211.7 275.6 223.3 278.6 235.0 282.2C246.7 285.9 258.3 289.7 270.0 294.3C281.7 298.9 293.3 303.4 305.0 309.6C316.7 315.9 328.3 323.7 340.0 331.8C351.7 339.8 363.3 351.2 375.0 358.0C386.7 364.9 398.3 368.5 410.0 372.8C421.7 377.1 433.3 381.9 445.0 383.9C456.7 385.8 468.3 384.5 480.0 384.4C491.7 384.4 503.3 384.3 515.0 383.7C526.7 383.0 538.3 381.8 550.0 380.5C561.7 379.1 573.3 377.7 585.0 375.8C596.7 373.9 608.3 371.8 620.0 369.3C631.7 366.9 643.3 363.9 655.0 361.1C666.7 358.3 678.3 355.2 690.0 352.4C701.7 349.5 713.3 346.4 725.0 343.9C736.7 341.5 748.3 339.1 760.0 337.8C771.7 336.4 783.3 335.9 795.0 336.0C806.7 336.0 818.3 337.7 830.0 338.2C841.7 338.7 859.2 338.6 865.0 338.7"/><path d="M95.0,246.1C100.8 247.1 118.3 249.8 130.0 252.0C141.7 254.2 153.3 256.5 165.0 259.1C176.7 261.8 188.3 265.1 200.0 267.9C211.7 270.6 223.3 273.1 235.0 275.7C246.7 278.3 258.3 280.8 270.0 283.6C281.7 286.4 293.3 288.8 305.0 292.7C316.7 296.5 328.3 301.2 340.0 306.8C351.7 312.4 363.3 320.6 375.0 326.4C386.7 332.2 398.3 336.5 410.0 341.5C421.7 346.5 433.3 352.9 445.0 356.4C456.7 359.9 468.3 360.9 480.0 362.7C491.7 364.5 503.3 366.2 515.0 367.1C526.7 368.1 538.3 368.4 550.0 368.4C561.7 368.4 573.3 367.9 585.0 367.1C596.7 366.3 608.3 365.0 620.0 363.4C631.7 361.7 643.3 359.5 655.0 357.3C666.7 355.1 678.3 352.4 690.0 350.1C701.7 347.7 713.3 345.1 725.0 343.1C736.7 341.1 748.3 339.1 760.0 338.0C771.7 336.9 783.3 336.5 795.0 336.8C806.7 337.0 818.3 338.7 830.0 339.3C841.7 339.8 859.2 340.0 865.0 340.1"/><path d="M95.0,245.1C100.8 245.9 118.3 248.2 130.0 250.0C141.7 251.9 153.3 253.8 165.0 256.1C176.7 258.3 188.3 261.4 200.0 263.6C211.7 265.8 223.3 267.8 235.0 269.2C246.7 270.7 258.3 271.7 270.0 272.6C281.7 273.4 293.3 273.4 305.0 274.3C316.7 275.2 328.3 276.1 340.0 277.8C351.7 279.5 363.3 281.7 375.0 284.2C386.7 286.7 398.3 289.3 410.0 292.9C421.7 296.5 433.3 302.1 445.0 305.9C456.7 309.6 468.3 312.4 480.0 315.5C491.7 318.6 503.3 322.0 515.0 324.6C526.7 327.2 538.3 329.6 550.0 331.3C561.7 333.0 573.3 333.8 585.0 334.6C596.7 335.3 608.3 335.9 620.0 335.8C631.7 335.8 643.3 335.1 655.0 334.3C666.7 333.5 678.3 332.1 690.0 331.1C701.7 330.2 713.3 329.3 725.0 328.7C736.7 328.0 748.3 327.4 760.0 327.3C771.7 327.1 783.3 326.9 795.0 327.8C806.7 328.6 818.3 331.4 830.0 332.6C841.7 333.7 859.2 334.3 865.0 334.6"/><path d="M95.0,250.4C100.8 251.5 118.3 254.4 130.0 256.8C141.7 259.1 153.3 261.5 165.0 264.3C176.7 267.1 188.3 270.3 200.0 273.4C211.7 276.5 223.3 279.5 235.0 283.0C246.7 286.6 258.3 290.5 270.0 294.9C281.7 299.3 293.3 303.6 305.0 309.5C316.7 315.4 328.3 322.4 340.0 330.2C351.7 338.1 363.3 349.6 375.0 356.5C386.7 363.4 398.3 367.3 410.0 371.8C421.7 376.3 433.3 381.4 445.0 383.6C456.7 385.7 468.3 384.7 480.0 384.7C491.7 384.8 503.3 384.6 515.0 384.0C526.7 383.3 538.3 382.1 550.0 380.8C561.7 379.4 573.3 377.9 585.0 376.1C596.7 374.2 608.3 372.0 620.0 369.6C631.7 367.1 643.3 364.2 655.0 361.3C666.7 358.5 678.3 355.4 690.0 352.6C701.7 349.7 713.3 346.8 725.0 344.4C736.7 342.1 748.3 339.7 760.0 338.5C771.7 337.2 783.3 336.8 795.0 336.9C806.7 337.0 818.3 338.7 830.0 339.2C841.7 339.6 859.2 339.7 865.0 339.8"/><path d="M95.0,244.1C100.8 245.1 118.3 248.1 130.0 250.5C141.7 252.8 153.3 255.3 165.0 258.2C176.7 261.0 188.3 264.6 200.0 267.6C211.7 270.6 223.3 273.2 235.0 276.0C246.7 278.9 258.3 281.5 270.0 284.8C281.7 288.1 293.3 291.0 305.0 295.7C316.7 300.3 328.3 306.0 340.0 312.6C351.7 319.3 363.3 329.1 375.0 335.6C386.7 342.2 398.3 347.0 410.0 352.1C421.7 357.2 433.3 363.2 445.0 366.1C456.7 369.0 468.3 368.9 480.0 369.6C491.7 370.4 503.3 370.8 515.0 370.6C526.7 370.4 538.3 369.5 550.0 368.4C561.7 367.3 573.3 365.7 585.0 363.9C596.7 362.1 608.3 359.9 620.0 357.6C631.7 355.2 643.3 352.4 655.0 349.7C666.7 347.0 678.3 343.9 690.0 341.4C701.7 339.0 713.3 336.6 725.0 334.8C736.7 333.0 748.3 331.5 760.0 330.5C771.7 329.6 783.3 328.8 795.0 329.1C806.7 329.4 818.3 331.7 830.0 332.4C841.7 333.1 859.2 333.0 865.0 333.2"/><path d="M95.0,246.2C100.8 247.2 118.3 249.9 130.0 252.0C141.7 254.1 153.3 256.4 165.0 258.9C176.7 261.5 188.3 264.8 200.0 267.4C211.7 270.1 223.3 272.4 235.0 274.7C246.7 277.0 258.3 279.0 270.0 281.1C281.7 283.3 293.3 284.8 305.0 287.5C316.7 290.1 328.3 293.3 340.0 297.0C351.7 300.8 363.3 306.1 375.0 310.1C386.7 314.0 398.3 316.9 410.0 320.8C421.7 324.6 433.3 330.1 445.0 333.2C456.7 336.3 468.3 337.5 480.0 339.4C491.7 341.3 503.3 343.3 515.0 344.7C526.7 346.0 538.3 347.0 550.0 347.5C561.7 348.0 573.3 347.9 585.0 347.7C596.7 347.4 608.3 346.9 620.0 346.0C631.7 345.1 643.3 343.6 655.0 342.1C666.7 340.6 678.3 338.6 690.0 337.1C701.7 335.5 713.3 334.1 725.0 332.9C736.7 331.8 748.3 330.7 760.0 330.2C771.7 329.7 783.3 329.3 795.0 329.9C806.7 330.5 818.3 332.9 830.0 333.8C841.7 334.7 859.2 335.0 865.0 335.2"/><path d="M95.0,251.0C100.8 252.0 118.3 254.8 130.0 257.0C141.7 259.2 153.3 261.5 165.0 264.2C176.7 266.8 188.3 269.9 200.0 272.8C211.7 275.8 223.3 278.7 235.0 282.1C246.7 285.6 258.3 289.3 270.0 293.5C281.7 297.7 293.3 301.8 305.0 307.3C316.7 312.8 328.3 319.3 340.0 326.5C351.7 333.7 363.3 344.2 375.0 350.5C386.7 356.7 398.3 359.9 410.0 364.0C421.7 368.0 433.3 372.7 445.0 374.6C456.7 376.6 468.3 375.5 480.0 375.7C491.7 375.9 503.3 376.1 515.0 375.7C526.7 375.4 538.3 374.5 550.0 373.6C561.7 372.6 573.3 371.4 585.0 369.9C596.7 368.3 608.3 366.5 620.0 364.4C631.7 362.3 643.3 359.7 655.0 357.2C666.7 354.7 678.3 351.9 690.0 349.4C701.7 346.9 713.3 344.2 725.0 342.2C736.7 340.1 748.3 338.1 760.0 337.0C771.7 336.0 783.3 335.8 795.0 336.1C806.7 336.4 818.3 338.3 830.0 338.9C841.7 339.6 859.2 339.9 865.0 340.1"/><path d="M95.0,250.7C100.8 251.8 118.3 255.1 130.0 257.5C141.7 260.0 153.3 262.6 165.0 265.6C176.7 268.5 188.3 271.9 200.0 275.1C211.7 278.4 223.3 281.5 235.0 285.3C246.7 289.0 258.3 293.0 270.0 297.6C281.7 302.1 293.3 306.6 305.0 312.5C316.7 318.5 328.3 325.6 340.0 333.4C351.7 341.2 363.3 352.6 375.0 359.4C386.7 366.2 398.3 369.9 410.0 374.3C421.7 378.7 433.3 383.7 445.0 385.7C456.7 387.8 468.3 386.6 480.0 386.6C491.7 386.7 503.3 386.7 515.0 386.0C526.7 385.4 538.3 384.2 550.0 382.9C561.7 381.6 573.3 380.1 585.0 378.2C596.7 376.3 608.3 374.1 620.0 371.5C631.7 369.0 643.3 366.0 655.0 363.1C666.7 360.1 678.3 356.9 690.0 354.0C701.7 351.1 713.3 348.0 725.0 345.6C736.7 343.1 748.3 340.7 760.0 339.3C771.7 337.9 783.3 337.3 795.0 337.3C806.7 337.3 818.3 338.8 830.0 339.2C841.7 339.5 859.2 339.3 865.0 339.3"/><path d="M95.0,245.1C100.8 246.1 118.3 249.0 130.0 251.4C141.7 253.7 153.3 256.2 165.0 259.1C176.7 262.0 188.3 265.6 200.0 268.8C211.7 272.1 223.3 274.9 235.0 278.5C246.7 282.2 258.3 285.9 270.0 290.8C281.7 295.7 293.3 301.1 305.0 307.8C316.7 314.4 328.3 322.5 340.0 330.6C351.7 338.8 363.3 350.0 375.0 356.8C386.7 363.6 398.3 367.2 410.0 371.5C421.7 375.7 433.3 380.6 445.0 382.5C456.7 384.4 468.3 383.1 480.0 383.1C491.7 383.1 503.3 383.2 515.0 382.3C526.7 381.5 538.3 380.3 550.0 378.0C561.7 375.7 573.3 371.6 585.0 368.3C596.7 364.9 608.3 361.5 620.0 358.1C631.7 354.7 643.3 351.1 655.0 347.9C666.7 344.6 678.3 341.2 690.0 338.6C701.7 336.0 713.3 333.8 725.0 332.1C736.7 330.4 748.3 329.2 760.0 328.5C771.7 327.8 783.3 327.3 795.0 327.9C806.7 328.5 818.3 331.2 830.0 332.2C841.7 333.2 859.2 333.7 865.0 334.0"/><path d="M95.0,250.6C100.8 251.6 118.3 254.5 130.0 256.7C141.7 258.9 153.3 261.2 165.0 263.8C176.7 266.4 188.3 269.6 200.0 272.4C211.7 275.3 223.3 278.0 235.0 281.0C246.7 284.1 258.3 287.2 270.0 290.5C281.7 293.8 293.3 296.8 305.0 300.9C316.7 305.1 328.3 309.9 340.0 315.4C351.7 320.9 363.3 328.7 375.0 333.7C386.7 338.8 398.3 341.6 410.0 345.6C421.7 349.5 433.3 354.7 445.0 357.4C456.7 360.1 468.3 360.4 480.0 361.7C491.7 363.0 503.3 364.5 515.0 365.3C526.7 366.1 538.3 366.4 550.0 366.5C561.7 366.5 573.3 366.1 585.0 365.4C596.7 364.7 608.3 363.7 620.0 362.2C631.7 360.7 643.3 358.6 655.0 356.5C666.7 354.5 678.3 351.9 690.0 349.7C701.7 347.4 713.3 344.9 725.0 343.0C736.7 341.0 748.3 338.9 760.0 337.9C771.7 336.9 783.3 336.5 795.0 336.8C806.7 337.0 818.3 338.7 830.0 339.3C841.7 339.8 859.2 339.9 865.0 340.0"/><path d="M95.0,248.6C100.8 249.6 118.3 252.3 130.0 254.4C141.7 256.5 153.3 258.7 165.0 261.3C176.7 263.9 188.3 267.0 200.0 269.8C211.7 272.5 223.3 275.1 235.0 277.9C246.7 280.7 258.3 283.6 270.0 286.7C281.7 289.8 293.3 292.5 305.0 296.5C316.7 300.5 328.3 305.3 340.0 310.7C351.7 316.2 363.3 324.0 375.0 329.1C386.7 334.2 398.3 337.3 410.0 341.3C421.7 345.3 433.3 350.5 445.0 353.1C456.7 355.7 468.3 355.9 480.0 357.0C491.7 358.2 503.3 359.3 515.0 359.9C526.7 360.5 538.3 360.6 550.0 360.4C561.7 360.2 573.3 359.6 585.0 358.8C596.7 357.9 608.3 356.8 620.0 355.3C631.7 353.8 643.3 351.8 655.0 349.8C666.7 347.8 678.3 345.4 690.0 343.4C701.7 341.4 713.3 339.3 725.0 337.7C736.7 336.1 748.3 334.5 760.0 333.8C771.7 333.0 783.3 332.7 795.0 333.2C806.7 333.7 818.3 335.8 830.0 336.6C841.7 337.4 859.2 337.7 865.0 338.0"/><path d="M95.0,244.9C100.8 245.7 118.3 247.9 130.0 249.7C141.7 251.5 153.3 253.4 165.0 255.7C176.7 258.1 188.3 261.4 200.0 263.7C211.7 266.0 223.3 268.0 235.0 269.6C246.7 271.2 258.3 272.1 270.0 273.1C281.7 274.1 293.3 274.0 305.0 275.6C316.7 277.1 328.3 279.2 340.0 282.5C351.7 285.8 363.3 290.6 375.0 295.4C386.7 300.2 398.3 305.5 410.0 311.5C421.7 317.5 433.3 325.8 445.0 331.3C456.7 336.9 468.3 340.6 480.0 344.6C491.7 348.6 503.3 352.5 515.0 355.4C526.7 358.3 538.3 360.4 550.0 361.9C561.7 363.3 573.3 364.1 585.0 364.4C596.7 364.6 608.3 364.2 620.0 363.3C631.7 362.3 643.3 360.8 655.0 358.7C666.7 356.6 678.3 353.3 690.0 350.7C701.7 348.1 713.3 345.1 725.0 342.9C736.7 340.7 748.3 338.6 760.0 337.5C771.7 336.4 783.3 336.1 795.0 336.4C806.7 336.7 818.3 338.6 830.0 339.2C841.7 339.9 859.2 340.1 865.0 340.3"/><path d="M95.0,244.2C100.8 245.1 118.3 247.6 130.0 249.5C141.7 251.5 153.3 253.6 165.0 256.1C176.7 258.5 188.3 261.8 200.0 264.2C211.7 266.6 223.3 268.6 235.0 270.4C246.7 272.1 258.3 273.3 270.0 274.6C281.7 275.8 293.3 276.3 305.0 277.8C316.7 279.4 328.3 281.2 340.0 283.7C351.7 286.3 363.3 289.7 375.0 293.0C386.7 296.3 398.3 299.3 410.0 303.3C421.7 307.3 433.3 313.3 445.0 317.0C456.7 320.8 468.3 323.0 480.0 325.7C491.7 328.5 503.3 331.3 515.0 333.4C526.7 335.5 538.3 337.3 550.0 338.4C561.7 339.6 573.3 340.0 585.0 340.3C596.7 340.5 608.3 340.6 620.0 340.1C631.7 339.7 643.3 338.6 655.0 337.5C666.7 336.4 678.3 334.7 690.0 333.5C701.7 332.3 713.3 331.2 725.0 330.4C736.7 329.5 748.3 328.7 760.0 328.4C771.7 328.1 783.3 327.8 795.0 328.6C806.7 329.3 818.3 332.0 830.0 333.0C841.7 334.1 859.2 334.5 865.0 334.8"/><path d="M95.0,244.0C100.8 245.0 118.3 247.8 130.0 250.0C141.7 252.1 153.3 254.4 165.0 257.1C176.7 259.7 188.3 263.2 200.0 265.7C211.7 268.2 223.3 270.4 235.0 272.2C246.7 273.9 258.3 275.0 270.0 276.3C281.7 277.5 293.3 277.9 305.0 279.6C316.7 281.3 328.3 283.5 340.0 286.4C351.7 289.4 363.3 293.5 375.0 297.4C386.7 301.2 398.3 305.1 410.0 309.7C421.7 314.3 433.3 320.8 445.0 324.9C456.7 329.0 468.3 331.4 480.0 334.2C491.7 337.0 503.3 339.7 515.0 341.7C526.7 343.6 538.3 345.1 550.0 345.9C561.7 346.8 573.3 346.8 585.0 346.7C596.7 346.6 608.3 346.2 620.0 345.3C631.7 344.4 643.3 342.9 655.0 341.3C666.7 339.8 678.3 337.7 690.0 336.1C701.7 334.5 713.3 333.0 725.0 331.8C736.7 330.7 748.3 329.6 760.0 329.0C771.7 328.4 783.3 327.7 795.0 328.2C806.7 328.7 818.3 331.2 830.0 332.0C841.7 332.8 859.2 332.8 865.0 333.0"/><path d="M95.0,251.0C100.8 252.1 118.3 255.3 130.0 257.7C141.7 260.1 153.3 262.8 165.0 265.6C176.7 268.4 188.3 271.4 200.0 274.3C211.7 277.2 223.3 280.0 235.0 283.0C246.7 285.9 258.3 289.1 270.0 292.0C281.7 295.0 293.3 297.5 305.0 300.8C316.7 304.1 328.3 307.9 340.0 311.9C351.7 316.0 363.3 321.6 375.0 325.2C386.7 328.8 398.3 330.4 410.0 333.6C421.7 336.7 433.3 341.5 445.0 344.1C456.7 346.8 468.3 347.7 480.0 349.6C491.7 351.4 503.3 353.7 515.0 355.3C526.7 356.9 538.3 358.2 550.0 359.1C561.7 360.0 573.3 360.5 585.0 360.6C596.7 360.7 608.3 360.5 620.0 359.7C631.7 358.9 643.3 357.5 655.0 355.9C666.7 354.4 678.3 352.3 690.0 350.3C701.7 348.4 713.3 346.2 725.0 344.4C736.7 342.5 748.3 340.4 760.0 339.3C771.7 338.1 783.3 337.4 795.0 337.4C806.7 337.5 818.3 339.0 830.0 339.4C841.7 339.8 859.2 339.7 865.0 339.8"/><path d="M95.0,249.4C100.8 250.4 118.3 253.4 130.0 255.8C141.7 258.1 153.3 260.6 165.0 263.4C176.7 266.2 188.3 269.4 200.0 272.6C211.7 275.7 223.3 278.7 235.0 282.3C246.7 285.9 258.3 289.8 270.0 294.3C281.7 298.8 293.3 303.3 305.0 309.4C316.7 315.4 328.3 322.7 340.0 330.7C351.7 338.8 363.3 350.6 375.0 357.5C386.7 364.4 398.3 367.9 410.0 372.2C421.7 376.5 433.3 381.3 445.0 383.2C456.7 385.2 468.3 384.0 480.0 383.8C491.7 383.6 503.3 383.1 515.0 382.2C526.7 381.3 538.3 379.8 550.0 378.2C561.7 376.6 573.3 374.9 585.0 372.8C596.7 370.7 608.3 368.4 620.0 365.8C631.7 363.2 643.3 360.2 655.0 357.3C666.7 354.4 678.3 351.2 690.0 348.5C701.7 345.7 713.3 342.9 725.0 340.8C736.7 338.6 748.3 336.5 760.0 335.4C771.7 334.3 783.3 333.8 795.0 334.0C806.7 334.2 818.3 336.2 830.0 336.8C841.7 337.4 859.2 337.5 865.0 337.6"/><path d="M95.0,248.9C100.8 249.8 118.3 252.2 130.0 254.1C141.7 256.0 153.3 258.0 165.0 260.3C176.7 262.7 188.3 265.6 200.0 268.1C211.7 270.5 223.3 272.8 235.0 274.9C246.7 277.1 258.3 279.0 270.0 281.0C281.7 282.9 293.3 284.2 305.0 286.5C316.7 288.8 328.3 291.5 340.0 294.8C351.7 298.2 363.3 302.9 375.0 306.7C386.7 310.4 398.3 313.2 410.0 317.2C421.7 321.2 433.3 327.1 445.0 330.8C456.7 334.4 468.3 336.4 480.0 339.0C491.7 341.6 503.3 344.4 515.0 346.5C526.7 348.5 538.3 350.2 550.0 351.3C561.7 352.5 573.3 353.0 585.0 353.3C596.7 353.5 608.3 353.4 620.0 352.7C631.7 352.0 643.3 350.7 655.0 349.3C666.7 347.9 678.3 345.9 690.0 344.3C701.7 342.6 713.3 340.7 725.0 339.2C736.7 337.7 748.3 336.1 760.0 335.4C771.7 334.7 783.3 334.6 795.0 335.1C806.7 335.6 818.3 337.6 830.0 338.4C841.7 339.2 859.2 339.6 865.0 339.8"/><path d="M95.0,244.0C100.8 245.0 118.3 247.6 130.0 249.7C141.7 251.9 153.3 254.1 165.0 256.7C176.7 259.3 188.3 262.7 200.0 265.2C211.7 267.7 223.3 269.9 235.0 271.7C246.7 273.5 258.3 274.8 270.0 276.0C281.7 277.3 293.3 277.8 305.0 279.4C316.7 280.9 328.3 282.7 340.0 285.2C351.7 287.7 363.3 291.1 375.0 294.3C386.7 297.5 398.3 300.6 410.0 304.6C421.7 308.6 433.3 314.6 445.0 318.4C456.7 322.1 468.3 324.4 480.0 327.1C491.7 329.8 503.3 332.6 515.0 334.7C526.7 336.8 538.3 338.5 550.0 339.6C561.7 340.7 573.3 341.1 585.0 341.3C596.7 341.5 608.3 341.5 620.0 341.0C631.7 340.5 643.3 339.3 655.0 338.2C666.7 337.0 678.3 335.2 690.0 333.9C701.7 332.7 713.3 331.5 725.0 330.6C736.7 329.7 748.3 328.9 760.0 328.5C771.7 328.1 783.3 327.5 795.0 328.2C806.7 328.8 818.3 331.4 830.0 332.4C841.7 333.3 859.2 333.5 865.0 333.7"/><path d="M95.0,248.1C100.8 249.2 118.3 252.3 130.0 254.6C141.7 257.0 153.3 259.5 165.0 262.3C176.7 265.1 188.3 268.5 200.0 271.4C211.7 274.4 223.3 277.1 235.0 280.0C246.7 282.8 258.3 285.6 270.0 288.6C281.7 291.6 293.3 294.1 305.0 297.9C316.7 301.6 328.3 306.0 340.0 310.9C351.7 315.9 363.3 323.0 375.0 327.7C386.7 332.4 398.3 335.3 410.0 339.2C421.7 343.1 433.3 348.3 445.0 351.0C456.7 353.7 468.3 354.1 480.0 355.4C491.7 356.7 503.3 358.1 515.0 358.8C526.7 359.6 538.3 359.9 550.0 359.9C561.7 359.8 573.3 359.3 585.0 358.5C596.7 357.8 608.3 356.8 620.0 355.4C631.7 354.0 643.3 352.0 655.0 350.0C666.7 348.1 678.3 345.7 690.0 343.6C701.7 341.6 713.3 339.6 725.0 338.0C736.7 336.4 748.3 334.8 760.0 333.9C771.7 333.1 783.3 332.5 795.0 332.8C806.7 333.1 818.3 335.2 830.0 335.8C841.7 336.4 859.2 336.3 865.0 336.4"/><path d="M95.0,250.9C100.8 251.9 118.3 254.8 130.0 257.0C141.7 259.3 153.3 261.6 165.0 264.3C176.7 267.0 188.3 270.1 200.0 273.2C211.7 276.2 223.3 279.1 235.0 282.6C246.7 286.1 258.3 289.9 270.0 294.1C281.7 298.4 293.3 302.5 305.0 308.0C316.7 313.6 328.3 320.2 340.0 327.4C351.7 334.7 363.3 345.3 375.0 351.6C386.7 357.9 398.3 361.1 410.0 365.1C421.7 369.2 433.3 373.8 445.0 375.7C456.7 377.6 468.3 376.5 480.0 376.6C491.7 376.7 503.3 376.7 515.0 376.3C526.7 375.8 538.3 374.9 550.0 373.8C561.7 372.7 573.3 371.3 585.0 369.7C596.7 368.1 608.3 366.2 620.0 364.0C631.7 361.8 643.3 359.1 655.0 356.5C666.7 353.9 678.3 351.1 690.0 348.5C701.7 346.0 713.3 343.4 725.0 341.3C736.7 339.2 748.3 337.3 760.0 336.2C771.7 335.2 783.3 334.8 795.0 335.1C806.7 335.3 818.3 337.3 830.0 337.9C841.7 338.5 859.2 338.7 865.0 338.8"/><path d="M95.0,247.2C100.8 248.2 118.3 251.1 130.0 253.4C141.7 255.7 153.3 258.1 165.0 260.8C176.7 263.5 188.3 266.9 200.0 269.7C211.7 272.5 223.3 275.1 235.0 277.8C246.7 280.4 258.3 282.8 270.0 285.5C281.7 288.1 293.3 290.2 305.0 293.5C316.7 296.8 328.3 300.7 340.0 305.2C351.7 309.7 363.3 316.0 375.0 320.4C386.7 324.9 398.3 327.8 410.0 331.7C421.7 335.6 433.3 340.9 445.0 343.8C456.7 346.6 468.3 347.4 480.0 348.9C491.7 350.5 503.3 352.1 515.0 353.1C526.7 354.0 538.3 354.6 550.0 354.8C561.7 354.9 573.3 354.6 585.0 354.0C596.7 353.4 608.3 352.6 620.0 351.4C631.7 350.1 643.3 348.4 655.0 346.6C666.7 344.8 678.3 342.5 690.0 340.7C701.7 338.9 713.3 337.1 725.0 335.7C736.7 334.2 748.3 332.9 760.0 332.2C771.7 331.4 783.3 330.9 795.0 331.3C806.7 331.7 818.3 334.0 830.0 334.7C841.7 335.4 859.2 335.4 865.0 335.6"/><path d="M95.0,250.9C100.8 252.0 118.3 254.9 130.0 257.2C141.7 259.5 153.3 261.9 165.0 264.7C176.7 267.4 188.3 270.6 200.0 273.7C211.7 276.8 223.3 279.7 235.0 283.4C246.7 287.0 258.3 290.9 270.0 295.4C281.7 299.8 293.3 304.2 305.0 310.1C316.7 316.0 328.3 323.1 340.0 330.8C351.7 338.6 363.3 350.0 375.0 356.7C386.7 363.5 398.3 367.1 410.0 371.4C421.7 375.6 433.3 380.5 445.0 382.5C456.7 384.4 468.3 383.2 480.0 383.2C491.7 383.2 503.3 383.2 515.0 382.5C526.7 381.9 538.3 380.8 550.0 379.5C561.7 378.2 573.3 376.8 585.0 375.0C596.7 373.2 608.3 371.1 620.0 368.7C631.7 366.2 643.3 363.3 655.0 360.6C666.7 357.8 678.3 354.7 690.0 352.0C701.7 349.2 713.3 346.3 725.0 344.0C736.7 341.7 748.3 339.4 760.0 338.2C771.7 337.0 783.3 336.6 795.0 336.8C806.7 337.0 818.3 338.7 830.0 339.2C841.7 339.8 859.2 339.9 865.0 340.0"/><path d="M95.0,248.3C100.8 249.3 118.3 252.1 130.0 254.2C141.7 256.4 153.3 258.6 165.0 261.2C176.7 263.7 188.3 267.0 200.0 269.5C211.7 272.0 223.3 274.4 235.0 276.4C246.7 278.3 258.3 279.9 270.0 281.2C281.7 282.4 293.3 282.8 305.0 283.7C316.7 284.7 328.3 285.4 340.0 286.8C351.7 288.2 363.3 289.5 375.0 291.8C386.7 294.2 398.3 297.2 410.0 300.9C421.7 304.6 433.3 310.4 445.0 314.1C456.7 317.8 468.3 320.2 480.0 323.0C491.7 325.8 503.3 328.8 515.0 331.0C526.7 333.3 538.3 335.3 550.0 336.6C561.7 337.8 573.3 338.3 585.0 338.7C596.7 339.1 608.3 339.3 620.0 339.0C631.7 338.6 643.3 337.7 655.0 336.7C666.7 335.6 678.3 333.9 690.0 332.8C701.7 331.7 713.3 330.7 725.0 329.9C736.7 329.2 748.3 328.6 760.0 328.4C771.7 328.2 783.3 327.8 795.0 328.6C806.7 329.4 818.3 332.0 830.0 333.0C841.7 334.0 859.2 334.2 865.0 334.5"/><path d="M95.0,246.3C100.8 247.2 118.3 249.6 130.0 251.5C141.7 253.4 153.3 255.4 165.0 257.8C176.7 260.1 188.3 263.1 200.0 265.6C211.7 268.0 223.3 270.2 235.0 272.3C246.7 274.4 258.3 276.3 270.0 278.2C281.7 280.1 293.3 281.5 305.0 283.8C316.7 286.1 328.3 288.9 340.0 292.1C351.7 295.3 363.3 299.8 375.0 303.0C386.7 306.2 398.3 308.1 410.0 311.2C421.7 314.2 433.3 318.9 445.0 321.4C456.7 323.9 468.3 324.6 480.0 326.2C491.7 327.8 503.3 329.5 515.0 330.7C526.7 332.0 538.3 333.0 550.0 333.6C561.7 334.1 573.3 334.1 585.0 334.0C596.7 334.0 608.3 333.8 620.0 333.2C631.7 332.7 643.3 331.6 655.0 330.6C666.7 329.7 678.3 328.2 690.0 327.4C701.7 326.5 713.3 326.0 725.0 325.6C736.7 325.2 748.3 324.9 760.0 325.0C771.7 325.0 783.3 324.8 795.0 325.8C806.7 326.9 818.3 329.9 830.0 331.2C841.7 332.5 859.2 333.2 865.0 333.6"/><path d="M95.0,249.1C100.8 250.0 118.3 252.6 130.0 254.7C141.7 256.8 153.3 259.0 165.0 261.5C176.7 264.0 188.3 267.0 200.0 269.8C211.7 272.5 223.3 275.1 235.0 278.0C246.7 281.0 258.3 284.0 270.0 287.3C281.7 290.6 293.3 293.6 305.0 297.8C316.7 301.9 328.3 306.8 340.0 312.1C351.7 317.3 363.3 324.9 375.0 329.3C386.7 333.7 398.3 335.6 410.0 338.4C421.7 341.3 433.3 345.1 445.0 346.5C456.7 348.0 468.3 347.1 480.0 347.3C491.7 347.5 503.3 347.8 515.0 347.8C526.7 347.7 538.3 347.4 550.0 346.8C561.7 346.2 573.3 345.3 585.0 344.3C596.7 343.3 608.3 342.2 620.0 340.8C631.7 339.5 643.3 337.7 655.0 336.0C666.7 334.4 678.3 332.2 690.0 330.8C701.7 329.3 713.3 328.1 725.0 327.3C736.7 326.4 748.3 325.7 760.0 325.5C771.7 325.3 783.3 325.1 795.0 326.1C806.7 327.1 818.3 330.1 830.0 331.3C841.7 332.5 859.2 333.1 865.0 333.5"/><path d="M95.0,247.1C100.8 248.3 118.3 251.8 130.0 254.4C141.7 257.0 153.3 259.7 165.0 262.8C176.7 265.8 188.3 269.5 200.0 272.6C211.7 275.7 223.3 278.6 235.0 281.5C246.7 284.3 258.3 287.0 270.0 289.8C281.7 292.6 293.3 294.8 305.0 298.1C316.7 301.5 328.3 305.3 340.0 309.7C351.7 314.1 363.3 320.2 375.0 324.5C386.7 328.8 398.3 331.7 410.0 335.5C421.7 339.3 433.3 344.6 445.0 347.4C456.7 350.3 468.3 351.0 480.0 352.6C491.7 354.1 503.3 355.7 515.0 356.7C526.7 357.7 538.3 358.3 550.0 358.4C561.7 358.5 573.3 358.0 585.0 357.3C596.7 356.7 608.3 355.8 620.0 354.4C631.7 353.1 643.3 351.2 655.0 349.3C666.7 347.3 678.3 344.9 690.0 342.9C701.7 340.9 713.3 339.0 725.0 337.4C736.7 335.8 748.3 334.3 760.0 333.3C771.7 332.3 783.3 331.4 795.0 331.5C806.7 331.6 818.3 333.6 830.0 334.1C841.7 334.5 859.2 334.0 865.0 334.0"/><path d="M95.0,249.8C100.8 251.0 118.3 254.3 130.0 256.8C141.7 259.4 153.3 262.1 165.0 265.0C176.7 267.9 188.3 271.1 200.0 274.2C211.7 277.4 223.3 280.4 235.0 284.1C246.7 287.8 258.3 291.8 270.0 296.4C281.7 300.9 293.3 305.4 305.0 311.4C316.7 317.5 328.3 324.6 340.0 332.5C351.7 340.4 363.3 351.9 375.0 358.8C386.7 365.6 398.3 369.9 410.0 373.6C421.7 377.2 433.3 380.3 445.0 380.8C456.7 381.3 468.3 378.0 480.0 376.5C491.7 375.1 503.3 373.8 515.0 372.2C526.7 370.6 538.3 368.8 550.0 367.0C561.7 365.2 573.3 363.4 585.0 361.5C596.7 359.6 608.3 357.7 620.0 355.6C631.7 353.5 643.3 351.1 655.0 348.8C666.7 346.6 678.3 344.1 690.0 342.1C701.7 340.0 713.3 338.2 725.0 336.7C736.7 335.2 748.3 333.8 760.0 333.2C771.7 332.5 783.3 332.2 795.0 332.8C806.7 333.3 818.3 335.6 830.0 336.4C841.7 337.3 859.2 337.6 865.0 337.8"/><path d="M95.0,245.7C100.8 246.9 118.3 250.0 130.0 252.4C141.7 254.8 153.3 257.4 165.0 260.2C176.7 263.0 188.3 266.6 200.0 269.4C211.7 272.2 223.3 274.8 235.0 277.0C246.7 279.2 258.3 281.0 270.0 282.7C281.7 284.4 293.3 285.4 305.0 287.2C316.7 289.0 328.3 291.1 340.0 293.6C351.7 296.1 363.3 299.3 375.0 302.2C386.7 305.1 398.3 307.4 410.0 310.8C421.7 314.2 433.3 319.5 445.0 322.7C456.7 325.9 468.3 327.7 480.0 330.1C491.7 332.4 503.3 334.9 515.0 336.7C526.7 338.6 538.3 340.2 550.0 341.1C561.7 342.1 573.3 342.3 585.0 342.4C596.7 342.5 608.3 342.5 620.0 341.9C631.7 341.3 643.3 340.2 655.0 339.0C666.7 337.8 678.3 335.9 690.0 334.7C701.7 333.4 713.3 332.3 725.0 331.4C736.7 330.5 748.3 329.6 760.0 329.1C771.7 328.5 783.3 327.7 795.0 328.2C806.7 328.6 818.3 331.1 830.0 331.8C841.7 332.5 859.2 332.2 865.0 332.3"/><path d="M95.0,247.3C100.8 248.2 118.3 250.7 130.0 252.7C141.7 254.7 153.3 256.9 165.0 259.3C176.7 261.7 188.3 264.8 200.0 267.2C211.7 269.7 223.3 271.9 235.0 273.9C246.7 275.9 258.3 277.7 270.0 279.2C281.7 280.7 293.3 281.5 305.0 282.9C316.7 284.3 328.3 285.9 340.0 287.7C351.7 289.5 363.3 291.7 375.0 293.5C386.7 295.3 398.3 296.2 410.0 298.7C421.7 301.1 433.3 305.1 445.0 308.2C456.7 311.2 468.3 314.2 480.0 317.1C491.7 319.9 503.3 322.9 515.0 325.2C526.7 327.5 538.3 329.6 550.0 331.0C561.7 332.4 573.3 332.9 585.0 333.5C596.7 334.0 608.3 334.4 620.0 334.2C631.7 334.0 643.3 333.3 655.0 332.5C666.7 331.7 678.3 330.2 690.0 329.3C701.7 328.4 713.3 327.6 725.0 327.2C736.7 326.8 748.3 326.6 760.0 326.7C771.7 326.7 783.3 326.5 795.0 327.6C806.7 328.6 818.3 331.5 830.0 332.7C841.7 333.9 859.2 334.5 865.0 334.9"/><path d="M95.0,251.0C100.8 251.9 118.3 254.5 130.0 256.5C141.7 258.5 153.3 260.7 165.0 263.1C176.7 265.5 188.3 268.4 200.0 271.1C211.7 273.7 223.3 276.3 235.0 278.9C246.7 281.6 258.3 284.4 270.0 287.1C281.7 289.8 293.3 292.1 305.0 295.2C316.7 298.4 328.3 302.1 340.0 306.1C351.7 310.1 363.3 315.8 375.0 319.4C386.7 323.0 398.3 324.7 410.0 327.8C421.7 330.9 433.3 335.4 445.0 337.8C456.7 340.3 468.3 340.9 480.0 342.4C491.7 343.9 503.3 345.8 515.0 347.1C526.7 348.3 538.3 349.4 550.0 350.0C561.7 350.7 573.3 350.9 585.0 350.9C596.7 350.8 608.3 350.6 620.0 349.9C631.7 349.2 643.3 348.0 655.0 346.6C666.7 345.3 678.3 343.5 690.0 342.0C701.7 340.5 713.3 338.9 725.0 337.6C736.7 336.4 748.3 335.0 760.0 334.5C771.7 334.0 783.3 333.9 795.0 334.5C806.7 335.1 818.3 337.3 830.0 338.2C841.7 339.1 859.2 339.6 865.0 339.9"/><path d="M95.0,248.1C100.8 249.1 118.3 251.9 130.0 254.1C141.7 256.2 153.3 258.5 165.0 261.2C176.7 263.8 188.3 267.0 200.0 269.9C211.7 272.8 223.3 275.4 235.0 278.4C246.7 281.4 258.3 284.4 270.0 287.9C281.7 291.4 293.3 294.5 305.0 299.2C316.7 303.8 328.3 309.3 340.0 315.7C351.7 322.0 363.3 331.3 375.0 337.2C386.7 343.1 398.3 346.8 410.0 351.1C421.7 355.5 433.3 360.8 445.0 363.4C456.7 365.9 468.3 365.7 480.0 366.5C491.7 367.3 503.3 368.0 515.0 368.1C526.7 368.2 538.3 367.8 550.0 367.1C561.7 366.5 573.3 365.4 585.0 364.1C596.7 362.8 608.3 361.2 620.0 359.3C631.7 357.4 643.3 354.9 655.0 352.6C666.7 350.2 678.3 347.5 690.0 345.2C701.7 342.8 713.3 340.5 725.0 338.6C736.7 336.8 748.3 335.1 760.0 334.2C771.7 333.3 783.3 332.9 795.0 333.2C806.7 333.6 818.3 335.7 830.0 336.4C841.7 337.2 859.2 337.4 865.0 337.6"/><path d="M95.0,253.2C100.8 254.8 118.3 259.8 130.0 262.5C141.7 265.2 153.3 267.3 165.0 269.5C176.7 271.8 188.3 274.0 200.0 276.2C211.7 278.4 223.3 280.0 235.0 282.7C246.7 285.4 258.3 288.5 270.0 292.2C281.7 296.0 299.2 302.8 305.0 304.9"/><path d="M95.0,255.1C100.8 256.3 118.3 260.0 130.0 262.6C141.7 265.3 153.3 268.0 165.0 270.9C176.7 273.9 188.3 277.5 200.0 280.4C211.7 283.4 223.3 285.7 235.0 288.5C246.7 291.3 258.3 294.1 270.0 297.3C281.7 300.5 299.2 306.0 305.0 307.7"/><path d="M95.0,246.5C100.8 247.6 118.3 250.5 130.0 252.9C141.7 255.4 153.3 258.1 165.0 261.0C176.7 263.9 188.3 267.6 200.0 270.3C211.7 273.0 223.3 275.2 235.0 277.0C246.7 278.7 258.3 279.9 270.0 280.8C281.7 281.7 299.2 282.2 305.0 282.5"/><path d="M95.0,255.8C100.8 257.1 118.3 260.8 130.0 263.4C141.7 266.0 153.3 268.5 165.0 271.5C176.7 274.4 188.3 277.9 200.0 280.9C211.7 283.9 223.3 286.3 235.0 289.5C246.7 292.6 258.3 295.8 270.0 299.8C281.7 303.7 299.2 310.9 305.0 313.1"/><path d="M95.0,246.0C100.8 247.0 118.3 249.5 130.0 251.6C141.7 253.6 153.3 255.8 165.0 258.3C176.7 260.8 188.3 264.2 200.0 266.6C211.7 269.1 223.3 271.2 235.0 273.0C246.7 274.7 258.3 275.9 270.0 277.1C281.7 278.2 299.2 279.3 305.0 279.7"/><path d="M95.0,246.0C100.8 247.0 118.3 249.9 130.0 252.1C141.7 254.4 153.3 256.9 165.0 259.5C176.7 262.2 188.3 265.8 200.0 268.3C211.7 270.7 223.3 272.8 235.0 274.4C246.7 276.0 258.3 276.9 270.0 277.8C281.7 278.6 299.2 279.3 305.0 279.6"/><path d="M95.0,256.8C100.8 258.2 118.3 262.2 130.0 265.1C141.7 268.1 153.3 271.1 165.0 274.3C176.7 277.5 188.3 281.3 200.0 284.5C211.7 287.7 223.3 290.1 235.0 293.3C246.7 296.6 258.3 300.0 270.0 303.9C281.7 307.7 299.2 314.4 305.0 316.6"/><path d="M95.0,255.4C100.8 257.1 118.3 262.1 130.0 265.7C141.7 269.2 153.3 273.1 165.0 276.8C176.7 280.5 188.3 284.6 200.0 287.8C211.7 291.0 223.3 293.1 235.0 295.7C246.7 298.3 258.3 300.8 270.0 303.3C281.7 305.8 299.2 309.6 305.0 310.8"/><path d="M130.0,252.0C131.6 253.7 135.7 256.2 139.5 262.0C143.3 267.8 151.2 278.3 153.0 286.5C154.8 294.7 152.2 303.4 150.0 311.0C147.8 318.6 143.3 324.4 139.5 332.0C135.7 339.6 130.4 348.9 127.4 356.5C124.4 364.1 121.5 372.1 121.3 377.7C121.0 383.3 121.9 385.9 125.9 390.0C130.0 394.1 137.2 398.7 145.6 402.0C153.9 405.3 163.3 407.7 176.0 409.7C188.7 411.7 203.9 413.4 221.7 414.2C239.4 414.9 259.4 414.9 282.5 414.2C305.6 413.4 333.6 411.9 360.0 409.7C386.4 407.5 411.0 404.3 441.0 401.0C471.0 397.7 513.5 394.2 540.0 390.0C566.5 385.8 583.3 380.3 600.0 376.0C616.7 371.7 623.3 368.2 640.0 364.0C656.7 359.8 683.3 355.0 700.0 351.0C716.7 347.0 726.7 342.8 740.0 340.0C753.3 337.2 763.3 334.7 780.0 334.0C796.7 333.3 830.0 335.7 840.0 336.0"/><path d="M155.0,255.0C156.0 256.2 159.6 256.8 160.8 262.0C162.0 267.2 163.1 278.3 162.3 286.5C161.6 294.7 159.1 303.9 156.3 311.0C153.5 318.1 148.7 323.0 145.6 329.0C142.5 335.0 139.5 341.4 138.0 347.0C136.5 352.6 135.7 357.4 136.5 362.5C137.3 367.6 138.5 373.1 142.6 377.7C146.7 382.3 152.7 386.4 160.8 390.0C168.9 393.6 175.8 397.0 191.0 399.0C206.2 401.0 223.8 402.0 252.0 402.0C280.2 402.0 328.5 400.3 360.0 399.0C391.5 397.7 411.0 396.2 441.0 394.0C471.0 391.8 506.8 391.3 540.0 386.0C573.2 380.7 613.3 368.3 640.0 362.0C666.7 355.7 680.0 352.0 700.0 348.0C720.0 344.0 736.7 339.8 760.0 338.0C783.3 336.2 826.7 337.2 840.0 337.0"/><path d="M215.0,283.0C212.5 284.6 205.5 288.5 200.0 292.6C194.5 296.7 187.0 302.2 182.0 307.8C177.0 313.4 173.5 319.0 170.0 326.0C166.5 333.0 162.8 343.4 160.8 350.0C158.8 356.6 156.8 360.5 157.8 365.6C158.8 370.7 161.5 376.7 167.0 380.8C172.5 384.9 179.3 387.5 191.0 390.0C202.7 392.5 208.8 395.5 237.0 396.0C265.2 396.5 326.0 394.0 360.0 393.0C394.0 392.0 411.0 391.7 441.0 390.0C471.0 388.3 506.8 388.0 540.0 383.0C573.2 378.0 613.3 366.0 640.0 360.0C666.7 354.0 680.0 350.7 700.0 347.0C720.0 343.3 736.7 339.7 760.0 338.0C783.3 336.3 826.7 337.2 840.0 337.0"/><path d="M170.0,262.0C169.5 267.6 167.5 284.9 167.0 295.6C166.5 306.3 167.5 317.8 167.0 326.0C166.5 334.2 164.7 339.3 164.0 345.0C163.3 350.7 161.8 354.7 163.0 360.0C164.2 365.3 165.7 372.5 171.0 377.0C176.3 381.5 183.5 384.5 195.0 387.0C206.5 389.5 212.5 391.3 240.0 392.0C267.5 392.7 326.5 391.7 360.0 391.0C393.5 390.3 411.0 389.7 441.0 388.0C471.0 386.3 516.8 383.6 540.0 381.0C563.2 378.4 565.0 376.1 580.0 372.6C595.0 369.2 613.3 364.0 630.0 360.2C646.7 356.4 663.3 353.5 680.0 349.9C696.7 346.3 713.3 341.8 730.0 338.7C746.7 335.7 763.3 332.1 780.0 331.5C796.7 330.9 821.7 334.5 830.0 335.1"/><path d="M100.0,265.0C103.3 264.8 114.0 263.9 120.0 263.5C126.0 263.1 131.0 262.8 136.0 262.4C141.0 262.0 145.2 261.7 150.0 261.0C154.8 260.3 159.2 259.2 165.0 258.0C170.8 256.8 177.5 255.3 185.0 254.0C192.5 252.7 205.8 250.7 210.0 250.0"/><path d="M100.0,278.5C106.0 278.2 124.1 277.4 136.0 277.0C147.9 276.6 162.7 276.2 171.6 275.8C180.5 275.4 183.6 275.5 189.5 274.9C195.4 274.3 200.2 272.8 207.0 272.0C213.8 271.2 221.2 270.7 230.0 270.0C238.8 269.3 255.0 268.3 260.0 268.0"/><path d="M101.0,252.0C101.5 252.3 102.4 252.7 104.0 254.0C105.6 255.3 107.8 258.4 110.7 259.7C113.6 261.0 117.3 261.6 121.5 261.8C125.7 262.0 131.6 261.5 135.8 261.0C140.0 260.5 142.5 259.8 146.5 258.8C150.5 257.8 157.8 255.6 160.0 255.0"/><path d="M130.0,253.0C131.8 255.0 138.0 260.7 141.0 265.0C144.0 269.3 145.9 274.2 148.0 279.0C150.1 283.8 152.9 288.3 153.7 293.7C154.5 299.1 153.7 306.2 152.8 311.6C151.9 317.0 149.9 321.3 148.3 326.0C146.7 330.7 144.9 335.7 143.0 340.0C141.1 344.3 138.0 350.0 137.0 352.0"/><path d="M205.0,270.0C202.5 272.5 195.0 279.2 190.0 285.0C185.0 290.8 179.2 298.3 175.0 305.0C170.8 311.7 167.5 318.3 165.0 325.0C162.5 331.7 160.8 341.7 160.0 345.0"/><path d="M180.0,262.0C183.3 265.8 194.2 277.0 200.0 285.0C205.8 293.0 210.8 301.7 215.0 310.0C219.2 318.3 222.8 328.3 225.0 335.0C227.2 341.7 227.5 347.5 228.0 350.0"/><path d="M169.1,259.6C173.2 260.6 171.6 257.7 194.1 265.6C216.5 273.5 263.0 293.3 303.6 306.9C344.1 320.5 406.7 340.0 437.4 347.1C468.0 354.1 472.4 349.0 487.4 349.4C502.4 349.8 512.4 350.0 527.4 349.2C542.4 348.4 560.7 346.7 577.4 344.6C594.0 342.5 610.7 339.1 627.4 336.8C644.0 334.5 660.7 332.9 677.4 330.9C694.0 328.9 710.7 326.2 727.4 324.8C744.0 323.5 760.7 321.5 777.4 322.7C794.0 324.0 819.0 330.7 827.4 332.3"/><path d="M189.0,263.5C193.1 264.5 192.3 258.4 214.0 269.5C235.6 280.6 280.1 312.2 318.9 330.1C357.8 348.0 417.5 368.3 447.2 376.9C477.0 385.6 482.2 381.5 497.2 381.8C512.2 382.1 522.2 380.8 537.2 378.6C552.2 376.4 570.6 372.6 587.2 368.8C603.9 365.1 620.6 360.0 637.2 356.3C653.9 352.7 670.6 350.4 687.2 347.0C703.9 343.6 720.6 338.4 737.2 335.8C753.9 333.2 770.6 331.4 787.2 331.3C803.9 331.3 828.9 334.9 837.2 335.6"/><path d="M215.0,268.2C219.2 269.2 218.5 264.2 240.0 274.2C261.5 284.2 305.4 313.0 343.9 328.3C382.4 343.7 441.4 359.0 470.9 366.2C500.4 373.4 505.9 371.4 520.9 371.5C535.9 371.6 545.9 369.1 560.9 366.6C575.9 364.2 594.2 360.3 610.9 356.9C627.5 353.6 644.2 349.6 660.9 346.5C677.5 343.3 694.2 340.7 710.9 338.0C727.5 335.3 744.2 331.1 760.9 330.1C777.5 329.1 802.5 331.7 810.9 332.0"/><path d="M86.2,242.7C90.4 243.7 94.9 237.4 111.2 248.7C127.6 259.9 157.2 292.0 184.2 310.3C211.2 328.6 250.2 350.2 273.4 358.3C296.6 366.5 308.4 358.8 323.4 359.1C338.4 359.5 348.4 360.2 363.4 360.2C378.4 360.1 396.7 359.3 413.4 358.8C430.0 358.4 446.7 358.0 463.4 357.6C480.0 357.2 496.7 357.3 513.4 356.4C530.0 355.6 546.7 354.5 563.4 352.6C580.0 350.6 596.7 347.4 613.4 344.7C630.0 342.1 646.7 339.0 663.4 336.6C680.0 334.2 696.7 332.1 713.4 330.2C730.0 328.3 746.7 325.0 763.4 325.0C780.0 325.0 805.0 329.3 813.4 330.2"/><path d="M230.8,270.3C234.9 271.3 239.7 267.3 255.8 276.3C271.8 285.4 300.8 309.6 327.3 324.5C353.8 339.4 391.8 358.4 414.7 365.5C437.6 372.7 449.7 367.3 464.7 367.3C479.7 367.3 489.7 366.5 504.7 365.5C519.7 364.6 538.0 363.7 554.7 361.6C571.3 359.6 588.0 356.3 604.7 353.2C621.3 350.1 638.0 346.0 654.7 343.1C671.3 340.3 688.0 338.4 704.7 336.0C721.3 333.5 738.0 329.3 754.7 328.3C771.3 327.3 796.3 329.8 804.7 330.1"/><path d="M123.3,248.7C127.4 249.7 132.2 246.7 148.3 254.7C164.3 262.7 193.2 282.9 219.7 296.6C246.1 310.3 284.1 329.4 306.9 336.7C329.8 344.0 341.9 339.7 356.9 340.4C371.9 341.1 381.9 340.7 396.9 340.8C411.9 341.0 430.3 341.1 446.9 341.2C463.6 341.4 480.3 341.7 496.9 341.8C513.6 341.8 530.3 342.5 546.9 341.6C563.6 340.8 580.3 338.6 596.9 336.5C613.6 334.4 630.3 330.9 646.9 329.0C663.6 327.2 680.3 326.8 696.9 325.3C713.6 323.9 730.3 320.4 746.9 320.3C763.6 320.1 788.6 323.8 796.9 324.5"/><path d="M136.4,251.7C140.6 252.7 140.3 246.4 161.4 257.7C182.6 269.1 225.7 301.9 263.5 319.8C301.2 337.7 359.0 356.7 388.1 364.9C417.2 373.2 423.1 368.9 438.1 369.4C453.1 369.8 463.1 368.2 478.1 367.5C493.1 366.8 511.5 366.7 528.1 365.2C544.8 363.7 561.5 361.2 578.1 358.4C594.8 355.6 611.5 351.4 628.1 348.4C644.8 345.4 661.5 343.1 678.1 340.3C694.8 337.5 711.5 334.0 728.1 331.8C744.8 329.6 761.5 326.8 778.1 327.1C794.8 327.4 819.8 332.6 828.1 333.7"/><path d="M209.9,267.3C214.0 268.3 218.8 262.2 234.9 273.3C251.0 284.3 280.0 315.6 306.5 333.7C333.1 351.8 371.2 373.4 394.1 382.0C417.0 390.6 429.1 385.3 444.1 385.3C459.1 385.3 469.1 383.3 484.1 382.1C499.1 380.9 517.4 380.4 534.1 378.2C550.7 375.9 567.4 372.5 584.1 368.9C600.7 365.3 617.4 360.3 634.1 356.7C650.7 353.0 667.4 350.6 684.1 347.2C700.7 343.8 717.4 339.0 734.1 336.3C750.7 333.6 767.4 331.1 784.1 330.9C800.7 330.8 825.7 334.5 834.1 335.3"/><path d="M192.8,264.2C197.0 265.2 201.0 261.8 217.8 270.2C234.7 278.6 265.7 300.2 293.8 314.6C321.9 328.9 362.8 348.5 386.6 356.4C410.4 364.2 421.6 361.2 436.6 361.9C451.6 362.6 461.6 361.1 476.6 360.6C491.6 360.1 509.9 360.3 526.6 359.1C543.3 357.9 559.9 355.8 576.6 353.3C593.3 350.8 609.9 347.0 626.6 344.2C643.3 341.5 659.9 339.3 676.6 336.8C693.3 334.4 709.9 331.2 726.6 329.3C743.3 327.4 759.9 324.9 776.6 325.5C793.3 326.1 818.3 331.7 826.6 333.0"/><path d="M165.0,258.6C169.1 259.6 173.6 253.5 190.0 264.6C206.4 275.7 236.2 306.9 263.4 325.0C290.6 343.1 329.9 364.4 353.2 373.2C376.5 382.0 388.2 377.4 403.2 377.8C418.2 378.1 428.2 376.2 443.2 375.3C458.2 374.5 476.6 373.4 493.2 372.4C509.9 371.3 526.6 371.1 543.2 369.1C559.9 367.1 576.6 363.6 593.2 360.2C609.9 356.8 626.6 352.0 643.2 348.8C659.9 345.6 676.6 343.9 693.2 341.0C709.9 338.1 726.6 333.2 743.2 331.3C759.9 329.4 784.9 330.1 793.2 329.8"/><path d="M213.5,267.9C217.7 268.9 217.9 265.4 238.5 273.9C259.1 282.4 300.7 304.7 337.3 318.9C373.9 333.1 429.6 352.2 458.1 358.9C486.6 365.6 493.1 359.5 508.1 359.2C523.1 358.9 533.1 358.7 548.1 357.1C563.1 355.6 581.4 352.6 598.1 349.8C614.8 346.9 631.4 342.7 648.1 340.1C664.8 337.5 681.4 336.3 698.1 334.0C714.8 331.7 731.4 327.5 748.1 326.5C764.8 325.5 789.8 327.8 798.1 328.0"/><path d="M184.8,262.8C189.0 263.8 193.6 259.8 209.8 268.8C226.1 277.8 255.5 303.2 282.3 316.8C309.1 330.4 347.8 343.9 370.8 350.4C393.9 356.9 405.8 355.0 420.8 355.8C435.8 356.6 445.8 355.3 460.8 355.0C475.8 354.7 494.2 354.8 510.8 354.2C527.5 353.5 544.2 352.7 560.8 350.9C577.5 349.1 594.2 346.1 610.8 343.5C627.5 340.9 644.2 337.8 660.8 335.5C677.5 333.1 694.2 331.4 710.8 329.5C727.5 327.7 744.2 324.4 760.8 324.4C777.5 324.4 802.5 328.6 810.8 329.4"/><path d="M216.5,268.5C220.7 269.5 224.7 264.1 241.5 274.5C258.4 284.8 289.5 312.8 317.7 330.6C345.9 348.5 387.0 372.4 410.8 381.8C434.7 391.3 445.8 387.0 460.8 387.4C475.8 387.7 485.8 385.4 500.8 383.9C515.8 382.4 534.2 380.9 550.8 378.3C567.5 375.6 584.2 371.7 600.8 367.8C617.5 364.0 634.2 358.8 650.8 355.1C667.5 351.4 684.2 349.0 700.8 345.6C717.5 342.3 734.2 336.9 750.8 334.8C767.5 332.6 792.5 333.2 800.8 332.8"/><path d="M204.8,266.4C209.0 267.4 207.1 261.3 229.8 272.4C252.5 283.4 299.8 314.5 341.0 332.7C382.2 350.9 445.9 373.2 476.9 381.7C507.9 390.1 511.9 384.4 526.9 383.5C541.9 382.7 551.9 379.7 566.9 376.6C581.9 373.5 600.2 368.8 616.9 364.9C633.6 361.0 650.2 357.0 666.9 353.2C683.6 349.5 700.2 345.9 716.9 342.6C733.6 339.3 750.2 334.9 766.9 333.5C783.6 332.1 808.6 334.1 816.9 334.2"/><path d="M231.9,270.4C236.1 271.4 239.2 268.0 256.9 276.4C274.7 284.8 308.3 307.6 338.5 321.0C368.8 334.3 413.3 350.3 438.3 356.4C463.2 362.4 473.3 357.2 488.3 357.2C503.3 357.2 513.3 357.4 528.3 356.3C543.3 355.2 561.6 353.1 578.3 350.7C594.9 348.3 611.6 344.5 628.3 341.9C644.9 339.3 661.6 337.4 678.3 335.0C694.9 332.7 711.6 329.6 728.3 327.8C744.9 326.1 761.6 323.8 778.3 324.7C794.9 325.6 819.9 331.7 828.3 333.1"/><path d="M158.0,256.9C162.1 257.9 166.5 253.5 183.0 262.9C199.4 272.3 229.4 298.9 256.7 313.1C284.0 327.4 323.4 341.5 346.7 348.3C370.1 355.1 381.7 353.0 396.7 353.8C411.7 354.6 421.7 353.4 436.7 353.2C451.7 353.0 470.1 352.7 486.7 352.5C503.4 352.3 520.1 353.0 536.7 351.9C553.4 350.8 570.1 348.3 586.7 345.8C603.4 343.3 620.1 339.4 636.7 337.1C653.4 334.7 670.1 333.7 686.7 331.6C703.4 329.5 720.1 325.8 736.7 324.7C753.4 323.5 770.1 323.0 786.7 324.7C803.4 326.4 828.4 333.2 836.7 334.9"/><path d="M238.3,270.8C242.5 271.8 242.5 266.9 263.3 276.8C284.2 286.7 326.4 314.0 363.5 330.4C400.5 346.9 457.1 367.0 485.8 375.4C514.6 383.8 520.8 381.2 535.8 380.8C550.8 380.4 560.8 376.3 575.8 373.0C590.8 369.7 609.2 364.7 625.8 360.9C642.5 357.1 659.2 353.9 675.8 350.3C692.5 346.7 709.2 342.5 725.8 339.5C742.5 336.4 759.2 332.6 775.8 331.8C792.5 331.0 817.5 334.2 825.8 334.7"/><path d="M106.5,246.0C110.6 247.0 114.8 244.6 131.5 252.0C148.1 259.3 178.7 278.2 206.5 289.9C234.2 301.6 274.5 316.8 298.1 322.3C321.7 327.7 333.1 322.2 348.1 322.6C363.1 323.0 373.1 324.0 388.1 324.7C403.1 325.3 421.4 325.9 438.1 326.5C454.8 327.1 471.4 327.8 488.1 328.5C504.8 329.2 521.4 330.9 538.1 330.7C554.8 330.5 571.4 328.8 588.1 327.3C604.8 325.7 621.4 322.8 638.1 321.4C654.8 320.1 671.4 320.2 688.1 319.2C704.8 318.2 721.4 315.5 738.1 315.6C754.8 315.6 771.4 316.5 788.1 319.7C804.8 322.9 829.8 332.4 838.1 334.9"/><path d="M197.6,265.1C201.8 266.1 205.8 261.2 222.6 271.1C239.4 281.0 270.3 308.4 298.3 324.4C326.4 340.4 367.1 359.3 390.9 367.1C414.6 374.9 425.9 370.9 440.9 371.2C455.9 371.6 465.9 370.0 480.9 369.2C495.9 368.5 514.2 368.4 530.9 366.7C547.5 365.1 564.2 362.3 580.9 359.4C597.5 356.4 614.2 352.1 630.9 349.0C647.5 345.9 664.2 343.7 680.9 340.9C697.5 338.0 714.2 334.2 730.9 332.0C747.5 329.7 764.2 327.2 780.9 327.6C797.5 327.9 822.5 333.1 830.9 334.2"/><path d="M197.4,265.0C201.6 266.0 201.1 262.0 222.4 271.0C243.7 280.1 287.2 304.8 325.3 319.2C363.4 333.6 421.7 350.9 451.0 357.6C480.3 364.2 486.0 359.0 501.0 359.1C516.0 359.1 526.0 359.3 541.0 357.9C556.0 356.5 574.3 353.4 591.0 350.6C607.7 347.7 624.3 343.4 641.0 340.8C657.7 338.1 674.3 337.0 691.0 334.7C707.7 332.3 724.3 328.0 741.0 326.7C757.7 325.4 782.7 326.8 791.0 326.9"/><path d="M325.0,273.0C320.8 274.0 313.5 272.7 300.0 279.0C286.5 285.3 257.7 301.3 243.9 310.6C230.1 319.8 223.2 326.9 217.2 334.4C211.2 342.0 209.0 350.4 208.0 356.0C207.0 361.6 207.7 364.5 211.0 368.0C214.3 371.5 218.7 374.3 228.0 377.0C237.3 379.7 253.9 382.8 267.0 384.0C280.2 385.2 292.0 384.2 307.0 384.2C322.0 384.2 340.4 384.4 357.0 383.8C373.7 383.2 390.4 381.7 407.0 380.6C423.7 379.5 440.4 378.4 457.0 377.3C473.7 376.2 490.4 375.5 507.0 374.1C523.7 372.7 540.4 371.3 557.0 368.8C573.7 366.4 590.4 362.6 607.0 359.2C623.7 355.7 640.4 351.4 657.0 348.2C673.7 344.9 690.4 342.5 707.0 339.7C723.7 336.8 740.4 332.3 757.0 331.0C773.7 329.7 798.7 331.7 807.0 331.8"/><path d="M355.0,276.8C350.8 277.8 346.2 276.3 330.0 282.8C313.8 289.2 275.7 305.7 258.0 315.2C240.3 324.8 231.5 332.0 223.8 339.8C216.1 347.6 213.5 356.6 212.0 362.0C210.5 367.4 211.7 369.1 214.5 372.0C217.3 375.0 220.9 377.3 228.7 379.6C236.5 381.8 249.2 384.4 261.3 385.4C273.4 386.4 286.3 385.7 301.3 385.7C316.3 385.7 334.6 385.8 351.3 385.2C368.0 384.6 384.6 383.3 401.3 382.2C418.0 381.2 434.6 379.9 451.3 378.8C468.0 377.7 484.6 376.8 501.3 375.5C518.0 374.1 534.6 373.1 551.3 370.8C568.0 368.4 584.6 364.9 601.3 361.4C618.0 357.9 634.6 353.1 651.3 349.7C668.0 346.4 684.6 344.4 701.3 341.4C718.0 338.4 734.6 333.5 751.3 331.9C768.0 330.2 793.0 331.5 801.3 331.4"/><path d="M305.0,271.8C300.8 272.8 290.7 271.9 280.0 277.8C269.3 283.7 250.6 298.7 241.0 307.4C231.4 316.1 226.6 322.7 222.4 329.8C218.2 336.9 216.5 344.3 216.0 350.0C215.5 355.7 215.6 360.0 219.5 364.2C223.5 368.3 228.6 371.7 239.6 374.8C250.7 378.0 271.4 381.8 285.7 383.1C300.1 384.4 310.7 383.1 325.7 382.8C340.7 382.6 359.1 382.3 375.7 381.6C392.4 380.9 409.1 379.4 425.7 378.4C442.4 377.3 459.1 376.2 475.7 375.2C492.4 374.1 509.1 373.8 525.7 372.1C542.4 370.3 559.1 367.7 575.7 364.7C592.4 361.7 609.1 357.3 625.7 353.9C642.4 350.6 659.1 347.8 675.7 344.6C692.4 341.5 709.1 337.8 725.7 335.2C742.4 332.7 759.1 329.4 775.7 329.2C792.4 328.9 817.4 333.1 825.7 333.9"/><path d="M385.0,282.0C380.8 283.0 378.2 281.7 360.0 288.0C341.8 294.3 296.5 310.6 275.8 320.0C255.1 329.3 244.8 336.5 235.8 344.2C226.8 351.8 223.7 360.0 222.0 366.0C220.3 372.0 221.6 376.0 225.5 380.1C229.4 384.2 234.5 387.5 245.4 390.6C256.4 393.7 276.8 397.6 291.1 398.8C305.4 400.0 316.1 398.3 331.1 397.6C346.1 397.0 364.5 396.1 381.1 394.9C397.8 393.7 414.5 391.9 431.1 390.5C447.8 389.0 464.5 387.5 481.1 386.1C497.8 384.6 514.5 384.0 531.1 381.7C547.8 379.4 564.5 376.0 581.1 372.3C597.8 368.7 614.5 363.6 631.1 359.9C647.8 356.1 664.5 353.2 681.1 349.6C697.8 346.1 714.5 341.4 731.1 338.4C747.8 335.4 764.5 332.1 781.1 331.6C797.8 331.0 822.8 334.6 831.1 335.2"/><path d="M335.0,274.2C330.8 275.2 322.3 273.9 310.0 280.2C297.7 286.6 273.2 302.8 261.2 312.1C249.2 321.5 243.2 328.6 238.0 336.2C232.8 343.9 230.9 352.7 230.0 358.0C229.1 363.3 229.7 365.1 232.5 368.0C235.3 370.9 238.8 373.2 246.6 375.4C254.3 377.6 266.9 380.3 278.9 381.2C291.0 382.2 303.9 381.3 318.9 381.2C333.9 381.0 352.3 381.1 368.9 380.5C385.6 379.8 402.3 378.4 418.9 377.4C435.6 376.3 452.3 375.3 468.9 374.3C485.6 373.3 502.3 372.9 518.9 371.3C535.6 369.8 552.3 367.7 568.9 364.9C585.6 362.1 602.3 358.0 618.9 354.7C635.6 351.4 652.3 348.1 668.9 345.0C685.6 341.9 702.3 338.8 718.9 336.2C735.6 333.6 752.3 329.9 768.9 329.4C785.6 328.8 810.6 332.3 818.9 332.9"/><path d="M375.0,280.0C370.8 281.0 364.8 280.8 350.0 286.0C335.2 291.2 301.7 303.7 285.9 311.0C270.2 318.3 262.3 323.9 255.5 329.9C248.7 335.9 246.3 342.5 245.0 347.0C243.7 351.5 244.7 353.8 247.4 356.7C250.1 359.5 253.6 361.7 261.1 363.9C268.6 366.0 280.6 368.5 292.5 369.5C304.4 370.5 317.5 370.1 332.5 370.1C347.5 370.0 365.8 369.9 382.5 369.4C399.1 369.0 415.8 368.0 432.5 367.3C449.1 366.5 465.8 365.8 482.5 365.1C499.1 364.5 515.8 364.7 532.5 363.1C549.1 361.6 565.8 358.9 582.5 356.1C599.1 353.2 615.8 349.0 632.5 346.0C649.1 343.1 665.8 341.2 682.5 338.6C699.1 335.9 715.8 332.1 732.5 330.1C749.1 328.2 765.8 326.1 782.5 326.8C799.1 327.5 824.1 333.1 832.5 334.3"/><path d="M405.0,286.0C400.8 287.0 396.9 286.9 380.0 292.0C363.1 297.1 322.5 309.4 303.8 316.6C285.0 323.8 275.6 329.3 267.5 335.2C259.4 341.1 256.6 347.3 255.0 352.0C253.4 356.7 254.7 360.1 257.9 363.5C261.1 366.8 265.2 369.6 274.2 372.1C283.1 374.7 298.6 377.7 311.5 378.8C324.4 379.9 336.5 379.2 351.5 378.8C366.5 378.4 384.9 377.3 401.5 376.4C418.2 375.5 434.9 374.5 451.5 373.5C468.2 372.6 484.9 371.9 501.5 370.7C518.2 369.5 534.9 368.7 551.5 366.6C568.2 364.4 584.9 361.0 601.5 357.7C618.2 354.4 634.9 349.9 651.5 346.7C668.2 343.6 684.9 341.8 701.5 339.1C718.2 336.3 734.9 331.6 751.5 330.2C768.2 328.8 793.2 330.5 801.5 330.6"/><path d="M415.0,288.0C410.8 289.0 404.8 290.0 390.0 294.0C375.2 298.0 341.7 306.8 325.9 312.0C310.2 317.3 302.3 321.4 295.5 325.7C288.7 330.0 286.2 333.9 285.0 338.0C283.8 342.1 284.7 346.6 288.0 350.1C291.4 353.7 295.8 356.5 305.2 359.2C314.6 361.9 331.4 365.2 344.6 366.3C357.9 367.4 369.6 366.1 384.6 365.7C399.6 365.3 418.0 364.4 434.6 363.8C451.3 363.2 468.0 362.6 484.6 362.0C501.3 361.5 518.0 361.8 534.6 360.4C551.3 358.9 568.0 356.2 584.6 353.4C601.3 350.6 618.0 346.4 634.6 343.6C651.3 340.8 668.0 339.2 684.6 336.7C701.3 334.2 718.0 330.3 734.6 328.6C751.3 326.9 768.0 325.4 784.6 326.4C801.3 327.5 826.3 333.3 834.6 334.6"/><path d="M425.0,290.0C420.8 291.0 414.8 291.4 400.0 296.0C385.2 300.6 351.7 311.1 335.9 317.3C320.2 323.6 312.3 328.3 305.5 333.4C298.7 338.6 296.3 343.6 295.0 348.0C293.7 352.4 294.7 356.4 298.0 359.9C301.3 363.4 305.6 366.2 314.8 368.8C324.1 371.5 340.4 374.9 353.5 375.8C366.6 376.6 378.5 374.7 393.5 374.0C408.5 373.3 426.8 372.2 443.5 371.4C460.2 370.5 476.8 369.7 493.5 368.8C510.2 367.9 526.8 367.8 543.5 365.9C560.2 364.0 576.8 360.7 593.5 357.5C610.2 354.2 626.8 349.5 643.5 346.5C660.2 343.5 676.8 341.9 693.5 339.2C710.2 336.4 726.8 331.7 743.5 330.0C760.2 328.3 785.2 329.3 793.5 329.2"/><path d="M295.0,271.2C290.8 272.2 280.7 269.9 270.0 277.2C259.3 284.5 240.6 304.1 231.0 315.2C221.4 326.4 216.6 334.9 212.4 344.0C208.2 353.1 206.6 363.8 206.0 370.0C205.4 376.2 205.7 377.9 208.8 381.2C211.9 384.5 216.0 387.1 224.7 389.6C233.4 392.1 248.4 395.1 261.2 396.2C273.9 397.2 286.2 396.1 301.2 395.9C316.2 395.6 334.5 395.4 351.2 394.6C367.8 393.8 384.5 392.2 401.2 390.9C417.8 389.6 434.5 388.1 451.2 386.7C467.8 385.3 484.5 384.1 501.2 382.5C517.8 380.9 534.5 379.6 551.2 377.0C567.8 374.4 584.5 370.5 601.2 366.7C617.8 362.9 634.5 357.8 651.2 354.2C667.8 350.5 684.5 348.2 701.2 344.9C717.8 341.6 734.5 336.3 751.2 334.3C767.8 332.2 792.8 332.9 801.2 332.6"/><path d="M365.0,278.0C360.8 279.0 354.8 277.0 340.0 284.0C325.2 291.0 291.7 309.5 275.9 320.1C260.2 330.6 252.3 338.7 245.5 347.4C238.7 356.0 236.2 365.8 235.0 372.0C233.8 378.2 234.7 380.9 238.1 384.6C241.6 388.3 246.2 391.2 256.0 394.0C265.8 396.8 283.4 400.4 296.9 401.4C310.4 402.4 321.9 400.8 336.9 400.0C351.9 399.3 370.2 398.1 386.9 396.7C403.6 395.4 420.2 393.7 436.9 392.1C453.6 390.6 470.2 389.0 486.9 387.5C503.6 386.0 520.2 385.4 536.9 382.9C553.6 380.4 570.2 376.5 586.9 372.6C603.6 368.7 620.2 363.4 636.9 359.5C653.6 355.7 670.2 353.2 686.9 349.5C703.6 345.9 720.2 340.6 736.9 337.7C753.6 334.9 770.2 332.7 786.9 332.4C803.6 332.0 828.6 335.2 836.9 335.7"/><path d="M445.0,297.8C440.8 298.8 436.4 299.1 420.0 303.8C403.6 308.5 364.8 319.5 346.8 326.0C328.8 332.5 319.8 337.5 312.0 342.8C304.2 348.2 301.5 353.6 300.0 358.0C298.5 362.4 299.7 366.2 302.9 369.5C306.1 372.9 310.2 375.6 319.2 378.2C328.2 380.7 343.7 384.2 356.7 384.9C369.6 385.6 381.7 383.3 396.7 382.3C411.7 381.3 430.0 380.1 446.7 378.9C463.3 377.8 480.0 376.8 496.7 375.6C513.3 374.3 530.0 373.7 546.7 371.5C563.3 369.3 580.0 365.7 596.7 362.2C613.3 358.7 630.0 353.7 646.7 350.4C663.3 347.1 680.0 345.2 696.7 342.2C713.3 339.1 730.0 334.1 746.7 332.2C763.3 330.3 788.3 331.1 796.7 330.9"/><path d="M345.0,275.5C340.8 276.5 330.1 276.2 320.0 281.5C309.9 286.8 293.3 299.6 284.6 307.1C275.9 314.6 271.6 320.4 267.8 326.5C264.0 332.6 262.5 339.2 262.0 344.0C261.5 348.8 261.7 352.2 264.9 355.5C268.1 358.9 272.3 361.6 281.2 364.2C290.2 366.8 305.9 369.7 318.8 370.9C331.7 372.2 343.8 371.7 358.8 371.4C373.8 371.2 392.1 370.0 408.8 369.2C425.4 368.5 442.1 367.7 458.8 367.0C475.4 366.2 492.1 365.9 508.8 364.8C525.4 363.7 542.1 362.6 558.8 360.5C575.4 358.3 592.1 354.9 608.8 351.9C625.4 348.8 642.1 345.1 658.8 342.3C675.4 339.4 692.1 337.3 708.8 334.9C725.4 332.5 742.1 328.6 758.8 327.9C775.4 327.2 800.4 330.2 808.8 330.6"/><path d="M455.0,301.7C450.8 302.7 448.4 303.0 430.0 307.7C411.6 312.4 365.6 323.5 344.6 330.0C323.6 336.5 313.1 341.5 304.0 346.8C294.9 352.1 291.9 357.8 290.0 362.0C288.1 366.2 289.7 368.9 292.4 371.8C295.1 374.6 298.7 376.9 306.3 379.1C313.8 381.2 326.0 384.1 338.0 384.8C349.9 385.5 363.0 384.1 378.0 383.3C393.0 382.5 411.3 381.1 428.0 379.9C444.6 378.8 461.3 377.7 478.0 376.6C494.6 375.5 511.3 375.2 528.0 373.3C544.6 371.5 561.3 368.6 578.0 365.5C594.6 362.3 611.3 357.8 628.0 354.4C644.6 351.0 661.3 348.3 678.0 345.1C694.6 341.9 711.3 338.0 728.0 335.4C744.6 332.7 761.3 329.5 778.0 329.4C794.6 329.2 819.6 333.4 828.0 334.3"/><path d="M465.0,305.6C460.8 306.6 457.2 307.8 440.0 311.6C422.8 315.4 381.1 323.3 361.9 328.2C342.7 333.0 333.1 336.7 324.8 340.7C316.5 344.7 313.6 348.0 312.0 352.0C310.4 356.0 311.7 360.8 315.1 364.4C318.6 368.1 323.1 371.0 332.7 373.8C342.4 376.5 359.8 380.3 373.2 381.0C386.6 381.8 398.2 379.4 413.2 378.5C428.2 377.6 446.5 376.4 463.2 375.4C479.9 374.3 496.5 373.8 513.2 372.3C529.9 370.8 546.5 369.1 563.2 366.5C579.9 363.9 596.5 360.0 613.2 356.6C629.9 353.2 646.5 349.5 663.2 346.3C679.9 343.2 696.5 340.4 713.2 337.7C729.9 335.0 746.5 330.9 763.2 330.0C779.9 329.1 804.9 331.9 813.2 332.3"/><path d="M375.0,280.0C370.8 281.0 359.2 279.8 350.0 286.0C340.8 292.2 327.0 308.0 319.5 317.2C312.0 326.3 308.2 333.2 305.0 340.7C301.8 348.2 300.4 356.8 300.0 362.0C299.6 367.2 299.7 369.1 302.5 372.0C305.3 374.9 308.9 377.3 316.7 379.5C324.4 381.7 337.1 384.7 349.2 385.3C361.2 385.9 374.2 384.1 389.2 383.2C404.2 382.3 422.5 380.9 439.2 379.8C455.8 378.6 472.5 377.5 489.2 376.4C505.8 375.2 522.5 375.1 539.2 373.0C555.8 370.9 572.5 367.3 589.2 363.8C605.8 360.3 622.5 355.3 639.2 351.9C655.8 348.5 672.5 346.7 689.2 343.5C705.8 340.4 722.5 335.3 739.2 333.1C755.8 330.9 772.5 329.7 789.2 330.2C805.8 330.6 830.8 334.9 839.2 335.8"/><path d="M415.0,288.0C410.8 289.0 401.5 287.9 390.0 294.0C378.5 300.1 356.9 315.5 346.1 324.3C335.3 333.2 329.9 340.0 325.2 347.3C320.5 354.6 318.6 362.3 318.0 368.0C317.4 373.7 317.6 377.7 321.4 381.7C325.2 385.7 330.2 389.0 340.9 392.0C351.5 395.1 371.4 399.3 385.5 400.0C399.6 400.7 410.5 397.5 425.5 396.1C440.5 394.6 458.8 392.8 475.5 391.2C492.1 389.5 508.8 388.6 525.5 386.3C542.1 383.9 558.8 380.7 575.5 377.1C592.1 373.4 608.8 368.4 625.5 364.4C642.1 360.4 658.8 356.9 675.5 353.1C692.1 349.3 708.8 345.0 725.5 341.6C742.1 338.3 758.8 334.3 775.5 333.2C792.1 332.1 817.1 334.7 825.5 335.1"/><path d="M286.6,273.3C284.1 274.0 277.2 270.4 271.6 277.3C266.0 284.1 260.7 301.2 253.2 314.4C245.7 327.7 229.8 346.4 226.8 356.8C223.7 367.2 230.2 372.0 234.9 376.7C239.6 381.3 243.9 383.1 254.7 384.8C265.5 386.4 285.6 386.5 299.7 386.8C313.9 387.0 324.7 386.7 339.7 386.3C354.7 385.8 373.1 384.9 389.7 383.9C406.4 383.0 423.1 381.6 439.7 380.4C456.4 379.3 473.1 378.1 489.7 377.0C506.4 375.8 523.1 375.7 539.7 373.6C556.4 371.4 573.1 367.7 589.7 364.2C606.4 360.6 623.1 355.6 639.7 352.2C656.4 348.8 673.1 346.9 689.7 343.8C706.4 340.6 723.1 335.5 739.7 333.2C756.4 331.0 773.1 329.9 789.7 330.4C806.4 330.8 831.4 335.0 839.7 335.9"/><path d="M275.2,272.6C272.7 273.3 269.4 268.9 260.2 276.6C251.0 284.3 234.8 304.5 220.1 319.0C205.4 333.4 179.1 353.8 172.0 363.5C165.0 373.2 174.4 373.9 177.6 377.0C180.7 380.2 181.3 381.3 191.1 382.5C200.8 383.8 221.9 384.1 236.1 384.5C250.3 385.0 261.1 385.4 276.1 385.5C291.1 385.6 309.4 385.5 326.1 385.2C342.8 384.9 359.4 384.6 376.1 383.8C392.8 383.0 409.4 381.5 426.1 380.3C442.8 379.2 459.4 378.1 476.1 377.0C492.8 375.9 509.4 375.5 526.1 373.7C542.8 371.8 559.4 369.1 576.1 366.0C592.8 362.9 609.4 358.4 626.1 355.0C642.8 351.6 659.4 348.7 676.1 345.5C692.8 342.4 709.4 338.5 726.1 335.9C742.8 333.2 759.4 329.9 776.1 329.6C792.8 329.3 817.8 333.3 826.1 334.1"/><path d="M760.0,336.0C765.0 335.7 783.3 334.0 790.0 334.0C796.7 334.0 799.0 334.8 800.0 336.0C801.0 337.2 797.7 339.3 796.0 341.0C794.3 342.7 791.3 344.5 790.0 346.0C788.7 347.5 788.0 349.0 788.0 350.0C788.0 351.0 789.3 352.0 790.0 352.0C790.7 352.0 791.7 350.3 792.0 350.0"/></g>
<path d="M115.0,222.0C117.5 222.0 124.2 222.1 130.0 222.0C135.8 221.9 143.3 222.2 150.0 221.5C156.7 220.8 163.3 219.0 170.0 217.5C176.7 216.0 185.2 213.8 190.0 212.5C194.8 211.2 197.5 210.0 199.0 209.5" fill="none" stroke="#00ffff" stroke-width="9" stroke-linecap="round"/><path d="M109.0,222.0h12.0M115.0,216.0v12.0M110.8,217.8l8.5,8.5M110.8,226.2l8.5,-8.5M111.5,222.0h12.0M117.5,216.0v12.0M113.3,217.8l8.5,8.5M113.3,226.2l8.5,-8.5M114.0,222.0h12.0M120.0,216.0v12.0M115.8,217.8l8.5,8.5M115.8,226.2l8.5,-8.5M116.5,222.0h12.0M122.5,216.0v12.0M118.3,217.8l8.5,8.5M118.3,226.2l8.5,-8.5M119.0,222.0h12.0M125.0,216.0v12.0M120.8,217.8l8.5,8.5M120.8,226.2l8.5,-8.5M121.5,222.0h12.0M127.5,216.0v12.0M123.3,217.8l8.5,8.5M123.3,226.2l8.5,-8.5M124.0,222.0h12.0M130.0,216.0v12.0M125.8,217.8l8.5,8.5M125.8,226.2l8.5,-8.5M126.5,221.9h12.0M132.5,215.9v12.0M128.3,217.7l8.5,8.5M128.3,226.2l8.5,-8.5M129.0,221.9h12.0M135.0,215.9v12.0M130.8,217.6l8.5,8.5M130.8,226.1l8.5,-8.5M131.5,221.8h12.0M137.5,215.8v12.0M133.3,217.6l8.5,8.5M133.3,226.1l8.5,-8.5M134.0,221.8h12.0M140.0,215.8v12.0M135.8,217.5l8.5,8.5M135.8,226.0l8.5,-8.5M136.5,221.7h12.0M142.5,215.7v12.0M138.3,217.4l8.5,8.5M138.3,225.9l8.5,-8.5M139.0,221.6h12.0M145.0,215.6v12.0M140.8,217.4l8.5,8.5M140.8,225.9l8.5,-8.5M141.5,221.6h12.0M147.5,215.6v12.0M143.3,217.3l8.5,8.5M143.3,225.8l8.5,-8.5M144.0,221.5h12.0M150.0,215.5v12.0M145.8,217.3l8.5,8.5M145.8,225.7l8.5,-8.5M146.4,221.0h12.0M152.4,215.0v12.0M148.2,216.8l8.5,8.5M148.2,225.3l8.5,-8.5M148.9,220.5h12.0M154.9,214.5v12.0M150.7,216.3l8.5,8.5M150.7,224.8l8.5,-8.5M151.3,220.0h12.0M157.3,214.0v12.0M153.1,215.8l8.5,8.5M153.1,224.3l8.5,-8.5M153.8,219.5h12.0M159.8,213.5v12.0M155.6,215.3l8.5,8.5M155.6,223.8l8.5,-8.5M156.3,219.0h12.0M162.3,213.0v12.0M158.0,214.8l8.5,8.5M158.0,223.3l8.5,-8.5M158.7,218.6h12.0M164.7,212.6v12.0M160.5,214.3l8.5,8.5M160.5,222.8l8.5,-8.5M161.2,218.1h12.0M167.2,212.1v12.0M162.9,213.8l8.5,8.5M162.9,222.3l8.5,-8.5M163.6,217.6h12.0M169.6,211.6v12.0M165.4,213.3l8.5,8.5M165.4,221.8l8.5,-8.5M166.0,217.0h12.0M172.0,211.0v12.0M167.8,212.7l8.5,8.5M167.8,221.2l8.5,-8.5M168.5,216.4h12.0M174.5,210.4v12.0M170.2,212.1l8.5,8.5M170.2,220.6l8.5,-8.5M170.9,215.8h12.0M176.9,209.8v12.0M172.6,211.5l8.5,8.5M172.6,220.0l8.5,-8.5M173.3,215.2h12.0M179.3,209.2v12.0M175.1,210.9l8.5,8.5M175.1,219.4l8.5,-8.5M175.7,214.6h12.0M181.7,208.6v12.0M177.5,210.3l8.5,8.5M177.5,218.8l8.5,-8.5M178.2,214.0h12.0M184.2,208.0v12.0M179.9,209.7l8.5,8.5M179.9,218.2l8.5,-8.5M180.6,213.4h12.0M186.6,207.4v12.0M182.3,209.1l8.5,8.5M182.3,217.6l8.5,-8.5M183.0,212.7h12.0M189.0,206.7v12.0M184.8,208.5l8.5,8.5M184.8,217.0l8.5,-8.5M185.4,212.0h12.0M191.4,206.0v12.0M187.2,207.8l8.5,8.5M187.2,216.3l8.5,-8.5M187.8,211.2h12.0M193.8,205.2v12.0M189.5,207.0l8.5,8.5M189.5,215.5l8.5,-8.5M190.1,210.5h12.0M196.1,204.5v12.0M191.9,206.2l8.5,8.5M191.9,214.7l8.5,-8.5M192.5,209.7h12.0M198.5,203.7v12.0M194.3,205.4l8.5,8.5M194.3,213.9l8.5,-8.5" fill="none" stroke="#00ffff" stroke-width="1.3"/>
<path d="M495.0,240.5C509.2 242.8 551.5 249.8 580.0 254.5C608.5 259.2 651.7 266.2 666.0 268.5" fill="none" stroke="#ff0000" stroke-width="10" stroke-linecap="round"/><path d="M488.5,240.5h13.0M495.0,234.0v13.0M490.4,235.9l9.2,9.2M490.4,245.1l9.2,-9.2M491.0,240.9h13.0M497.5,234.4v13.0M492.9,236.3l9.2,9.2M492.9,245.5l9.2,-9.2M493.4,241.3h13.0M499.9,234.8v13.0M495.3,236.7l9.2,9.2M495.3,245.9l9.2,-9.2M495.9,241.7h13.0M502.4,235.2v13.0M497.8,237.1l9.2,9.2M497.8,246.3l9.2,-9.2M498.4,242.1h13.0M504.9,235.6v13.0M500.3,237.5l9.2,9.2M500.3,246.7l9.2,-9.2M500.8,242.5h13.0M507.3,236.0v13.0M502.7,237.9l9.2,9.2M502.7,247.1l9.2,-9.2M503.3,242.9h13.0M509.8,236.4v13.0M505.2,238.3l9.2,9.2M505.2,247.5l9.2,-9.2M505.8,243.3h13.0M512.3,236.8v13.0M507.7,238.7l9.2,9.2M507.7,247.9l9.2,-9.2M508.2,243.8h13.0M514.7,237.3v13.0M510.1,239.2l9.2,9.2M510.1,248.3l9.2,-9.2M510.7,244.2h13.0M517.2,237.7v13.0M512.6,239.6l9.2,9.2M512.6,248.8l9.2,-9.2M513.2,244.6h13.0M519.7,238.1v13.0M515.1,240.0l9.2,9.2M515.1,249.2l9.2,-9.2M515.6,245.0h13.0M522.1,238.5v13.0M517.5,240.4l9.2,9.2M517.5,249.6l9.2,-9.2M518.1,245.4h13.0M524.6,238.9v13.0M520.0,240.8l9.2,9.2M520.0,250.0l9.2,-9.2M520.6,245.8h13.0M527.1,239.3v13.0M522.5,241.2l9.2,9.2M522.5,250.4l9.2,-9.2M523.0,246.2h13.0M529.5,239.7v13.0M524.9,241.6l9.2,9.2M524.9,250.8l9.2,-9.2M525.5,246.6h13.0M532.0,240.1v13.0M527.4,242.0l9.2,9.2M527.4,251.2l9.2,-9.2M528.0,247.0h13.0M534.5,240.5v13.0M529.9,242.4l9.2,9.2M529.9,251.6l9.2,-9.2M530.4,247.4h13.0M536.9,240.9v13.0M532.3,242.8l9.2,9.2M532.3,252.0l9.2,-9.2M532.9,247.8h13.0M539.4,241.3v13.0M534.8,243.2l9.2,9.2M534.8,252.4l9.2,-9.2M535.4,248.2h13.0M541.9,241.7v13.0M537.3,243.6l9.2,9.2M537.3,252.8l9.2,-9.2M537.8,248.6h13.0M544.3,242.1v13.0M539.7,244.0l9.2,9.2M539.7,253.2l9.2,-9.2M540.3,249.0h13.0M546.8,242.5v13.0M542.2,244.4l9.2,9.2M542.2,253.6l9.2,-9.2M542.8,249.4h13.0M549.3,242.9v13.0M544.7,244.8l9.2,9.2M544.7,254.0l9.2,-9.2M545.2,249.8h13.0M551.7,243.3v13.0M547.1,245.2l9.2,9.2M547.1,254.4l9.2,-9.2M547.7,250.3h13.0M554.2,243.8v13.0M549.6,245.7l9.2,9.2M549.6,254.8l9.2,-9.2M550.2,250.7h13.0M556.7,244.2v13.0M552.1,246.1l9.2,9.2M552.1,255.3l9.2,-9.2M552.6,251.1h13.0M559.1,244.6v13.0M554.5,246.5l9.2,9.2M554.5,255.7l9.2,-9.2M555.1,251.5h13.0M561.6,245.0v13.0M557.0,246.9l9.2,9.2M557.0,256.1l9.2,-9.2M557.6,251.9h13.0M564.1,245.4v13.0M559.5,247.3l9.2,9.2M559.5,256.5l9.2,-9.2M560.0,252.3h13.0M566.5,245.8v13.0M561.9,247.7l9.2,9.2M561.9,256.9l9.2,-9.2M562.5,252.7h13.0M569.0,246.2v13.0M564.4,248.1l9.2,9.2M564.4,257.3l9.2,-9.2M565.0,253.1h13.0M571.5,246.6v13.0M566.9,248.5l9.2,9.2M566.9,257.7l9.2,-9.2M567.4,253.5h13.0M573.9,247.0v13.0M569.3,248.9l9.2,9.2M569.3,258.1l9.2,-9.2M569.9,253.9h13.0M576.4,247.4v13.0M571.8,249.3l9.2,9.2M571.8,258.5l9.2,-9.2M572.4,254.3h13.0M578.9,247.8v13.0M574.3,249.7l9.2,9.2M574.3,258.9l9.2,-9.2M574.8,254.7h13.0M581.3,248.2v13.0M576.7,250.1l9.2,9.2M576.7,259.3l9.2,-9.2M577.3,255.1h13.0M583.8,248.6v13.0M579.2,250.5l9.2,9.2M579.2,259.7l9.2,-9.2M579.8,255.5h13.0M586.3,249.0v13.0M581.7,250.9l9.2,9.2M581.7,260.1l9.2,-9.2M582.2,255.9h13.0M588.7,249.4v13.0M584.1,251.3l9.2,9.2M584.1,260.5l9.2,-9.2M584.7,256.3h13.0M591.2,249.8v13.0M586.6,251.7l9.2,9.2M586.6,260.9l9.2,-9.2M587.2,256.7h13.0M593.7,250.2v13.0M589.1,252.1l9.2,9.2M589.1,261.3l9.2,-9.2M589.6,257.1h13.0M596.1,250.6v13.0M591.5,252.5l9.2,9.2M591.5,261.7l9.2,-9.2M592.1,257.5h13.0M598.6,251.0v13.0M594.0,252.9l9.2,9.2M594.0,262.1l9.2,-9.2M594.6,257.9h13.0M601.1,251.4v13.0M596.5,253.3l9.2,9.2M596.5,262.5l9.2,-9.2M597.0,258.3h13.0M603.5,251.8v13.0M598.9,253.7l9.2,9.2M598.9,262.9l9.2,-9.2M599.5,258.7h13.0M606.0,252.2v13.0M601.4,254.1l9.2,9.2M601.4,263.3l9.2,-9.2M602.0,259.1h13.0M608.5,252.6v13.0M603.9,254.5l9.2,9.2M603.9,263.7l9.2,-9.2M604.4,259.5h13.0M610.9,253.0v13.0M606.4,254.9l9.2,9.2M606.4,264.1l9.2,-9.2M606.9,259.9h13.0M613.4,253.4v13.0M608.8,255.3l9.2,9.2M608.8,264.5l9.2,-9.2M609.4,260.3h13.0M615.9,253.8v13.0M611.3,255.7l9.2,9.2M611.3,264.9l9.2,-9.2M611.8,260.7h13.0M618.3,254.2v13.0M613.8,256.1l9.2,9.2M613.8,265.3l9.2,-9.2M614.3,261.1h13.0M620.8,254.6v13.0M616.2,256.5l9.2,9.2M616.2,265.7l9.2,-9.2M616.8,261.5h13.0M623.3,255.0v13.0M618.7,257.0l9.2,9.2M618.7,266.1l9.2,-9.2M619.3,261.9h13.0M625.8,255.4v13.0M621.2,257.4l9.2,9.2M621.2,266.5l9.2,-9.2M621.7,262.3h13.0M628.2,255.8v13.0M623.6,257.8l9.2,9.2M623.6,266.9l9.2,-9.2M624.2,262.8h13.0M630.7,256.3v13.0M626.1,258.2l9.2,9.2M626.1,267.3l9.2,-9.2M626.7,263.2h13.0M633.2,256.7v13.0M628.6,258.6l9.2,9.2M628.6,267.7l9.2,-9.2M629.1,263.6h13.0M635.6,257.1v13.0M631.0,259.0l9.2,9.2M631.0,268.2l9.2,-9.2M631.6,264.0h13.0M638.1,257.5v13.0M633.5,259.4l9.2,9.2M633.5,268.6l9.2,-9.2M634.1,264.4h13.0M640.6,257.9v13.0M636.0,259.8l9.2,9.2M636.0,269.0l9.2,-9.2M636.5,264.8h13.0M643.0,258.3v13.0M638.4,260.2l9.2,9.2M638.4,269.4l9.2,-9.2M639.0,265.2h13.0M645.5,258.7v13.0M640.9,260.6l9.2,9.2M640.9,269.8l9.2,-9.2M641.5,265.6h13.0M648.0,259.1v13.0M643.4,261.0l9.2,9.2M643.4,270.2l9.2,-9.2M643.9,266.0h13.0M650.4,259.5v13.0M645.8,261.4l9.2,9.2M645.8,270.6l9.2,-9.2M646.4,266.4h13.0M652.9,259.9v13.0M648.3,261.8l9.2,9.2M648.3,271.0l9.2,-9.2M648.9,266.8h13.0M655.4,260.3v13.0M650.8,262.2l9.2,9.2M650.8,271.4l9.2,-9.2M651.3,267.2h13.0M657.8,260.7v13.0M653.2,262.6l9.2,9.2M653.2,271.8l9.2,-9.2M653.8,267.6h13.0M660.3,261.1v13.0M655.7,263.0l9.2,9.2M655.7,272.2l9.2,-9.2M656.3,268.0h13.0M662.8,261.5v13.0M658.2,263.4l9.2,9.2M658.2,272.6l9.2,-9.2M658.7,268.4h13.0M665.2,261.9v13.0M660.6,263.8l9.2,9.2M660.6,273.0l9.2,-9.2" fill="none" stroke="#ff0000" stroke-width="1.3"/>
<path d="M706.0,259.0C711.1 261.4 726.1 268.0 736.6 273.4C747.1 278.8 758.1 284.7 768.8 291.1C779.5 297.5 792.7 306.4 801.0 312.0C809.3 317.6 815.8 322.8 818.7 325.0" fill="none" stroke="#00ff00" stroke-width="10" stroke-linecap="round"/><path d="M699.5,259.0h13.0M706.0,252.5v13.0M701.4,254.4l9.2,9.2M701.4,263.6l9.2,-9.2M701.8,260.1h13.0M708.3,253.6v13.0M703.7,255.5l9.2,9.2M703.7,264.7l9.2,-9.2M704.0,261.1h13.0M710.5,254.6v13.0M705.9,256.5l9.2,9.2M705.9,265.7l9.2,-9.2M706.3,262.2h13.0M712.8,255.7v13.0M708.2,257.6l9.2,9.2M708.2,266.8l9.2,-9.2M708.5,263.3h13.0M715.0,256.8v13.0M710.5,258.7l9.2,9.2M710.5,267.9l9.2,-9.2M710.8,264.3h13.0M717.3,257.8v13.0M712.7,259.7l9.2,9.2M712.7,268.9l9.2,-9.2M713.1,265.4h13.0M719.6,258.9v13.0M715.0,260.8l9.2,9.2M715.0,270.0l9.2,-9.2M715.3,266.5h13.0M721.8,260.0v13.0M717.2,261.9l9.2,9.2M717.2,271.0l9.2,-9.2M717.6,267.5h13.0M724.1,261.0v13.0M719.5,262.9l9.2,9.2M719.5,272.1l9.2,-9.2M719.9,268.6h13.0M726.4,262.1v13.0M721.8,264.0l9.2,9.2M721.8,273.2l9.2,-9.2M722.1,269.6h13.0M728.6,263.1v13.0M724.0,265.0l9.2,9.2M724.0,274.2l9.2,-9.2M724.4,270.7h13.0M730.9,264.2v13.0M726.3,266.1l9.2,9.2M726.3,275.3l9.2,-9.2M726.6,271.8h13.0M733.1,265.3v13.0M728.5,267.2l9.2,9.2M728.5,276.4l9.2,-9.2M728.9,272.8h13.0M735.4,266.3v13.0M730.8,268.2l9.2,9.2M730.8,277.4l9.2,-9.2M731.1,274.0h13.0M737.6,267.5v13.0M733.0,269.4l9.2,9.2M733.0,278.6l9.2,-9.2M733.3,275.2h13.0M739.8,268.7v13.0M735.2,270.6l9.2,9.2M735.2,279.8l9.2,-9.2M735.5,276.4h13.0M742.0,269.9v13.0M737.4,271.8l9.2,9.2M737.4,281.0l9.2,-9.2M737.7,277.6h13.0M744.2,271.1v13.0M739.6,273.0l9.2,9.2M739.6,282.2l9.2,-9.2M739.9,278.8h13.0M746.4,272.3v13.0M741.8,274.2l9.2,9.2M741.8,283.4l9.2,-9.2M742.1,280.0h13.0M748.6,273.5v13.0M744.0,275.4l9.2,9.2M744.0,284.6l9.2,-9.2M744.3,281.2h13.0M750.8,274.7v13.0M746.2,276.6l9.2,9.2M746.2,285.8l9.2,-9.2M746.5,282.4h13.0M753.0,275.9v13.0M748.4,277.8l9.2,9.2M748.4,287.0l9.2,-9.2M748.7,283.6h13.0M755.2,277.1v13.0M750.6,279.0l9.2,9.2M750.6,288.2l9.2,-9.2M750.9,284.8h13.0M757.4,278.3v13.0M752.8,280.2l9.2,9.2M752.8,289.4l9.2,-9.2M753.0,286.0h13.0M759.5,279.5v13.0M754.9,281.4l9.2,9.2M754.9,290.6l9.2,-9.2M755.2,287.2h13.0M761.7,280.7v13.0M757.1,282.6l9.2,9.2M757.1,291.8l9.2,-9.2M757.4,288.4h13.0M763.9,281.9v13.0M759.3,283.8l9.2,9.2M759.3,293.0l9.2,-9.2M759.6,289.6h13.0M766.1,283.1v13.0M761.5,285.0l9.2,9.2M761.5,294.2l9.2,-9.2M761.8,290.8h13.0M768.3,284.3v13.0M763.7,286.2l9.2,9.2M763.7,295.4l9.2,-9.2M763.9,292.2h13.0M770.4,285.7v13.0M765.8,287.6l9.2,9.2M765.8,296.8l9.2,-9.2M766.0,293.5h13.0M772.5,287.0v13.0M767.9,288.9l9.2,9.2M767.9,298.1l9.2,-9.2M768.1,294.9h13.0M774.6,288.4v13.0M770.0,290.3l9.2,9.2M770.0,299.5l9.2,-9.2M770.2,296.2h13.0M776.7,289.7v13.0M772.1,291.6l9.2,9.2M772.1,300.8l9.2,-9.2M772.3,297.6h13.0M778.8,291.1v13.0M774.2,293.0l9.2,9.2M774.2,302.2l9.2,-9.2M774.4,299.0h13.0M780.9,292.5v13.0M776.3,294.4l9.2,9.2M776.3,303.6l9.2,-9.2M776.5,300.3h13.0M783.0,293.8v13.0M778.4,295.7l9.2,9.2M778.4,304.9l9.2,-9.2M778.6,301.7h13.0M785.1,295.2v13.0M780.5,297.1l9.2,9.2M780.5,306.3l9.2,-9.2M780.7,303.0h13.0M787.2,296.5v13.0M782.6,298.4l9.2,9.2M782.6,307.6l9.2,-9.2M782.8,304.4h13.0M789.3,297.9v13.0M784.7,299.8l9.2,9.2M784.7,309.0l9.2,-9.2M784.9,305.8h13.0M791.4,299.3v13.0M786.8,301.2l9.2,9.2M786.8,310.4l9.2,-9.2M787.0,307.1h13.0M793.5,300.6v13.0M788.9,302.5l9.2,9.2M788.9,311.7l9.2,-9.2M789.1,308.5h13.0M795.6,302.0v13.0M791.0,303.9l9.2,9.2M791.0,313.1l9.2,-9.2M791.2,309.8h13.0M797.7,303.3v13.0M793.1,305.3l9.2,9.2M793.1,314.4l9.2,-9.2M793.3,311.2h13.0M799.8,304.7v13.0M795.2,306.6l9.2,9.2M795.2,315.8l9.2,-9.2M795.3,312.6h13.0M801.8,306.1v13.0M797.2,308.0l9.2,9.2M797.2,317.2l9.2,-9.2M797.4,314.1h13.0M803.9,307.6v13.0M799.3,309.5l9.2,9.2M799.3,318.7l9.2,-9.2M799.4,315.6h13.0M805.9,309.1v13.0M801.3,311.0l9.2,9.2M801.3,320.2l9.2,-9.2M801.4,317.1h13.0M807.9,310.6v13.0M803.3,312.5l9.2,9.2M803.3,321.7l9.2,-9.2M803.4,318.5h13.0M809.9,312.0v13.0M805.3,313.9l9.2,9.2M805.3,323.1l9.2,-9.2M805.4,320.0h13.0M811.9,313.5v13.0M807.3,315.4l9.2,9.2M807.3,324.6l9.2,-9.2M807.4,321.5h13.0M813.9,315.0v13.0M809.3,316.9l9.2,9.2M809.3,326.1l9.2,-9.2M809.4,323.0h13.0M815.9,316.5v13.0M811.4,318.4l9.2,9.2M811.4,327.6l9.2,-9.2M811.5,324.5h13.0M818.0,318.0v13.0M813.4,319.9l9.2,9.2M813.4,329.1l9.2,-9.2" fill="none" stroke="#00ff00" stroke-width="1.3"/>
<path d="M342.0,348.7C343.8 350.6 347.5 356.1 353.0 359.8C358.5 363.5 365.8 367.7 375.0 370.8C384.2 373.9 397.0 377.0 408.0 378.5C419.0 380.0 429.9 379.8 441.0 379.6C452.1 379.4 465.1 378.1 474.3 377.4C483.5 376.7 492.6 375.6 496.3 375.2" fill="none" stroke="#ff00ff" stroke-width="10" stroke-linecap="round"/><path d="M335.5,348.7h13.0M342.0,342.2v13.0M337.4,344.1l9.2,9.2M337.4,353.3l9.2,-9.2M337.3,350.5h13.0M343.8,344.0v13.0M339.2,345.9l9.2,9.2M339.2,355.1l9.2,-9.2M339.0,352.3h13.0M345.5,345.8v13.0M340.9,347.7l9.2,9.2M340.9,356.8l9.2,-9.2M340.8,354.0h13.0M347.3,347.5v13.0M342.7,349.4l9.2,9.2M342.7,358.6l9.2,-9.2M342.5,355.8h13.0M349.0,349.3v13.0M344.4,351.2l9.2,9.2M344.4,360.4l9.2,-9.2M344.3,357.6h13.0M350.8,351.1v13.0M346.2,353.0l9.2,9.2M346.2,362.2l9.2,-9.2M346.1,359.4h13.0M352.6,352.9v13.0M348.0,354.8l9.2,9.2M348.0,364.0l9.2,-9.2M348.2,360.6h13.0M354.7,354.1v13.0M350.1,356.0l9.2,9.2M350.1,365.2l9.2,-9.2M350.4,361.8h13.0M356.9,355.3v13.0M352.3,357.2l9.2,9.2M352.3,366.4l9.2,-9.2M352.6,362.9h13.0M359.1,356.4v13.0M354.6,358.3l9.2,9.2M354.6,367.5l9.2,-9.2M354.9,364.0h13.0M361.4,357.5v13.0M356.8,359.4l9.2,9.2M356.8,368.6l9.2,-9.2M357.1,365.1h13.0M363.6,358.6v13.0M359.0,360.5l9.2,9.2M359.0,369.7l9.2,-9.2M359.4,366.2h13.0M365.9,359.7v13.0M361.3,361.6l9.2,9.2M361.3,370.8l9.2,-9.2M361.6,367.3h13.0M368.1,360.8v13.0M363.5,362.7l9.2,9.2M363.5,371.9l9.2,-9.2M363.8,368.5h13.0M370.3,362.0v13.0M365.7,363.9l9.2,9.2M365.7,373.1l9.2,-9.2M366.1,369.6h13.0M372.6,363.1v13.0M368.0,365.0l9.2,9.2M368.0,374.2l9.2,-9.2M368.3,370.7h13.0M374.8,364.2v13.0M370.2,366.1l9.2,9.2M370.2,375.3l9.2,-9.2M370.7,371.3h13.0M377.2,364.8v13.0M372.6,366.7l9.2,9.2M372.6,375.9l9.2,-9.2M373.2,371.9h13.0M379.7,365.4v13.0M375.1,367.3l9.2,9.2M375.1,376.5l9.2,-9.2M375.6,372.5h13.0M382.1,366.0v13.0M377.5,367.9l9.2,9.2M377.5,377.0l9.2,-9.2M378.0,373.0h13.0M384.5,366.5v13.0M379.9,368.4l9.2,9.2M379.9,377.6l9.2,-9.2M380.5,373.6h13.0M387.0,367.1v13.0M382.4,369.0l9.2,9.2M382.4,378.2l9.2,-9.2M382.9,374.2h13.0M389.4,367.7v13.0M384.8,369.6l9.2,9.2M384.8,378.8l9.2,-9.2M385.3,374.7h13.0M391.8,368.2v13.0M387.2,370.1l9.2,9.2M387.2,379.3l9.2,-9.2M387.8,375.3h13.0M394.3,368.8v13.0M389.7,370.7l9.2,9.2M389.7,379.9l9.2,-9.2M390.2,375.9h13.0M396.7,369.4v13.0M392.1,371.3l9.2,9.2M392.1,380.5l9.2,-9.2M392.6,376.4h13.0M399.1,369.9v13.0M394.5,371.8l9.2,9.2M394.5,381.0l9.2,-9.2M395.1,377.0h13.0M401.6,370.5v13.0M397.0,372.4l9.2,9.2M397.0,381.6l9.2,-9.2M397.5,377.6h13.0M404.0,371.1v13.0M399.4,373.0l9.2,9.2M399.4,382.2l9.2,-9.2M399.9,378.1h13.0M406.4,371.6v13.0M401.8,373.5l9.2,9.2M401.8,382.7l9.2,-9.2M402.4,378.5h13.0M408.9,372.0v13.0M404.3,373.9l9.2,9.2M404.3,383.1l9.2,-9.2M404.9,378.6h13.0M411.4,372.1v13.0M406.8,374.0l9.2,9.2M406.8,383.2l9.2,-9.2M407.4,378.7h13.0M413.9,372.2v13.0M409.3,374.1l9.2,9.2M409.3,383.3l9.2,-9.2M409.9,378.8h13.0M416.4,372.3v13.0M411.8,374.2l9.2,9.2M411.8,383.4l9.2,-9.2M412.4,378.9h13.0M418.9,372.4v13.0M414.3,374.3l9.2,9.2M414.3,383.5l9.2,-9.2M414.9,378.9h13.0M421.4,372.4v13.0M416.8,374.3l9.2,9.2M416.8,383.5l9.2,-9.2M417.4,379.0h13.0M423.9,372.5v13.0M419.3,374.4l9.2,9.2M419.3,383.6l9.2,-9.2M419.9,379.1h13.0M426.4,372.6v13.0M421.8,374.5l9.2,9.2M421.8,383.7l9.2,-9.2M422.4,379.2h13.0M428.9,372.7v13.0M424.3,374.6l9.2,9.2M424.3,383.8l9.2,-9.2M424.9,379.3h13.0M431.4,372.8v13.0M426.8,374.7l9.2,9.2M426.8,383.9l9.2,-9.2M427.4,379.4h13.0M433.9,372.9v13.0M429.3,374.8l9.2,9.2M429.3,384.0l9.2,-9.2M429.9,379.4h13.0M436.4,372.9v13.0M431.8,374.8l9.2,9.2M431.8,384.0l9.2,-9.2M432.4,379.5h13.0M438.9,373.0v13.0M434.3,374.9l9.2,9.2M434.3,384.1l9.2,-9.2M434.9,379.6h13.0M441.4,373.1v13.0M436.8,375.0l9.2,9.2M436.8,384.2l9.2,-9.2M437.4,379.4h13.0M443.9,372.9v13.0M439.3,374.8l9.2,9.2M439.3,384.0l9.2,-9.2M439.9,379.2h13.0M446.4,372.7v13.0M441.8,374.6l9.2,9.2M441.8,383.8l9.2,-9.2M442.4,379.1h13.0M448.9,372.6v13.0M444.3,374.5l9.2,9.2M444.3,383.7l9.2,-9.2M444.8,378.9h13.0M451.3,372.4v13.0M446.8,374.3l9.2,9.2M446.8,383.5l9.2,-9.2M447.3,378.8h13.0M453.8,372.3v13.0M449.2,374.2l9.2,9.2M449.2,383.3l9.2,-9.2M449.8,378.6h13.0M456.3,372.1v13.0M451.7,374.0l9.2,9.2M451.7,383.2l9.2,-9.2M452.3,378.4h13.0M458.8,371.9v13.0M454.2,373.8l9.2,9.2M454.2,383.0l9.2,-9.2M454.8,378.3h13.0M461.3,371.8v13.0M456.7,373.7l9.2,9.2M456.7,382.9l9.2,-9.2M457.3,378.1h13.0M463.8,371.6v13.0M459.2,373.5l9.2,9.2M459.2,382.7l9.2,-9.2M459.8,377.9h13.0M466.3,371.4v13.0M461.7,373.3l9.2,9.2M461.7,382.5l9.2,-9.2M462.3,377.8h13.0M468.8,371.3v13.0M464.2,373.2l9.2,9.2M464.2,382.4l9.2,-9.2M464.8,377.6h13.0M471.3,371.1v13.0M466.7,373.0l9.2,9.2M466.7,382.2l9.2,-9.2M467.3,377.4h13.0M473.8,370.9v13.0M469.2,372.8l9.2,9.2M469.2,382.0l9.2,-9.2M469.8,377.2h13.0M476.3,370.7v13.0M471.7,372.6l9.2,9.2M471.7,381.8l9.2,-9.2M472.3,377.0h13.0M478.8,370.5v13.0M474.2,372.4l9.2,9.2M474.2,381.5l9.2,-9.2M474.8,376.7h13.0M481.3,370.2v13.0M476.7,372.1l9.2,9.2M476.7,381.3l9.2,-9.2M477.3,376.5h13.0M483.8,370.0v13.0M479.2,371.9l9.2,9.2M479.2,381.1l9.2,-9.2M479.7,376.2h13.0M486.2,369.7v13.0M481.6,371.6l9.2,9.2M481.6,380.8l9.2,-9.2M482.2,376.0h13.0M488.7,369.5v13.0M484.1,371.4l9.2,9.2M484.1,380.6l9.2,-9.2M484.7,375.7h13.0M491.2,369.2v13.0M486.6,371.1l9.2,9.2M486.6,380.3l9.2,-9.2M487.2,375.5h13.0M493.7,369.0v13.0M489.1,370.9l9.2,9.2M489.1,380.1l9.2,-9.2M489.7,375.2h13.0M496.2,368.7v13.0M491.6,370.6l9.2,9.2M491.6,379.8l9.2,-9.2" fill="none" stroke="#ff00ff" stroke-width="1.3"/>
</g>
<g stroke="#262626" stroke-width="1.3" fill="none">
<line x1="136.30" y1="102.6" x2="136.30" y2="110.1"/><line x1="136.30" y1="470.5" x2="136.30" y2="463.0"/><line x1="245.62" y1="102.6" x2="245.62" y2="110.1"/><line x1="245.62" y1="470.5" x2="245.62" y2="463.0"/><line x1="354.94" y1="102.6" x2="354.94" y2="110.1"/><line x1="354.94" y1="470.5" x2="354.94" y2="463.0"/><line x1="464.26" y1="102.6" x2="464.26" y2="110.1"/><line x1="464.26" y1="470.5" x2="464.26" y2="463.0"/><line x1="573.58" y1="102.6" x2="573.58" y2="110.1"/><line x1="573.58" y1="470.5" x2="573.58" y2="463.0"/><line x1="682.90" y1="102.6" x2="682.90" y2="110.1"/><line x1="682.90" y1="470.5" x2="682.90" y2="463.0"/><line x1="792.22" y1="102.6" x2="792.22" y2="110.1"/><line x1="792.22" y1="470.5" x2="792.22" y2="463.0"/><line x1="101.3" y1="124.80" x2="108.8" y2="124.80"/><line x1="835.5" y1="124.80" x2="828.0" y2="124.80"/><line x1="101.3" y1="184.80" x2="108.8" y2="184.80"/><line x1="835.5" y1="184.80" x2="828.0" y2="184.80"/><line x1="101.3" y1="244.80" x2="108.8" y2="244.80"/><line x1="835.5" y1="244.80" x2="828.0" y2="244.80"/><line x1="101.3" y1="304.80" x2="108.8" y2="304.80"/><line x1="835.5" y1="304.80" x2="828.0" y2="304.80"/><line x1="101.3" y1="364.80" x2="108.8" y2="364.80"/><line x1="835.5" y1="364.80" x2="828.0" y2="364.80"/><line x1="101.3" y1="424.80" x2="108.8" y2="424.80"/><line x1="835.5" y1="424.80" x2="828.0" y2="424.80"/><rect x="101.3" y="102.6" width="734.2" height="367.9" fill="none"/>
</g>
<g font-size="20.6px" fill="#262626">
<text x="136.30" y="498.5" text-anchor="middle">118.606</text><text x="245.62" y="498.5" text-anchor="middle">118.608</text><text x="354.94" y="498.5" text-anchor="middle">118.61</text><text x="464.26" y="498.5" text-anchor="middle">118.612</text><text x="573.58" y="498.5" text-anchor="middle">118.614</text><text x="682.90" y="498.5" text-anchor="middle">118.616</text><text x="792.22" y="498.5" text-anchor="middle">118.618</text><text x="91.5" y="131.80" text-anchor="end">31.95</text><text x="91.5" y="191.80" text-anchor="end">31.948</text><text x="91.5" y="251.80" text-anchor="end">31.946</text><text x="91.5" y="311.80" text-anchor="end">31.944</text><text x="91.5" y="371.80" text-anchor="end">31.942</text><text x="91.5" y="431.80" text-anchor="end">31.94</text>
</g>
<text x="469" y="530.8" font-size="25.8px" text-anchor="middle" fill="#262626">Longitude/°</text>
<text transform="translate(24.4,287) rotate(-90)" font-size="25.8px" text-anchor="middle" fill="#262626">Latitude/°</text>

<rect x="102.3" y="21.6" width="733" height="66.6" fill="#fff" stroke="#262626" stroke-width="1.3"/>
<line x1="107.5" y1="40.2" x2="160.2" y2="40.2" stroke="#5585d0" stroke-width="1.4"/>
<g stroke="#00ff00" stroke-width="1.3" fill="none"><line x1="127.6" y1="72.5" x2="139.6" y2="72.5"/><line x1="133.6" y1="66.5" x2="133.6" y2="78.5"/><line x1="129.35739999999998" y1="68.2574" x2="137.8426" y2="76.7426"/><line x1="129.35739999999998" y1="76.7426" x2="137.8426" y2="68.2574"/></g>
<g stroke="#ff0000" stroke-width="1.3" fill="none"><line x1="389" y1="39.8" x2="401" y2="39.8"/><line x1="395" y1="33.8" x2="395" y2="45.8"/><line x1="390.7574" y1="35.5574" x2="399.2426" y2="44.04259999999999"/><line x1="390.7574" y1="44.04259999999999" x2="399.2426" y2="35.5574"/></g>
<g stroke="#00ffff" stroke-width="1.3" fill="none"><line x1="389" y1="71.4" x2="401" y2="71.4"/><line x1="395" y1="65.4" x2="395" y2="77.4"/><line x1="390.7574" y1="67.15740000000001" x2="399.2426" y2="75.6426"/><line x1="390.7574" y1="75.6426" x2="399.2426" y2="67.15740000000001"/></g>
<g stroke="#ff00ff" stroke-width="1.3" fill="none"><line x1="650.8" y1="40" x2="662.8" y2="40"/><line x1="656.8" y1="34" x2="656.8" y2="46"/><line x1="652.5573999999999" y1="35.757400000000004" x2="661.0426" y2="44.242599999999996"/><line x1="652.5573999999999" y1="44.242599999999996" x2="661.0426" y2="35.757400000000004"/></g>
<g font-size="25.8px" fill="#000">
<text x="163.5" y="50.8">Historical data</text>
<text x="163.5" y="81.4">Acceleration stage</text>
<text x="425.5" y="50.8">Straight stage</text>
<text x="425.5" y="81.4">Deceleration stage</text>
<text x="687" y="50.8">Turning stage</text>
</g>

</svg>
</body></html>
